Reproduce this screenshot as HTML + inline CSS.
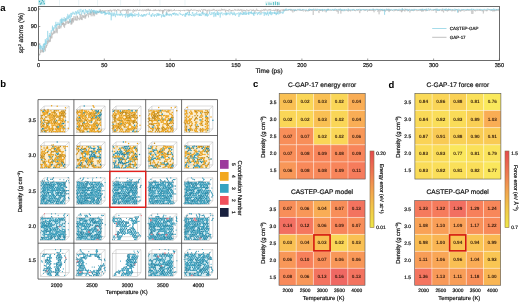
<!DOCTYPE html>
<html><head><meta charset="utf-8"><title>figure</title><style>
*{margin:0;padding:0}
html,body{width:520px;height:302px;background:#fff;overflow:hidden}
svg{display:block}
text{font-family:"Liberation Sans", Arial, sans-serif;fill:#111;stroke:#111;stroke-width:0.2px;text-rendering:geometricPrecision}
.tk{font-size:5.65px}
.lb{font-size:6.5px}
.tk2{font-size:4.85px}
.tk3{font-size:5.2px}
.lb2{font-size:5.8px}
.lg{font-size:4.45px;stroke-width:0.18px}
.ti{font-size:6.6px}
.hv{font-size:4.7px;font-weight:bold;fill:#2a1406;fill-opacity:0.92;stroke:none}
.pl{font-size:9.5px;font-weight:bold;fill:#000;stroke:none}
.cbl{font-size:5.2px}
</style></head>
<body><svg width="520" height="302" viewBox="0 0 520 302"><defs><linearGradient id="cb" x1="0" y1="0" x2="0" y2="1"><stop offset="0" stop-color="#e64a4e"/><stop offset="0.3" stop-color="#ef7a52"/><stop offset="0.5" stop-color="#f3a04e"/><stop offset="0.75" stop-color="#f2c848"/><stop offset="1" stop-color="#eee848"/></linearGradient></defs>
<polyline points="38.5,54.5 38.8,53.5 39.0,54.4 39.3,55.5 39.6,54.2 39.8,55.0 40.1,52.3 40.3,49.1 40.6,52.9 40.9,52.8 41.1,50.0 41.4,50.0 41.7,50.2 41.9,52.2 42.2,49.8 42.5,47.8 42.7,52.1 43.0,49.8 43.2,52.7 43.5,50.9 43.8,51.8 44.0,47.9 44.3,49.9 44.6,46.1 44.8,46.0 45.1,46.4 45.3,51.3 45.6,46.5 45.9,45.1 46.1,44.4 46.4,47.7 46.7,45.0 46.9,45.8 47.2,45.1 47.5,40.6 47.7,44.3 48.0,42.1 48.2,39.7 48.5,42.5 48.8,41.0 49.0,40.1 49.3,39.8 49.6,42.2 49.8,38.9 50.1,35.7 50.4,41.7 50.6,36.0 50.9,37.2 51.1,38.4 51.4,32.2 51.7,34.5 51.9,38.4 52.2,35.1 52.5,33.6 52.7,34.9 53.0,32.6 53.2,33.8 53.5,31.7 53.8,29.6 54.0,33.8 54.3,31.5 54.6,32.5 54.8,30.8 55.1,33.3 55.4,31.8 55.6,30.8 55.9,28.2 56.1,27.4 56.4,32.5 56.7,31.2 56.9,27.8 57.2,33.3 57.5,29.8 57.7,28.8 58.0,25.7 58.3,26.7 58.5,28.6 58.8,28.5 59.0,28.0 59.3,24.0 59.6,28.9 59.8,27.5 60.1,25.8 60.4,26.6 60.6,26.6 60.9,28.3 61.2,25.7 61.4,26.4 61.7,22.8 61.9,23.7 62.2,24.9 62.5,23.2 62.7,25.1 63.0,22.1 63.3,24.2 63.5,22.8 63.8,26.6 64.0,23.0 64.3,27.2 64.6,27.8 64.8,24.0 65.1,25.2 65.4,22.8 65.6,18.3 65.9,24.6 66.2,24.1 66.4,22.2 66.7,21.5 66.9,22.7 67.2,22.7 67.5,20.7 67.7,20.9 68.0,24.0 68.3,21.9 68.5,21.6 68.8,23.7 69.1,20.8 69.3,23.0 69.6,19.1 69.8,20.6 70.1,20.7 70.4,22.0 70.6,20.9 70.9,24.6 71.2,22.7 71.4,19.5 71.7,24.5 71.9,18.2 72.2,23.4 72.5,18.2 72.7,21.3 73.0,17.9 73.3,19.1 73.5,22.4 73.8,16.6 74.1,16.0 74.3,19.0 74.6,19.4 74.8,19.1 75.1,20.7 75.4,16.4 75.6,19.6 75.9,18.6 76.2,20.0 76.4,19.6 76.7,20.8 77.0,15.6 77.2,18.4 77.5,16.1 77.7,20.4 78.0,19.2 78.3,18.4 78.5,18.8 78.8,17.6 79.1,18.3 79.3,18.1 79.6,20.2 79.9,18.9 80.1,13.9 80.4,18.5 80.6,19.2 80.9,16.4 81.2,14.1 81.4,19.8 81.7,17.2 82.0,18.0 82.2,20.1 82.5,15.1 82.7,16.5 83.0,16.3 83.3,17.8 83.5,15.4 83.8,17.3 84.1,16.4 84.3,18.2 84.6,18.3 84.9,13.2 85.1,16.8 85.4,15.1 85.6,18.6 85.9,16.4 86.2,16.5 86.4,14.2 86.7,15.9 87.0,15.5 87.2,15.1 87.5,12.8 87.8,13.7 88.0,14.2 88.3,15.9 88.5,17.4 88.8,12.8 89.1,12.7 89.3,14.8 89.6,13.4 89.9,12.8 90.1,12.7 90.4,12.4 90.6,15.0 90.9,11.1 91.2,16.3 91.4,12.2 91.7,12.9 92.0,12.1 92.2,10.2 92.5,10.9 92.8,15.5 93.0,16.3 93.3,11.9 93.5,14.9 93.8,14.9 94.1,11.7 94.3,15.6 94.6,16.2 94.9,12.4 95.1,12.7 95.4,13.0 95.7,12.5 95.9,13.7 96.2,14.6 96.4,12.6 96.7,13.6 97.0,14.4 97.2,11.4 97.5,12.1 97.8,11.4 98.0,13.1 98.3,12.6 98.6,12.9 98.8,12.6 99.1,11.3 99.3,12.3 99.6,11.0 99.9,10.9 100.1,9.1 100.4,12.5 100.7,10.2 100.9,11.2 101.2,11.1 101.4,12.4 101.7,11.4 102.0,10.4 102.2,11.1 102.5,10.9 102.8,11.2 103.0,10.1 103.3,11.0 103.6,12.5 103.8,11.4 104.1,12.2 104.3,12.9 104.6,11.2 104.9,10.1 105.1,10.8 105.4,11.6 105.7,11.4 105.9,10.1 106.2,10.7 106.5,10.8 106.7,10.8 107.0,10.7 107.2,10.3 107.5,10.4 107.8,10.6 108.0,11.3 108.3,10.4 108.6,11.1 108.8,10.0 109.1,11.4 109.3,10.7 109.6,10.6 109.9,11.4 110.1,9.5 110.4,9.7 110.7,10.9 110.9,10.5 111.2,10.3 111.5,12.1 111.7,10.4 112.0,10.5 112.2,10.4 112.5,11.1 112.8,10.6 113.0,10.6 113.3,9.7 113.6,10.2 113.8,10.4 114.1,9.5 114.4,10.7 114.6,10.6 114.9,11.5 115.1,9.4 115.4,9.7 115.7,9.8 115.9,9.9 116.2,11.1 116.5,10.1 116.7,11.4 117.0,10.4 117.3,10.2 117.5,9.3 117.8,9.9 118.0,10.3 118.3,10.6 118.6,10.6 118.8,9.2 119.1,9.9 119.4,10.2 119.6,10.4 119.9,10.9 120.1,10.3 120.4,13.0 120.7,10.5 120.9,10.4 121.2,10.4 121.5,10.2 121.7,11.2 122.0,10.4 122.3,10.7 122.5,9.7 122.8,10.7 123.0,9.9 123.3,9.3 123.6,10.4 123.8,10.6 124.1,10.1 124.4,10.2 124.6,10.8 124.9,9.9 125.2,9.0 125.4,10.4 125.7,10.3 125.9,10.9 126.2,10.0 126.5,13.4 126.7,11.7 127.0,9.4 127.3,10.8 127.5,9.6 127.8,9.3 128.0,14.8 128.3,9.9 128.6,9.0 128.8,10.3 129.1,10.6 129.4,11.0 129.6,10.2 129.9,9.4 130.2,9.6 130.4,10.8 130.7,10.7 130.9,10.5 131.2,10.0 131.5,10.3 131.7,10.1 132.0,10.0 132.3,10.4 132.5,10.2 132.8,10.1 133.1,12.9 133.3,9.9 133.6,9.1 133.8,9.9 134.1,10.2 134.4,11.2 134.6,10.0 134.9,11.4 135.2,11.1 135.4,9.7 135.7,9.8 136.0,10.3 136.2,11.3 136.5,10.4 136.7,10.6 137.0,9.8 137.3,8.9 137.5,10.1 137.8,10.7 138.1,10.9 138.3,10.3 138.6,10.3 138.8,10.9 139.1,10.2 139.4,10.9 139.6,9.6 139.9,9.6 140.2,9.6 140.4,10.5 140.7,9.9 141.0,10.3 141.2,10.5 141.5,10.4 141.7,11.0 142.0,11.1 142.3,9.7 142.5,10.3 142.8,10.1 143.1,9.6 143.3,11.3 143.6,10.7 143.9,10.1 144.1,10.0 144.4,10.5 144.6,9.6 144.9,10.1 145.2,11.0 145.4,10.8 145.7,9.7 146.0,9.9 146.2,11.4 146.5,9.4 146.7,9.9 147.0,9.4 147.3,10.5 147.5,10.4 147.8,10.9 148.1,8.7 148.3,10.3 148.6,9.3 148.9,10.6 149.1,10.1 149.4,11.2 149.6,10.5 149.9,9.6 150.2,11.0 150.4,9.6 150.7,10.0 151.0,10.9 151.2,10.5 151.5,10.5 151.8,10.3 152.0,10.5 152.3,10.7 152.5,10.4 152.8,10.8 153.1,11.0 153.3,10.3 153.6,9.7 153.9,11.1 154.1,10.2 154.4,10.6 154.7,10.8 154.9,9.7 155.2,10.5 155.4,9.3 155.7,10.7 156.0,10.0 156.2,10.4 156.5,10.7 156.8,9.9 157.0,10.3 157.3,9.9 157.5,10.3 157.8,10.9 158.1,10.3 158.3,10.2 158.6,9.6 158.9,10.8 159.1,10.2 159.4,11.3 159.7,9.8 159.9,10.9 160.2,11.3 160.4,10.3 160.7,9.6 161.0,11.1 161.2,10.9 161.5,10.7 161.8,10.9 162.0,10.0 162.3,10.7 162.6,14.0 162.8,9.9 163.1,12.9 163.3,10.0 163.6,10.8 163.9,11.0 164.1,11.3 164.4,9.1 164.7,10.4 164.9,10.1 165.2,10.2 165.4,10.1 165.7,10.2 166.0,9.1 166.2,10.8 166.5,11.2 166.8,15.1 167.0,11.0 167.3,9.8 167.6,9.7 167.8,10.8 168.1,11.1 168.3,10.4 168.6,9.4 168.9,11.9 169.1,9.9 169.4,10.9 169.7,9.6 169.9,10.9 170.2,10.4 170.5,11.1 170.7,10.8 171.0,9.4 171.2,9.7 171.5,10.5 171.8,10.7 172.0,11.4 172.3,10.5 172.6,10.2 172.8,10.3 173.1,10.3 173.4,10.9 173.6,10.3 173.9,10.2 174.1,10.9 174.4,9.1 174.7,10.3 174.9,10.7 175.2,10.9 175.5,10.6 175.7,10.7 176.0,10.3 176.2,10.8 176.5,9.9 176.8,10.3 177.0,10.1 177.3,10.3 177.6,10.7 177.8,10.8 178.1,10.4 178.4,10.6 178.6,10.1 178.9,10.2 179.1,11.0 179.4,10.2 179.7,11.0 179.9,10.6 180.2,10.4 180.5,11.5 180.7,10.2 181.0,10.1 181.3,10.3 181.5,10.5 181.8,10.4 182.0,10.8 182.3,10.4 182.6,10.6 182.8,10.2 183.1,10.9 183.4,10.1 183.6,10.1 183.9,10.3 184.1,10.5 184.4,9.9 184.7,11.2 184.9,10.0 185.2,10.1 185.5,10.1 185.7,10.0 186.0,10.6 186.3,10.4 186.5,9.8 186.8,10.0 187.0,10.1 187.3,11.1 187.6,9.9 187.8,9.5 188.1,9.6 188.4,10.1 188.6,11.2 188.9,9.7 189.2,13.0 189.4,11.7 189.7,10.0 189.9,11.1 190.2,11.0 190.5,10.6 190.7,9.5 191.0,10.4 191.3,10.1 191.5,9.2 191.8,9.3 192.1,10.3 192.3,10.4 192.6,11.0 192.8,10.6 193.1,10.0 193.4,10.0 193.6,10.2 193.9,9.6 194.2,10.7 194.4,10.3 194.7,9.8 194.9,9.9 195.2,9.6 195.5,10.0 195.7,10.4 196.0,10.0 196.3,10.8 196.5,11.2 196.8,9.9 197.1,10.3 197.3,10.0 197.6,11.2 197.8,10.4 198.1,10.6 198.4,10.7 198.6,11.6 198.9,10.4 199.2,9.7 199.4,10.0 199.7,10.6 200.0,10.2 200.2,11.1 200.5,11.9 200.7,10.3 201.0,9.9 201.3,9.8 201.5,9.2 201.8,9.6 202.1,10.0 202.3,10.0 202.6,9.8 202.8,13.3 203.1,10.2 203.4,9.7 203.6,9.1 203.9,10.3 204.2,10.3 204.4,10.1 204.7,9.4 205.0,10.2 205.2,9.4 205.5,10.8 205.7,10.3 206.0,10.3 206.3,9.8 206.5,10.3 206.8,11.1 207.1,14.1 207.3,10.0 207.6,10.6 207.9,11.1 208.1,9.6 208.4,9.9 208.6,9.9 208.9,10.5 209.2,11.5 209.4,10.4 209.7,9.6 210.0,10.8 210.2,10.7 210.5,11.1 210.8,10.6 211.0,9.8 211.3,10.1 211.5,10.8 211.8,10.2 212.1,10.4 212.3,9.7 212.6,10.6 212.9,10.5 213.1,9.5 213.4,8.9 213.6,10.3 213.9,10.2 214.2,10.1 214.4,9.3 214.7,10.3 215.0,10.8 215.2,10.2 215.5,10.0 215.8,10.7 216.0,11.2 216.3,11.1 216.5,9.8 216.8,10.7 217.1,10.3 217.3,10.1 217.6,9.9 217.9,10.4 218.1,9.9 218.4,10.7 218.7,10.4 218.9,10.8 219.2,9.6 219.4,10.2 219.7,10.7 220.0,10.4 220.2,10.4 220.5,9.8 220.8,11.2 221.0,10.8 221.3,10.4 221.5,8.7 221.8,9.7 222.1,10.3 222.3,9.8 222.6,9.0 222.9,10.4 223.1,10.4 223.4,9.5 223.7,9.9 223.9,9.8 224.2,10.5 224.4,9.1 224.7,9.2 225.0,9.9 225.2,9.8 225.5,12.4 225.8,9.9 226.0,10.3 226.3,10.0 226.6,9.8 226.8,10.4 227.1,11.2 227.3,10.0 227.6,10.7 227.9,10.4 228.1,10.6 228.4,10.4 228.7,11.6 228.9,9.5 229.2,10.1 229.5,9.6 229.7,9.1 230.0,10.2 230.2,11.3 230.5,10.7 230.8,10.9 231.0,10.5 231.3,10.2 231.6,11.4 231.8,10.0 232.1,11.1 232.3,10.1 232.6,10.3 232.9,10.4 233.1,10.3 233.4,10.5 233.7,10.6 233.9,11.2 234.2,10.2 234.5,9.1 234.7,9.1 235.0,9.5 235.2,9.8 235.5,10.6 235.8,9.4 236.0,10.3 236.3,10.3 236.6,10.4 236.8,10.2 237.1,10.5 237.4,10.3 237.6,10.9 237.9,10.4 238.1,8.9 238.4,10.3 238.7,10.4 238.9,9.9 239.2,9.8 239.5,10.9 239.7,10.3 240.0,9.7 240.2,10.1 240.5,10.2 240.8,9.3 241.0,10.6 241.3,10.2 241.6,10.5 241.8,9.4 242.1,12.7 242.4,10.6 242.6,10.5 242.9,9.8 243.1,9.9 243.4,10.2 243.7,11.1 243.9,9.8 244.2,10.4 244.5,10.6 244.7,9.9 245.0,10.8 245.3,11.4 245.5,10.4 245.8,11.1 246.0,10.6 246.3,10.0 246.6,10.0 246.8,9.3 247.1,10.3 247.4,11.1 247.6,10.7 247.9,10.8 248.2,10.9 248.4,10.0 248.7,10.6 248.9,11.4 249.2,9.8 249.5,10.3 249.7,10.0 250.0,10.2 250.3,9.9 250.5,10.2 250.8,9.5 251.0,10.0 251.3,10.0 251.6,10.0 251.8,11.1 252.1,10.3 252.4,10.4 252.6,10.1 252.9,11.0 253.2,9.3 253.4,10.2 253.7,10.9 253.9,11.2 254.2,10.4 254.5,10.3 254.7,11.2 255.0,12.9 255.3,10.6 255.5,9.9 255.8,10.6 256.1,10.2 256.3,9.7 256.6,8.7 256.8,10.8 257.1,10.5 257.4,10.7 257.6,9.8 257.9,10.9 258.2,10.5 258.4,10.2 258.7,10.8 258.9,10.8 259.2,10.5 259.5,11.4 259.7,11.1 260.0,10.5 260.3,10.1 260.5,11.3 260.8,11.3 261.1,13.0 261.3,9.8 261.6,9.9 261.8,10.3 262.1,10.7 262.4,9.9 262.6,10.6 262.9,10.9 263.2,10.7 263.4,9.4 263.7,10.1 264.0,9.6 264.2,10.5 264.5,9.7 264.7,10.6 265.0,10.3 265.3,8.8 265.5,9.8 265.8,10.5 266.1,10.3 266.3,10.0 266.6,9.5 266.9,10.5 267.1,11.2 267.4,10.4 267.6,10.2 267.9,10.2 268.2,9.5 268.4,10.0 268.7,9.8 269.0,10.9 269.2,9.7 269.5,9.0 269.7,9.8 270.0,10.1 270.3,10.1 270.5,9.2 270.8,10.8 271.1,10.3 271.3,10.0 271.6,9.8 271.9,10.5 272.1,10.0 272.4,10.4 272.6,10.2 272.9,10.3 273.2,10.9 273.4,10.2 273.7,9.7 274.0,10.8 274.2,10.4 274.5,9.8 274.8,10.8 275.0,10.1 275.3,10.8 275.5,9.6 275.8,8.9 276.1,9.1 276.3,10.4 276.6,9.8 276.9,10.2 277.1,12.6 277.4,9.3 277.6,11.0 277.9,9.6 278.2,10.3 278.4,9.4 278.7,10.1 279.0,10.6 279.2,12.1 279.5,9.8 279.8,10.2 280.0,13.6 280.3,10.5 280.5,11.4 280.8,9.7 281.1,9.8 281.3,10.1 281.6,10.2 281.9,9.6 282.1,10.5 282.4,10.6 282.7,10.3 282.9,9.5 283.2,11.0 283.4,9.5 283.7,10.6 284.0,10.9 284.2,9.5 284.5,10.3 284.8,11.0 285.0,10.4 285.3,9.7 285.6,9.5 285.8,10.5 286.1,10.0 286.3,9.8 286.6,10.6 286.9,10.0 287.1,10.2 287.4,10.5 287.7,10.5 287.9,10.2 288.2,10.2 288.4,10.5 288.7,10.5 289.0,9.6 289.2,10.1 289.5,9.7 289.8,9.5 290.0,9.9 290.3,8.9 290.6,10.7 290.8,9.8 291.1,10.4 291.3,9.2 291.6,9.3 291.9,11.3 292.1,10.8 292.4,9.8 292.7,9.8 292.9,12.5 293.2,10.3 293.5,10.0 293.7,9.9 294.0,10.3 294.2,9.6 294.5,11.5 294.8,9.9 295.0,10.8 295.3,9.7 295.6,10.4 295.8,10.7 296.1,10.0 296.3,10.7 296.6,10.7 296.9,11.1 297.1,10.2 297.4,9.9 297.7,9.6 297.9,10.3 298.2,9.6 298.5,10.2 298.7,10.3 299.0,9.9 299.2,9.6 299.5,10.4 299.8,10.4 300.0,10.3 300.3,10.2 300.6,10.7 300.8,9.6 301.1,10.5 301.4,10.0 301.6,10.7 301.9,10.0 302.1,10.0 302.4,10.5 302.7,9.1 302.9,10.0 303.2,11.4 303.5,11.2 303.7,10.6 304.0,10.4 304.3,10.0 304.5,10.2 304.8,10.2 305.0,10.4 305.3,11.3 305.6,10.4 305.8,11.5 306.1,10.0 306.4,10.6 306.6,10.6 306.9,10.3 307.1,10.1 307.4,11.0 307.7,11.2 307.9,10.8 308.2,11.4 308.5,10.8 308.7,9.3 309.0,10.8 309.3,9.9 309.5,11.0 309.8,10.1 310.0,10.4 310.3,10.3 310.6,9.9 310.8,9.2 311.1,10.1 311.4,10.2 311.6,10.8 311.9,9.9 312.2,10.4 312.4,9.8 312.7,10.2 312.9,9.2 313.2,15.0 313.5,10.4 313.7,9.7 314.0,10.4 314.3,10.7 314.5,10.4 314.8,11.0 315.0,10.2 315.3,8.8 315.6,9.6 315.8,10.9 316.1,10.7 316.4,10.5 316.6,9.7 316.9,10.7 317.2,10.6 317.4,9.7 317.7,9.7 317.9,10.4 318.2,10.9 318.5,11.1 318.7,11.0 319.0,13.1 319.3,9.8 319.5,10.6 319.8,10.0 320.1,10.6 320.3,9.6 320.6,10.9 320.8,9.7 321.1,9.6 321.4,10.6 321.6,10.8 321.9,10.3 322.2,11.1 322.4,9.4 322.7,11.6 323.0,10.8 323.2,10.4 323.5,10.4 323.7,10.1 324.0,10.1 324.3,10.3 324.5,9.6 324.8,11.4 325.1,10.8 325.3,10.6 325.6,10.2 325.8,10.1 326.1,12.4 326.4,10.6 326.6,9.8 326.9,10.0 327.2,10.6 327.4,9.1 327.7,8.9 328.0,11.0 328.2,10.1 328.5,8.8 328.7,9.8 329.0,10.1 329.3,10.3 329.5,10.5 329.8,10.3 330.1,10.5 330.3,9.8 330.6,10.4 330.9,10.5 331.1,10.9 331.4,10.3 331.6,10.7 331.9,10.3 332.2,9.6 332.4,10.0 332.7,9.9 333.0,10.0 333.2,10.2 333.5,10.3 333.7,10.4 334.0,9.8 334.3,10.8 334.5,9.5 334.8,10.2 335.1,10.6 335.3,10.5 335.6,10.6 335.9,10.1 336.1,10.6 336.4,9.6 336.6,10.7 336.9,11.5 337.2,10.6 337.4,11.4 337.7,10.2 338.0,9.6 338.2,13.7 338.5,11.0 338.8,10.7 339.0,9.2 339.3,10.0 339.5,10.2 339.8,9.6 340.1,8.9 340.3,9.5 340.6,10.1 340.9,13.6 341.1,9.9 341.4,11.1 341.7,10.8 341.9,10.2 342.2,10.8 342.4,10.3 342.7,10.2 343.0,11.2 343.2,10.7 343.5,10.3 343.8,10.3 344.0,10.0 344.3,9.6 344.5,10.5 344.8,10.7 345.1,11.1 345.3,10.7 345.6,9.9 345.9,10.2 346.1,10.8 346.4,10.4 346.7,10.2 346.9,9.9 347.2,10.6 347.4,10.4 347.7,11.2 348.0,10.9 348.2,9.3 348.5,11.4 348.8,10.4 349.0,10.1 349.3,10.4 349.6,10.7 349.8,10.3 350.1,11.1 350.3,10.3 350.6,11.3 350.9,10.3 351.1,10.7 351.4,10.5 351.7,10.1 351.9,9.9 352.2,9.7 352.4,10.5 352.7,9.7 353.0,9.6 353.2,9.6 353.5,9.5 353.8,10.3 354.0,10.3 354.3,9.8 354.6,11.0 354.8,10.1 355.1,10.5 355.3,10.4 355.6,11.2 355.9,10.7 356.1,10.2 356.4,9.7 356.7,9.7 356.9,10.3 357.2,10.3 357.5,10.7 357.7,10.0 358.0,10.4 358.2,9.9 358.5,9.3 358.8,10.2 359.0,11.1 359.3,10.7 359.6,11.0 359.8,13.1 360.1,9.5 360.4,10.1 360.6,11.1 360.9,9.9 361.1,9.5 361.4,10.4 361.7,10.6 361.9,10.4 362.2,10.1 362.5,9.9 362.7,9.6 363.0,9.6 363.2,9.6 363.5,9.5 363.8,9.9 364.0,11.1 364.3,10.3 364.6,10.1 364.8,10.4 365.1,9.7 365.4,10.4 365.6,10.7 365.9,9.4 366.1,9.9 366.4,10.1 366.7,9.7 366.9,9.6 367.2,10.0 367.5,11.6 367.7,10.6 368.0,10.5 368.3,10.8 368.5,10.1 368.8,9.6 369.0,10.5 369.3,10.9 369.6,9.1 369.8,10.5 370.1,10.9 370.4,10.1 370.6,10.0 370.9,10.6 371.1,9.8 371.4,10.5 371.7,10.7 371.9,10.1 372.2,9.8 372.5,10.6 372.7,10.0 373.0,10.3 373.3,8.7 373.5,10.6 373.8,9.5 374.0,12.3 374.3,10.3 374.6,9.8 374.8,9.7 375.1,9.5 375.4,10.0 375.6,10.6 375.9,10.5 376.2,9.9 376.4,9.9 376.7,9.5 376.9,10.0 377.2,9.6 377.5,9.4 377.7,11.7 378.0,11.0 378.3,10.9 378.5,11.0 378.8,9.3 379.1,14.3 379.3,9.5 379.6,9.9 379.8,9.3 380.1,9.7 380.4,11.4 380.6,10.3 380.9,10.2 381.2,10.1 381.4,10.5 381.7,10.2 381.9,9.3 382.2,11.2 382.5,10.1 382.7,10.7 383.0,10.1 383.3,9.8 383.5,10.3 383.8,9.8 384.1,11.1 384.3,9.6 384.6,10.6 384.8,9.9 385.1,10.1 385.4,11.6 385.6,10.6 385.9,10.1 386.2,9.4 386.4,10.1 386.7,10.1 387.0,11.0 387.2,9.4 387.5,9.2 387.7,10.2 388.0,10.3 388.3,11.1 388.5,9.7 388.8,8.7 389.1,12.1 389.3,9.5 389.6,9.9 389.8,10.8 390.1,9.5 390.4,10.9 390.6,10.3 390.9,10.1 391.2,9.7 391.4,10.0 391.7,10.0 392.0,10.6 392.2,10.9 392.5,10.2 392.7,10.6 393.0,10.9 393.3,10.9 393.5,10.5 393.8,11.2 394.1,11.0 394.3,11.1 394.6,10.1 394.9,10.0 395.1,9.1 395.4,11.0 395.6,10.6 395.9,9.7 396.2,10.3 396.4,10.4 396.7,9.3 397.0,10.4 397.2,10.9 397.5,10.9 397.8,10.0 398.0,10.1 398.3,11.0 398.5,10.8 398.8,9.9 399.1,9.9 399.3,10.6 399.6,9.9 399.9,9.9 400.1,11.2 400.4,10.4 400.6,10.0 400.9,10.5 401.2,11.4 401.4,10.4 401.7,12.3 402.0,9.4 402.2,11.4 402.5,8.8 402.8,10.8 403.0,9.7 403.3,9.6 403.5,9.7 403.8,10.1 404.1,10.9 404.3,9.9 404.6,10.6 404.9,11.6 405.1,8.7 405.4,9.8 405.7,9.2 405.9,10.7 406.2,9.4 406.4,9.4 406.7,9.4 407.0,10.2 407.2,10.9 407.5,10.3 407.8,11.4 408.0,11.2 408.3,10.2 408.5,10.8 408.8,10.3 409.1,10.3 409.3,9.2 409.6,9.5 409.9,12.5 410.1,11.0 410.4,10.6 410.7,10.4 410.9,9.7 411.2,10.9 411.4,10.4 411.7,10.9 412.0,10.2 412.2,9.3 412.5,10.6 412.8,10.1 413.0,10.7 413.3,10.9 413.6,10.9 413.8,9.4 414.1,8.9 414.3,10.0 414.6,10.6 414.9,9.8 415.1,10.4 415.4,9.8 415.7,10.1 415.9,10.1 416.2,9.9 416.5,10.5 416.7,10.4 417.0,11.2 417.2,10.5 417.5,11.0 417.8,10.3 418.0,10.7 418.3,10.2 418.6,10.0 418.8,11.0 419.1,10.7 419.3,10.7 419.6,9.8 419.9,9.3 420.1,9.8 420.4,10.4 420.7,9.4 420.9,11.0 421.2,9.4 421.5,10.6 421.7,11.7 422.0,8.8 422.2,9.4 422.5,10.8 422.8,10.1 423.0,11.7 423.3,10.2 423.6,11.0 423.8,10.6 424.1,10.0 424.4,10.1 424.6,9.6 424.9,10.2 425.1,9.0 425.4,10.6 425.7,10.1 425.9,11.3 426.2,10.9 426.5,9.5 426.7,10.7 427.0,9.9 427.2,10.3 427.5,10.8 427.8,10.4 428.0,10.5 428.3,10.5 428.6,9.8 428.8,9.9 429.1,10.5 429.4,10.7 429.6,10.1 429.9,10.3 430.1,9.7 430.4,8.8 430.7,9.8 430.9,10.2 431.2,10.3 431.5,10.7 431.7,10.7 432.0,10.8 432.3,10.4 432.5,10.5 432.8,9.8 433.0,10.4 433.3,10.3 433.6,10.9 433.8,9.3 434.1,10.0 434.4,9.3 434.6,9.8 434.9,9.4 435.2,10.4 435.4,9.8 435.7,8.8 435.9,10.9 436.2,12.9 436.5,9.3 436.7,10.0 437.0,9.8 437.3,9.5 437.5,10.6 437.8,10.0 438.0,10.7 438.3,10.6 438.6,10.6 438.8,10.3 439.1,10.1 439.4,10.0 439.6,11.0 439.9,9.2 440.2,9.6 440.4,9.8 440.7,10.4 440.9,10.3 441.2,9.9 441.5,10.0 441.7,11.2 442.0,9.8 442.3,8.6 442.5,11.2 442.8,9.7 443.1,10.0 443.3,10.3 443.6,12.5 443.8,10.9 444.1,10.1 444.4,9.4 444.6,10.3 444.9,10.5 445.2,10.9 445.4,10.5 445.7,9.4 445.9,10.7 446.2,9.7 446.5,10.9 446.7,10.7 447.0,10.3 447.3,11.6 447.5,10.2 447.8,10.8 448.1,10.5 448.3,9.4 448.6,10.8 448.8,10.8 449.1,9.4 449.4,10.2 449.6,9.4 449.9,10.0 450.2,10.7 450.4,10.3 450.7,9.5 451.0,9.7 451.2,10.2 451.5,10.2 451.7,11.3 452.0,10.5 452.3,9.2 452.5,10.2 452.8,11.2 453.1,10.5 453.3,9.8 453.6,10.3 453.9,10.3 454.1,10.6 454.4,10.2 454.6,11.1 454.9,11.4 455.2,9.8 455.4,10.5 455.7,10.0 456.0,9.6 456.2,9.9 456.5,10.2 456.7,9.1 457.0,9.9 457.3,10.4 457.5,9.8 457.8,10.0 458.1,10.7 458.3,12.6 458.6,10.3 458.9,11.3 459.1,10.3 459.4,10.4 459.6,10.5 459.9,11.1 460.2,10.4 460.4,10.2 460.7,11.7 461.0,10.8 461.2,9.9 461.5,10.9 461.8,10.3 462.0,9.5 462.3,10.6 462.5,10.5 462.8,9.6 463.1,10.4 463.3,10.4 463.6,10.1 463.9,9.7 464.1,11.4 464.4,10.7 464.6,10.8 464.9,10.8 465.2,10.7 465.4,10.7 465.7,10.1 466.0,10.7 466.2,10.2 466.5,10.0 466.8,10.8 467.0,10.2 467.3,9.3 467.5,10.0 467.8,10.6 468.1,10.3 468.3,10.7 468.6,10.1 468.9,9.8 469.1,10.7 469.4,10.3 469.7,9.6 469.9,10.5 470.2,10.6 470.4,10.8 470.7,10.7 471.0,10.5 471.2,9.1 471.5,10.4 471.8,13.9 472.0,10.5 472.3,10.3 472.6,9.9 472.8,13.9 473.1,12.9 473.3,10.1 473.6,9.5 473.9,10.1 474.1,9.9 474.4,11.0 474.7,10.3 474.9,10.3 475.2,10.4 475.4,11.4 475.7,9.8 476.0,10.4 476.2,10.5 476.5,10.4 476.8,10.3 477.0,10.0 477.3,10.9 477.6,10.7 477.8,10.1 478.1,10.1 478.3,10.4 478.6,10.5 478.9,10.7 479.1,10.3 479.4,9.6 479.7,10.8 479.9,9.4 480.2,9.8 480.5,10.5 480.7,9.8 481.0,11.0 481.2,11.1 481.5,10.9 481.8,10.4 482.0,10.4 482.3,10.5 482.6,10.2 482.8,11.4 483.1,10.0 483.3,13.5 483.6,10.6 483.9,10.4 484.1,10.8 484.4,10.9 484.7,10.8 484.9,10.2 485.2,9.9 485.5,9.9 485.7,10.8 486.0,10.6 486.2,10.7 486.5,10.0 486.8,11.3 487.0,9.6 487.3,10.5 487.6,10.6 487.8,10.0 488.1,9.7 488.4,10.0 488.6,9.7 488.9,10.2 489.1,9.6 489.4,9.6 489.7,10.3 489.9,9.5 490.2,10.1 490.5,10.2 490.7,10.7 491.0,10.4 491.3,9.8 491.5,10.9 491.8,9.9 492.0,10.0 492.3,10.1 492.6,11.4 492.8,10.3 493.1,9.9 493.4,10.6 493.6,10.2 493.9,11.5 494.1,9.9 494.4,10.6 494.7,9.8 494.9,11.2 495.2,9.9 495.5,10.3 495.7,9.8 496.0,10.7 496.3,10.6 496.5,9.0 496.8,10.7 497.0,10.6 497.3,10.4 497.6,10.8 497.8,9.6 498.1,9.3 498.4,10.6 498.6,11.1 498.9,9.6 499.2,9.6 499.4,9.8" fill="none" stroke="#ababab" stroke-width="0.45" stroke-linejoin="round"/>
<polyline points="38.5,44.1 38.8,46.8 39.0,44.1 39.3,46.5 39.6,48.3 39.8,49.0 40.1,45.3 40.3,49.3 40.6,44.9 40.9,45.8 41.1,48.3 41.4,46.2 41.7,48.3 41.9,49.7 42.2,48.3 42.5,49.5 42.7,45.9 43.0,46.5 43.2,44.8 43.5,43.7 43.8,51.8 44.0,43.8 44.3,47.9 44.6,43.1 44.8,44.9 45.1,42.3 45.3,39.1 45.6,45.2 45.9,40.6 46.1,40.7 46.4,44.0 46.7,38.1 46.9,38.9 47.2,39.6 47.5,39.6 47.7,30.9 48.0,38.1 48.2,40.6 48.5,38.3 48.8,36.7 49.0,36.3 49.3,35.2 49.6,36.8 49.8,33.1 50.1,34.7 50.4,36.1 50.6,34.6 50.9,33.2 51.1,30.3 51.4,30.6 51.7,31.8 51.9,30.7 52.2,29.8 52.5,25.7 52.7,30.6 53.0,28.0 53.2,27.3 53.5,30.4 53.8,27.9 54.0,27.7 54.3,28.7 54.6,26.5 54.8,25.3 55.1,24.9 55.4,27.3 55.6,26.3 55.9,21.8 56.1,28.4 56.4,25.6 56.7,24.0 56.9,26.1 57.2,24.0 57.5,24.8 57.7,23.4 58.0,22.2 58.3,24.8 58.5,23.8 58.8,24.1 59.0,24.5 59.3,23.5 59.6,25.4 59.8,21.6 60.1,19.6 60.4,19.4 60.6,20.0 60.9,25.7 61.2,19.0 61.4,23.0 61.7,21.5 61.9,17.8 62.2,23.0 62.5,19.2 62.7,20.0 63.0,20.6 63.3,21.7 63.5,19.1 63.8,20.5 64.0,17.6 64.3,17.1 64.6,21.6 64.8,19.8 65.1,19.3 65.4,20.7 65.6,20.4 65.9,18.0 66.2,18.4 66.4,20.7 66.7,18.6 66.9,16.5 67.2,19.4 67.5,18.7 67.7,14.1 68.0,14.4 68.3,19.3 68.5,18.7 68.8,15.5 69.1,18.0 69.3,16.2 69.6,16.3 69.8,14.4 70.1,22.7 70.4,18.8 70.6,16.9 70.9,12.9 71.2,14.7 71.4,17.1 71.7,13.3 71.9,12.9 72.2,14.4 72.5,14.5 72.7,13.1 73.0,11.7 73.3,13.4 73.5,12.7 73.8,13.6 74.1,14.0 74.3,14.8 74.6,12.8 74.8,13.6 75.1,13.5 75.4,11.5 75.6,12.1 75.9,11.4 76.2,15.3 76.4,11.8 76.7,13.5 77.0,13.8 77.2,13.8 77.5,10.4 77.7,10.9 78.0,13.3 78.3,13.9 78.5,12.1 78.8,12.8 79.1,9.5 79.3,14.3 79.6,14.9 79.9,12.4 80.1,12.0 80.4,11.8 80.6,10.8 80.9,8.9 81.2,12.5 81.4,12.7 81.7,14.5 82.0,11.5 82.2,10.6 82.5,12.2 82.7,10.1 83.0,11.8 83.3,9.6 83.5,11.3 83.8,13.3 84.1,12.6 84.3,13.9 84.6,14.1 84.9,11.3 85.1,10.5 85.4,9.0 85.6,11.7 85.9,11.9 86.2,13.1 86.4,10.3 86.7,11.0 87.0,12.4 87.2,10.6 87.5,10.8 87.8,14.0 88.0,10.5 88.3,11.3 88.5,12.0 88.8,12.0 89.1,9.2 89.3,9.4 89.6,9.1 89.9,12.8 90.1,12.2 90.4,10.2 90.6,12.8 90.9,12.2 91.2,13.5 91.4,9.0 91.7,10.0 92.0,10.8 92.2,11.1 92.5,11.8 92.8,11.8 93.0,10.6 93.3,12.2 93.5,9.9 93.8,13.5 94.1,12.4 94.3,9.9 94.6,11.6 94.9,10.8 95.1,11.9 95.4,13.9 95.7,10.8 95.9,12.9 96.2,10.3 96.4,13.2 96.7,13.5 97.0,11.2 97.2,11.1 97.5,11.4 97.8,12.8 98.0,10.6 98.3,13.1 98.6,12.0 98.8,12.4 99.1,12.0 99.3,10.7 99.6,12.3 99.9,11.0 100.1,10.9 100.4,13.4 100.7,12.9 100.9,12.2 101.2,12.4 101.4,11.6 101.7,14.0 102.0,11.3 102.2,11.3 102.5,12.3 102.8,13.7 103.0,12.3 103.3,12.9 103.6,11.8 103.8,12.6 104.1,11.8 104.3,13.1 104.6,11.2 104.9,15.2 105.1,13.9 105.4,12.4 105.7,14.5 105.9,12.2 106.2,14.3 106.5,13.0 106.7,14.2 107.0,13.7 107.2,13.1 107.5,13.5 107.8,13.9 108.0,11.3 108.3,13.6 108.6,14.7 108.8,12.8 109.1,12.9 109.3,13.6 109.6,12.0 109.9,15.0 110.1,12.9 110.4,12.9 110.7,14.2 110.9,14.0 111.2,20.3 111.5,14.9 111.7,12.4 112.0,16.2 112.2,14.9 112.5,14.0 112.8,13.7 113.0,12.6 113.3,16.2 113.6,14.3 113.8,13.5 114.1,15.8 114.4,14.5 114.6,12.5 114.9,13.1 115.1,13.9 115.4,17.2 115.7,14.6 115.9,14.1 116.2,14.9 116.5,14.6 116.7,11.3 117.0,14.8 117.3,15.6 117.5,14.3 117.8,14.9 118.0,15.0 118.3,14.7 118.6,13.8 118.8,14.4 119.1,15.9 119.4,14.8 119.6,14.2 119.9,15.2 120.1,13.5 120.4,13.9 120.7,15.8 120.9,14.4 121.2,12.7 121.5,13.2 121.7,14.9 122.0,13.9 122.3,15.6 122.5,16.4 122.8,14.3 123.0,14.6 123.3,14.4 123.6,14.9 123.8,14.6 124.1,15.5 124.4,14.5 124.6,14.1 124.9,15.0 125.2,14.1 125.4,17.6 125.7,15.8 125.9,13.4 126.2,13.1 126.5,14.7 126.7,15.0 127.0,16.3 127.3,14.5 127.5,14.1 127.8,17.7 128.0,14.3 128.3,14.4 128.6,14.5 128.8,17.0 129.1,14.4 129.4,16.5 129.6,13.4 129.9,14.8 130.2,16.1 130.4,13.5 130.7,13.7 130.9,15.6 131.2,12.6 131.5,16.0 131.7,14.6 132.0,13.7 132.3,17.3 132.5,13.8 132.8,15.0 133.1,14.9 133.3,16.0 133.6,14.5 133.8,16.1 134.1,15.9 134.4,15.4 134.6,16.2 134.9,13.2 135.2,16.3 135.4,15.7 135.7,15.2 136.0,14.9 136.2,14.0 136.5,14.0 136.7,15.2 137.0,15.3 137.3,14.8 137.5,14.0 137.8,14.1 138.1,15.4 138.3,17.0 138.6,12.6 138.8,13.9 139.1,14.6 139.4,14.5 139.6,15.4 139.9,15.9 140.2,15.2 140.4,15.1 140.7,15.5 141.0,16.4 141.2,15.2 141.5,14.2 141.7,15.4 142.0,14.8 142.3,17.0 142.5,15.1 142.8,15.0 143.1,16.1 143.3,16.7 143.6,14.4 143.9,15.7 144.1,14.3 144.4,15.3 144.6,14.2 144.9,15.2 145.2,16.4 145.4,14.9 145.7,15.2 146.0,14.1 146.2,15.3 146.5,15.2 146.7,13.9 147.0,13.6 147.3,14.0 147.5,13.7 147.8,14.3 148.1,14.0 148.3,13.9 148.6,14.4 148.9,14.7 149.1,14.7 149.4,12.3 149.6,14.8 149.9,15.0 150.2,15.2 150.4,14.8 150.7,15.0 151.0,16.0 151.2,16.9 151.5,14.5 151.8,16.5 152.0,14.5 152.3,14.6 152.5,13.6 152.8,13.0 153.1,14.4 153.3,15.4 153.6,16.0 153.9,15.6 154.1,14.7 154.4,16.9 154.7,14.7 154.9,14.8 155.2,14.1 155.4,15.1 155.7,14.7 156.0,15.5 156.2,15.2 156.5,16.6 156.8,14.6 157.0,13.1 157.3,14.6 157.5,14.4 157.8,15.8 158.1,13.2 158.3,15.6 158.6,13.9 158.9,14.6 159.1,15.8 159.4,13.7 159.7,14.7 159.9,14.6 160.2,14.3 160.4,14.8 160.7,15.1 161.0,14.2 161.2,15.2 161.5,17.5 161.8,15.4 162.0,16.3 162.3,15.4 162.6,15.2 162.8,14.7 163.1,13.5 163.3,16.5 163.6,14.6 163.9,17.0 164.1,15.8 164.4,15.2 164.7,17.1 164.9,16.7 165.2,14.5 165.4,14.6 165.7,14.8 166.0,15.5 166.2,12.4 166.5,14.9 166.8,15.6 167.0,12.9 167.3,14.0 167.6,15.1 167.8,14.6 168.1,14.5 168.3,14.0 168.6,14.4 168.9,15.8 169.1,13.7 169.4,14.5 169.7,15.7 169.9,15.5 170.2,13.7 170.5,15.1 170.7,14.6 171.0,14.0 171.2,14.5 171.5,16.3 171.8,14.0 172.0,13.7 172.3,13.8 172.6,13.0 172.8,14.3 173.1,13.8 173.4,13.0 173.6,15.0 173.9,12.8 174.1,12.8 174.4,13.8 174.7,12.7 174.9,13.8 175.2,15.6 175.5,13.5 175.7,14.3 176.0,14.2 176.2,14.5 176.5,13.2 176.8,14.1 177.0,15.4 177.3,14.1 177.6,13.9 177.8,15.4 178.1,15.1 178.4,15.0 178.6,15.3 178.9,14.3 179.1,13.6 179.4,12.6 179.7,13.4 179.9,13.5 180.2,13.4 180.5,13.2 180.7,15.0 181.0,13.9 181.3,14.3 181.5,14.7 181.8,15.1 182.0,15.1 182.3,14.9 182.6,15.9 182.8,14.1 183.1,14.6 183.4,14.5 183.6,14.2 183.9,13.8 184.1,15.2 184.4,14.7 184.7,16.3 184.9,16.9 185.2,16.6 185.5,12.9 185.7,16.5 186.0,14.0 186.3,13.0 186.5,15.0 186.8,12.8 187.0,12.6 187.3,13.5 187.6,12.0 187.8,13.8 188.1,15.2 188.4,13.9 188.6,14.9 188.9,15.8 189.2,15.8 189.4,12.0 189.7,15.0 189.9,14.4 190.2,15.1 190.5,14.3 190.7,14.6 191.0,14.8 191.3,15.7 191.5,15.9 191.8,15.1 192.1,15.9 192.3,12.2 192.6,13.2 192.8,12.4 193.1,13.8 193.4,14.4 193.6,15.7 193.9,14.3 194.2,16.5 194.4,14.6 194.7,14.4 194.9,13.9 195.2,13.1 195.5,14.7 195.7,15.7 196.0,14.7 196.3,14.7 196.5,13.0 196.8,12.1 197.1,15.0 197.3,14.6 197.6,14.4 197.8,14.6 198.1,15.5 198.4,14.1 198.6,13.8 198.9,13.8 199.2,15.4 199.4,14.3 199.7,16.0 200.0,13.2 200.2,16.0 200.5,14.4 200.7,14.6 201.0,14.7 201.3,15.2 201.5,15.9 201.8,12.3 202.1,13.8 202.3,13.8 202.6,11.9 202.8,14.2 203.1,15.2 203.4,14.0 203.6,12.8 203.9,13.5 204.2,13.7 204.4,14.3 204.7,13.7 205.0,12.8 205.2,16.2 205.5,14.1 205.7,15.0 206.0,14.3 206.3,16.0 206.5,13.2 206.8,14.8 207.1,14.2 207.3,16.7 207.6,15.7 207.9,14.4 208.1,15.8 208.4,14.9 208.6,14.2 208.9,13.9 209.2,13.8 209.4,14.0 209.7,11.6 210.0,13.4 210.2,15.1 210.5,14.5 210.8,14.5 211.0,14.0 211.3,14.5 211.5,14.7 211.8,12.1 212.1,13.8 212.3,14.2 212.6,14.1 212.9,14.1 213.1,12.4 213.4,13.3 213.6,12.6 213.9,17.1 214.2,13.5 214.4,12.7 214.7,11.7 215.0,13.8 215.2,15.6 215.5,13.2 215.8,16.7 216.0,15.7 216.3,14.4 216.5,12.7 216.8,12.5 217.1,13.0 217.3,14.9 217.6,11.1 217.9,15.0 218.1,13.9 218.4,15.3 218.7,12.4 218.9,13.3 219.2,12.8 219.4,13.7 219.7,13.8 220.0,13.6 220.2,17.6 220.5,12.7 220.8,12.8 221.0,14.2 221.3,13.8 221.5,13.4 221.8,12.1 222.1,13.3 222.3,13.7 222.6,14.3 222.9,15.3 223.1,14.3 223.4,13.6 223.7,14.0 223.9,13.6 224.2,12.9 224.4,13.3 224.7,13.4 225.0,14.9 225.2,13.5 225.5,13.7 225.8,13.2 226.0,15.5 226.3,12.4 226.6,15.0 226.8,12.8 227.1,13.7 227.3,14.1 227.6,13.6 227.9,14.7 228.1,12.5 228.4,13.5 228.7,13.5 228.9,13.6 229.2,12.6 229.5,12.8 229.7,15.0 230.0,15.3 230.2,14.1 230.5,13.5 230.8,11.8 231.0,13.2 231.3,13.7 231.6,12.4 231.8,13.7 232.1,13.7 232.3,13.5 232.6,15.2 232.9,12.6 233.1,13.2 233.4,13.9 233.7,14.8 233.9,13.4 234.2,12.1 234.5,14.3 234.7,14.7 235.0,13.2 235.2,15.3 235.5,15.9 235.8,14.1 236.0,14.3 236.3,13.9 236.6,14.2 236.8,13.2 237.1,13.8 237.4,14.2 237.6,14.0 237.9,12.9 238.1,12.6 238.4,12.6 238.7,12.8 238.9,17.0 239.2,14.6 239.5,13.9 239.7,13.3 240.0,15.2 240.2,12.0 240.5,13.7 240.8,14.2 241.0,13.4 241.3,13.9 241.6,14.3 241.8,13.0 242.1,14.0 242.4,15.0 242.6,14.2 242.9,13.6 243.1,14.6 243.4,12.2 243.7,14.6 243.9,11.7 244.2,12.6 244.5,14.5 244.7,13.4 245.0,12.2 245.3,13.7 245.5,14.7 245.8,13.4 246.0,11.4 246.3,15.0 246.6,12.9 246.8,13.5 247.1,13.6 247.4,13.9 247.6,13.8 247.9,12.4 248.2,12.8 248.4,14.5 248.7,11.8 248.9,14.8 249.2,12.7 249.5,13.2 249.7,12.2 250.0,13.1 250.3,12.3 250.5,13.5 250.8,12.4 251.0,13.1 251.3,11.2 251.6,14.1 251.8,12.2 252.1,12.9 252.4,13.2 252.6,14.0 252.9,12.9 253.2,14.9 253.4,14.8 253.7,12.6 253.9,16.0 254.2,11.9 254.5,13.7 254.7,13.1 255.0,13.3 255.3,12.9 255.5,13.7 255.8,14.2 256.1,13.5 256.3,12.3 256.6,12.2 256.8,12.0 257.1,13.0 257.4,13.6 257.6,15.1 257.9,12.7 258.2,12.5 258.4,13.8 258.7,12.5 258.9,12.0 259.2,13.2 259.5,12.2 259.7,13.0 260.0,15.1 260.3,13.8 260.5,13.7 260.8,12.8 261.1,14.2 261.3,13.8 261.6,14.3 261.8,13.3 262.1,13.2 262.4,12.3 262.6,12.5 262.9,13.1 263.2,13.0 263.4,13.2 263.7,13.2 264.0,11.7 264.2,15.9 264.5,13.5 264.7,12.9 265.0,12.1 265.3,14.4 265.5,12.9 265.8,12.4 266.1,13.7 266.3,15.3 266.6,13.6 266.9,14.5 267.1,12.6 267.4,14.1 267.6,11.4 267.9,13.1 268.2,14.1 268.4,15.8 268.7,14.4 269.0,12.8 269.2,11.7 269.5,13.5 269.7,12.3 270.0,14.2 270.3,12.9 270.5,10.8 270.8,14.7 271.1,11.9 271.3,12.0 271.6,15.2 271.9,14.7 272.1,14.2 272.4,12.2 272.6,13.6 272.9,13.4 273.2,12.5 273.4,13.1 273.7,13.0 274.0,13.5 274.2,12.0 274.5,14.0 274.8,11.4 275.0,13.5 275.3,14.0 275.5,12.5 275.8,12.7 276.1,15.2 276.3,12.9 276.6,14.6 276.9,14.0 277.1,12.3 277.4,14.1 277.6,12.8 277.9,13.5 278.2,11.1 278.4,13.2 278.7,14.4 279.0,14.3 279.2,14.1 279.5,13.0 279.8,13.1 280.0,12.1 280.3,13.0 280.5,13.0 280.8,12.8 281.1,13.1 281.3,12.5 281.6,11.9 281.9,11.7 282.1,12.8 282.4,13.6 282.7,12.6 282.9,11.5 283.2,13.5 283.4,11.8 283.7,10.9 284.0,11.4 284.2,11.6 284.5,9.6 284.8,9.7 285.0,10.5 285.3,9.5 285.6,9.4 285.8,10.4 286.1,8.5 286.3,10.1 286.6,9.8 286.9,10.2 287.1,9.6 287.4,10.2 287.7,9.7 287.9,9.2 288.2,9.6 288.4,9.8 288.7,9.0 289.0,10.1 289.2,9.3 289.5,9.8 289.8,9.6 290.0,9.7 290.3,9.6 290.6,9.7 290.8,10.0 291.1,9.9 291.3,9.5 291.6,9.7 291.9,10.2 292.1,10.0 292.4,10.0 292.7,9.7 292.9,9.6 293.2,9.6 293.5,10.0 293.7,9.7 294.0,10.3 294.2,10.9 294.5,9.7 294.8,10.4 295.0,10.1 295.3,10.2 295.6,9.4 295.8,10.2 296.1,9.6 296.3,9.9 296.6,10.2 296.9,10.4 297.1,9.5 297.4,9.5 297.7,9.3 297.9,8.9 298.2,9.6 298.5,9.6 298.7,9.7 299.0,9.6 299.2,9.8 299.5,10.1 299.8,8.8 300.0,10.5 300.3,9.6 300.6,9.5 300.8,9.6 301.1,10.1 301.4,9.8 301.6,9.9 301.9,10.2 302.1,9.7 302.4,9.9 302.7,9.9 302.9,9.4 303.2,10.1 303.5,9.5 303.7,10.0 304.0,9.5 304.3,9.7 304.5,9.6 304.8,10.1 305.0,10.0 305.3,10.1 305.6,9.6 305.8,9.4 306.1,9.2 306.4,9.9 306.6,9.6 306.9,10.4 307.1,10.7 307.4,10.1 307.7,10.0 307.9,10.4 308.2,10.5 308.5,9.5 308.7,10.0 309.0,10.4 309.3,8.7 309.5,9.6 309.8,9.8 310.0,9.4 310.3,10.0 310.6,9.0 310.8,10.4 311.1,10.3 311.4,9.7 311.6,10.0 311.9,9.1 312.2,10.4 312.4,10.0 312.7,9.6 312.9,9.4 313.2,9.3 313.5,9.5 313.7,8.7 314.0,9.9 314.3,9.6 314.5,9.3 314.8,9.8 315.0,9.8 315.3,9.9 315.6,10.0 315.8,10.2 316.1,9.9 316.4,10.4 316.6,9.5 316.9,10.4 317.2,8.8 317.4,9.0 317.7,9.2 317.9,9.8 318.2,9.9 318.5,9.2 318.7,9.6 319.0,9.4 319.3,10.0 319.5,9.2 319.8,10.0 320.1,9.6 320.3,10.4 320.6,10.0 320.8,9.5 321.1,9.9 321.4,9.9 321.6,9.3 321.9,9.7 322.2,9.2 322.4,10.7 322.7,9.4 323.0,9.5 323.2,10.4 323.5,10.3 323.7,9.3 324.0,10.2 324.3,10.0 324.5,9.4 324.8,9.8 325.1,9.5 325.3,10.1 325.6,9.6 325.8,9.2 326.1,9.5 326.4,11.4 326.6,9.4 326.9,9.7 327.2,10.1 327.4,9.1 327.7,10.4 328.0,8.9 328.2,10.0 328.5,9.0 328.7,9.7 329.0,10.3 329.3,9.6 329.5,9.5 329.8,9.5 330.1,9.2 330.3,10.1 330.6,9.5 330.9,9.4 331.1,9.8 331.4,10.1 331.6,10.1 331.9,9.4 332.2,9.3 332.4,10.0 332.7,10.3 333.0,9.1 333.2,10.4 333.5,9.6 333.7,10.0 334.0,10.4 334.3,9.6 334.5,9.8 334.8,9.1 335.1,8.7 335.3,9.8 335.6,9.2 335.9,9.2 336.1,9.9 336.4,10.1 336.6,9.0 336.9,9.8 337.2,9.7 337.4,9.8 337.7,9.7 338.0,9.9 338.2,9.4 338.5,9.1 338.8,9.8 339.0,10.3 339.3,9.7 339.5,10.3 339.8,10.0 340.1,9.1 340.3,8.7 340.6,9.5 340.9,10.1 341.1,9.3 341.4,10.7 341.7,10.0 341.9,9.0 342.2,9.4 342.4,10.3 342.7,10.4 343.0,9.3 343.2,9.7 343.5,9.9 343.8,9.5 344.0,11.2 344.3,10.5 344.5,9.3 344.8,10.0 345.1,10.1 345.3,10.3 345.6,9.6 345.9,10.0 346.1,9.4 346.4,9.8 346.7,9.2 346.9,9.8 347.2,10.0 347.4,10.5 347.7,10.2 348.0,9.4 348.2,8.5 348.5,10.2 348.8,10.1 349.0,9.5 349.3,9.5 349.6,10.0 349.8,9.6 350.1,10.4 350.3,9.8 350.6,9.3 350.9,9.0 351.1,9.7 351.4,9.8 351.7,9.5 351.9,9.2 352.2,9.5 352.4,10.0 352.7,10.6 353.0,9.2 353.2,10.0 353.5,10.3 353.8,9.4 354.0,9.5 354.3,9.2 354.6,9.6 354.8,9.9 355.1,9.9 355.3,10.1 355.6,10.1 355.9,9.9 356.1,9.9 356.4,9.2 356.7,10.2 356.9,9.7 357.2,9.9 357.5,9.0 357.7,9.5 358.0,9.8 358.2,9.3 358.5,9.6 358.8,9.9 359.0,9.0 359.3,9.4 359.6,8.9 359.8,9.2 360.1,9.3 360.4,9.6 360.6,10.1 360.9,9.4 361.1,10.4 361.4,9.4 361.7,9.7 361.9,10.0 362.2,10.1 362.5,9.4 362.7,9.1 363.0,9.8 363.2,9.5 363.5,9.1 363.8,10.0 364.0,9.8 364.3,10.1 364.6,9.1 364.8,9.5 365.1,9.9 365.4,10.4 365.6,9.7 365.9,9.2 366.1,9.8 366.4,9.8 366.7,9.4 366.9,10.2 367.2,9.6 367.5,9.4 367.7,10.0 368.0,10.0 368.3,9.5 368.5,9.7 368.8,9.8 369.0,9.6 369.3,9.6 369.6,10.1 369.8,9.9 370.1,9.5 370.4,9.2 370.6,9.1 370.9,10.0 371.1,9.2 371.4,9.3 371.7,9.7 371.9,9.4 372.2,9.3 372.5,8.9 372.7,10.1 373.0,9.4 373.3,9.7 373.5,9.7 373.8,9.1 374.0,9.3 374.3,10.1 374.6,9.8 374.8,9.5 375.1,10.3 375.4,9.3 375.6,9.7 375.9,9.6 376.2,9.5 376.4,8.9 376.7,9.6 376.9,9.8 377.2,8.9 377.5,9.9 377.7,9.9 378.0,10.2 378.3,9.2 378.5,9.5 378.8,9.4 379.1,9.6 379.3,9.7 379.6,10.0 379.8,10.0 380.1,9.4 380.4,9.6 380.6,8.9 380.9,10.0 381.2,9.8 381.4,10.1 381.7,9.0 381.9,10.2 382.2,9.3 382.5,9.0 382.7,9.7 383.0,9.3 383.3,10.6 383.5,9.8 383.8,10.3 384.1,9.6 384.3,9.6 384.6,14.8 384.8,9.2 385.1,9.5 385.4,9.9 385.6,9.9 385.9,10.3 386.2,9.7 386.4,8.7 386.7,9.9 387.0,9.4 387.2,9.9 387.5,9.3 387.7,9.4 388.0,9.7 388.3,10.4 388.5,9.8 388.8,9.1 389.1,9.7 389.3,9.4 389.6,9.8 389.8,10.4 390.1,9.4 390.4,9.5 390.6,9.9 390.9,9.8 391.2,9.5 391.4,9.9 391.7,9.5 392.0,9.7 392.2,10.6 392.5,9.7 392.7,9.9 393.0,10.0 393.3,9.4 393.5,9.8 393.8,9.4 394.1,9.1 394.3,9.6 394.6,10.3 394.9,9.9 395.1,9.2 395.4,9.7 395.6,10.0 395.9,9.7 396.2,9.4 396.4,9.5 396.7,9.3 397.0,10.0 397.2,9.7 397.5,9.7 397.8,9.6 398.0,10.5 398.3,9.7 398.5,10.2 398.8,9.0 399.1,8.9 399.3,8.9 399.6,9.3 399.9,9.8 400.1,9.2 400.4,9.7 400.6,9.4 400.9,10.0 401.2,9.9 401.4,9.4 401.7,8.8 402.0,9.6 402.2,8.6 402.5,8.5 402.8,10.2 403.0,9.6 403.3,10.0 403.5,9.7 403.8,9.8 404.1,9.6 404.3,9.2 404.6,9.2 404.9,9.5 405.1,9.6 405.4,9.6 405.7,9.6 405.9,9.4 406.2,9.6 406.4,9.4 406.7,10.2 407.0,9.3 407.2,8.9 407.5,9.5 407.8,10.2 408.0,9.0 408.3,9.7 408.5,10.9 408.8,9.7 409.1,9.3 409.3,9.4 409.6,9.1 409.9,9.3 410.1,9.6 410.4,10.5 410.7,10.1 410.9,9.5 411.2,9.3 411.4,10.0 411.7,9.9 412.0,9.4 412.2,10.4 412.5,10.4 412.8,9.7 413.0,9.5 413.3,9.8 413.6,10.6 413.8,9.6 414.1,10.2 414.3,9.3 414.6,9.6 414.9,9.5 415.1,9.3 415.4,9.8 415.7,9.2 415.9,9.1 416.2,9.4 416.5,9.0 416.7,9.9 417.0,9.2 417.2,9.5 417.5,10.0 417.8,9.6 418.0,9.8 418.3,9.8 418.6,9.6 418.8,9.1 419.1,9.7 419.3,9.5 419.6,10.2 419.9,9.5 420.1,9.1 420.4,9.2 420.7,9.4 420.9,9.8 421.2,10.0 421.5,9.6 421.7,10.2 422.0,10.1 422.2,9.2 422.5,10.0 422.8,8.8 423.0,10.2 423.3,9.4 423.6,10.1 423.8,9.5 424.1,10.0 424.4,9.6 424.6,9.7 424.9,9.8 425.1,9.4 425.4,8.9 425.7,9.8 425.9,9.2 426.2,9.6 426.5,9.6 426.7,8.6 427.0,10.5 427.2,9.9 427.5,10.4 427.8,9.7 428.0,9.7 428.3,8.5 428.6,9.4 428.8,8.8 429.1,9.0 429.4,9.8 429.6,9.4 429.9,8.9 430.1,9.5 430.4,9.5 430.7,9.4 430.9,10.2 431.2,9.9 431.5,9.4 431.7,9.3 432.0,10.0 432.3,9.7 432.5,9.6 432.8,9.7 433.0,9.3 433.3,9.5 433.6,9.5 433.8,10.2 434.1,10.0 434.4,9.4 434.6,10.3 434.9,9.5 435.2,9.9 435.4,9.9 435.7,9.3 435.9,9.9 436.2,10.0 436.5,9.9 436.7,9.6 437.0,8.5 437.3,10.9 437.5,9.6 437.8,9.7 438.0,9.2 438.3,9.7 438.6,10.7 438.8,9.0 439.1,10.1 439.4,9.6 439.6,10.2 439.9,10.1 440.2,9.8 440.4,9.2 440.7,9.2 440.9,9.8 441.2,9.4 441.5,9.7 441.7,9.5 442.0,9.5 442.3,9.3 442.5,9.8 442.8,9.6 443.1,9.5 443.3,9.5 443.6,9.9 443.8,8.8 444.1,9.8 444.4,9.3 444.6,9.5 444.9,9.1 445.2,10.5 445.4,8.7 445.7,9.7 445.9,10.1 446.2,9.5 446.5,8.6 446.7,9.4 447.0,10.1 447.3,9.8 447.5,9.0 447.8,10.2 448.1,9.7 448.3,9.7 448.6,8.6 448.8,9.7 449.1,9.0 449.4,9.9 449.6,9.9 449.9,9.1 450.2,9.3 450.4,10.3 450.7,9.3 451.0,9.3 451.2,9.8 451.5,9.5 451.7,9.5 452.0,9.8 452.3,9.8 452.5,9.9 452.8,9.7 453.1,10.2 453.3,9.6 453.6,10.2 453.9,9.5 454.1,9.6 454.4,10.0 454.6,9.3 454.9,8.7 455.2,9.0 455.4,10.2 455.7,9.0 456.0,9.5 456.2,9.6 456.5,9.8 456.7,9.6 457.0,9.0 457.3,9.3 457.5,12.5 457.8,9.9 458.1,9.8 458.3,9.3 458.6,8.8 458.9,10.0 459.1,9.6 459.4,9.7 459.6,9.9 459.9,9.4 460.2,10.6 460.4,10.2 460.7,10.0 461.0,9.9 461.2,9.4 461.5,9.3 461.8,9.8 462.0,9.7 462.3,9.4 462.5,9.8 462.8,10.1 463.1,9.6 463.3,9.2 463.6,10.0 463.9,9.1 464.1,9.3 464.4,9.9 464.6,9.6 464.9,9.6 465.2,9.3 465.4,9.3 465.7,10.1 466.0,10.2 466.2,9.1 466.5,9.5 466.8,9.4 467.0,9.4 467.3,8.9 467.5,10.1 467.8,9.1 468.1,9.9 468.3,9.3 468.6,9.0 468.9,10.2 469.1,9.4 469.4,9.7 469.7,9.7 469.9,9.5 470.2,10.0 470.4,10.0 470.7,9.3 471.0,9.2 471.2,9.8 471.5,10.2 471.8,8.6 472.0,9.1 472.3,9.4 472.6,10.0 472.8,9.8 473.1,9.5 473.3,10.0 473.6,8.9 473.9,9.5 474.1,9.4 474.4,10.0 474.7,10.0 474.9,9.9 475.2,9.4 475.4,9.7 475.7,9.7 476.0,9.4 476.2,9.5 476.5,8.9 476.8,9.6 477.0,10.0 477.3,9.6 477.6,8.9 477.8,9.8 478.1,9.5 478.3,9.7 478.6,9.4 478.9,9.4 479.1,9.9 479.4,9.7 479.7,9.2 479.9,9.1 480.2,9.2 480.5,9.2 480.7,9.7 481.0,9.7 481.2,9.2 481.5,10.1 481.8,9.6 482.0,10.4 482.3,9.7 482.6,9.9 482.8,10.1 483.1,9.3 483.3,9.9 483.6,9.7 483.9,9.7 484.1,9.9 484.4,8.9 484.7,9.8 484.9,9.5 485.2,10.1 485.5,9.8 485.7,9.7 486.0,9.7 486.2,9.8 486.5,9.5 486.8,8.9 487.0,9.6 487.3,9.6 487.6,9.7 487.8,8.5 488.1,8.9 488.4,9.3 488.6,9.2 488.9,9.9 489.1,9.6 489.4,9.5 489.7,9.5 489.9,9.9 490.2,9.9 490.5,9.3 490.7,9.4 491.0,10.5 491.3,9.5 491.5,9.0 491.8,9.8 492.0,9.4 492.3,10.2 492.6,9.2 492.8,10.0 493.1,10.1 493.4,9.7 493.6,8.5 493.9,9.8 494.1,10.1 494.4,9.3 494.7,9.4 494.9,8.8 495.2,10.1 495.5,10.2 495.7,9.7 496.0,9.4 496.3,9.4 496.5,9.1 496.8,10.2 497.0,9.9 497.3,9.6 497.6,9.2 497.8,9.3 498.1,9.7 498.4,10.0 498.6,9.2 498.9,9.1 499.2,8.5 499.4,9.6" fill="none" stroke="#78cce2" stroke-width="0.45" stroke-linejoin="round"/>
<rect x="38.2" y="0" width="7" height="5.2" fill="#bfe6ea"/>
<path d="M39.5,1.5h0M41.5,3h0M43.5,1.8h0M40.5,4h0M44.3,3.6h0M42.4,0.6h0" stroke="#3fb0bf" stroke-width="1.3" stroke-linecap="round"/>
<rect x="265" y="1.5" width="15" height="3.8" fill="#e3f4f4"/>
<path d="M266.5,3.5v1.6M269,2.5v2.6M271,3v2M273.5,2v3.2M275.5,1.5v3.6M277.5,2v3.2M279,2.5v2.6" stroke="#5cc1c6" stroke-width="0.9"/>
<line x1="59.5" y1="0" x2="59.5" y2="5.5" stroke="#dcecf0" stroke-width="0.6"/>
<line x1="78.7" y1="0" x2="78.7" y2="5.5" stroke="#dcecf0" stroke-width="0.6"/>
<line x1="97.5" y1="0" x2="97.5" y2="5.5" stroke="#dcecf0" stroke-width="0.6"/>
<line x1="120.6" y1="0" x2="120.6" y2="5.5" stroke="#dcecf0" stroke-width="0.6"/>
<line x1="139.8" y1="0" x2="139.8" y2="5.5" stroke="#dcecf0" stroke-width="0.6"/>
<line x1="160" y1="0" x2="160" y2="5.5" stroke="#dcecf0" stroke-width="0.6"/>
<line x1="185" y1="0" x2="185" y2="5.5" stroke="#dcecf0" stroke-width="0.6"/>
<rect x="38.5" y="6.5" width="461.0" height="54.0" fill="none" stroke="#5c5c5c" stroke-width="0.9"/>
<line x1="38.5" y1="60.5" x2="38.5" y2="58.5" stroke="#555" stroke-width="0.6"/>
<text x="38.5" y="66.5" text-anchor="middle" class="tk">0</text>
<line x1="104.3" y1="60.5" x2="104.3" y2="58.5" stroke="#555" stroke-width="0.6"/>
<text x="104.3" y="66.5" text-anchor="middle" class="tk">50</text>
<line x1="170.2" y1="60.5" x2="170.2" y2="58.5" stroke="#555" stroke-width="0.6"/>
<text x="170.2" y="66.5" text-anchor="middle" class="tk">100</text>
<line x1="236.0" y1="60.5" x2="236.0" y2="58.5" stroke="#555" stroke-width="0.6"/>
<text x="236.0" y="66.5" text-anchor="middle" class="tk">150</text>
<line x1="301.9" y1="60.5" x2="301.9" y2="58.5" stroke="#555" stroke-width="0.6"/>
<text x="301.9" y="66.5" text-anchor="middle" class="tk">200</text>
<line x1="367.7" y1="60.5" x2="367.7" y2="58.5" stroke="#555" stroke-width="0.6"/>
<text x="367.7" y="66.5" text-anchor="middle" class="tk">250</text>
<line x1="433.6" y1="60.5" x2="433.6" y2="58.5" stroke="#555" stroke-width="0.6"/>
<text x="433.6" y="66.5" text-anchor="middle" class="tk">300</text>
<line x1="499.4" y1="60.5" x2="499.4" y2="58.5" stroke="#555" stroke-width="0.6"/>
<text x="499.4" y="66.5" text-anchor="middle" class="tk">350</text>
<line x1="38.5" y1="44.0" x2="40.3" y2="44.0" stroke="#555" stroke-width="0.6"/>
<text x="37.0" y="45.9" text-anchor="end" class="tk">80</text>
<line x1="38.5" y1="26.5" x2="40.3" y2="26.5" stroke="#555" stroke-width="0.6"/>
<text x="37.0" y="28.4" text-anchor="end" class="tk">90</text>
<line x1="38.5" y1="9.0" x2="40.3" y2="9.0" stroke="#555" stroke-width="0.6"/>
<text x="37.0" y="10.9" text-anchor="end" class="tk">100</text>
<text x="269" y="72.5" text-anchor="middle" class="lb">Time (ps)</text>
<text transform="translate(23.0,33) rotate(-90)" text-anchor="middle" class="lb">sp<tspan font-size="3.8" dy="-2.2">2</tspan><tspan dy="2.2"> atoms (%)</tspan></text>
<line x1="432.2" y1="28.5" x2="446.5" y2="28.5" stroke="#8fd3e4" stroke-width="0.8"/>
<line x1="432.2" y1="37.3" x2="446.5" y2="37.3" stroke="#b0b0b0" stroke-width="0.8"/>
<text x="449.8" y="30.2" class="lg">CASTEP-GAP</text>
<text x="449.8" y="39.2" class="lg">GAP-17</text>
<text x="0.3" y="10.8" class="pl">a</text>
<g transform="translate(38.0,99.6) scale(0.1)" fill="none"><rect x="26" y="100" width="250" height="230" fill="#fbeed2"/><path d="M62 64h250v230h-250zM26 100l36 -36M276 100l36 -36M276 330l36 -36M26 330l36 -36" stroke="#a8a8a8" stroke-width="4"/><path d="M50 116l22 -4M50 116l-2 13M50 116l11 15M115 144l11 1M115 144l-15 17M115 144l0 13M57 207l16 2M184 210l-9 16M275 210l-8 11M53 240l9 12M109 237l-11 22M242 239l-10 20M198 272l23 2M198 272l-2 17M198 272l11 17M255 272l-6 15M255 272l12 16M64 319l16 5" stroke="#2893b3" stroke-width="7"/><path d="M50 116h0M115 144h0M57 207h0M184 210h0M275 210h0M27 225h0M53 240h0M109 237h0M242 239h0M198 272h0M255 272h0M64 319h0" stroke="#2893b3" stroke-width="15" stroke-linecap="round"/><path d="M100 98l-9 19M100 98l8 17M32 110l18 6M72 112l19 5M72 112l11 20M91 117l17 -2M91 117l-8 15M108 115l-11 17M184 112l20 -1M48 129l7 18M61 131l22 1M61 131l8 15M83 132l14 0M83 132l-14 14M83 132l10 12M139 127l14 1M139 127l-13 18M153 128l17 2M153 128l-11 20M214 128l14 -2M214 128l3 12M228 126l20 5M228 126l-11 14M248 131l17 -5M248 131l-10 10M248 131l9 14M55 147l14 -1M55 147l-13 13M55 147l7 10M69 146l24 -2M126 145l-11 12M142 148l25 -5M142 148l-3 11M142 148l16 13M167 143l18 2M217 140l21 1M217 140l-3 25M217 140l12 22M257 145l-8 17M275 142l-14 17M100 161l15 -4M115 157l24 2M115 157l-3 20M115 157l14 20M139 159l-10 18M139 159l8 17M171 161l19 0M171 161l-9 14M171 161l13 16M190 161l24 4M190 161l11 14M214 165l15 -3M214 165l9 10M112 177l8 15M129 177l18 -1M129 177l-9 15M147 176l-7 18M184 177l17 -2M223 175l-11 19M255 173l20 1M255 173l-7 20M28 189l6 21M44 190l13 17M66 192l-9 15M66 192l7 17M120 192l5 16M140 194l-15 14M140 194l2 10M158 192l-16 12M173 191l-10 14M173 191l11 19M230 191l-10 17M248 193l-9 16M248 193l8 14M34 210l-7 15M34 210l10 19M73 209l20 0M110 210l-8 15M110 210l5 15M125 208l17 -4M125 208l-10 17M125 208l11 17M142 204l-6 21M201 208l19 0M220 208l19 1M239 209l17 -2M239 209l-12 17M239 209l9 13M256 207l-8 15M44 229l-10 9M44 229l9 11M80 228l10 11M115 225l-6 12M115 225l16 11M136 225l-5 11M136 225l10 16M193 224l-7 14M193 224l9 17M227 226l21 -4M227 226l-8 13M267 221l-11 19M34 238l-4 17M131 236l10 22M146 241l20 0M166 241l20 -3M166 241l-10 17M166 241l5 16M202 241l17 -2M202 241l10 12M219 239l23 0M219 239l-7 14M219 239l13 20M62 252l-8 20M85 255l13 4M85 255l5 17M141 258l3 16M171 257l22 -2M193 255l19 -2M232 259l13 -2M232 259l-11 15M232 259l7 12M245 257l-6 14M245 257l10 15M270 257l-15 15M34 272l20 0M34 272l11 19M54 272l17 5M71 277l19 -5M90 272l22 0M90 272l-8 15M90 272l13 13M112 272l4 16M144 274l-6 14M144 274l7 14M221 274l-12 15M239 271l-12 18M239 271l10 16M61 291l21 -4M116 288l22 0M116 288l-4 13M138 288l11 14M151 288l-2 14M174 294l22 -5M196 289l-11 15M196 289l10 12M209 289l18 0M209 289l12 15M227 289l-6 15M249 287l18 1M249 287l6 18M57 305l7 14M93 306l19 -5M93 306l-13 18M112 301l15 2M112 301l2 17M127 303l22 -1M127 303l-13 15M127 303l7 21M185 304l21 -3M185 304l-7 18M185 304l7 18M206 301l-14 21M221 304l-9 15M221 304l5 14M134 324l24 -6M158 318l20 4M192 322l20 -3M226 318l22 2" stroke="#eba21c" stroke-width="7"/><path d="M136 62h0M192 67h0M275 81h0M100 98h0M32 110h0M72 112h0M91 117h0M108 115h0M129 112h0M184 112h0M204 111h0M274 109h0M48 129h0M61 131h0M83 132h0M139 127h0M153 128h0M214 128h0M228 126h0M248 131h0M55 147h0M69 146h0M93 144h0M126 145h0M142 148h0M167 143h0M217 140h0M257 145h0M275 142h0M32 160h0M62 157h0M100 161h0M115 157h0M139 159h0M171 161h0M190 161h0M214 165h0M249 162h0M89 174h0M112 177h0M129 177h0M147 176h0M184 177h0M223 175h0M255 173h0M275 174h0M28 189h0M44 190h0M66 192h0M120 192h0M140 194h0M158 192h0M173 191h0M230 191h0M248 193h0M34 210h0M73 209h0M110 210h0M125 208h0M142 204h0M201 208h0M220 208h0M239 209h0M256 207h0M44 229h0M80 228h0M115 225h0M136 225h0M193 224h0M227 226h0M267 221h0M300 223h0M34 238h0M131 236h0M146 241h0M166 241h0M186 238h0M202 241h0M219 239h0M30 255h0M62 252h0M85 255h0M141 258h0M156 258h0M171 257h0M193 255h0M232 259h0M245 257h0M270 257h0M34 272h0M54 272h0M71 277h0M90 272h0M112 272h0M144 274h0M221 274h0M239 271h0M61 291h0M82 287h0M103 285h0M116 288h0M138 288h0M151 288h0M174 294h0M196 289h0M209 289h0M227 289h0M249 287h0M267 288h0M303 287h0M57 305h0M93 306h0M112 301h0M127 303h0M185 304h0M206 301h0M221 304h0M255 305h0M80 324h0M114 318h0M134 324h0M158 318h0M178 322h0M192 322h0M212 319h0M226 318h0M248 320h0M265 322h0" stroke="#eba21c" stroke-width="15" stroke-linecap="round"/><path d="M63 102l9 10M163 111l21 1M163 111l-10 17M163 111l7 19M239 114l18 1M239 114l-11 12M239 114l9 17M257 115l8 11M170 130l-3 13M265 126l-8 19M185 145l-14 16M238 141l19 4M238 141l-9 21M238 141l11 21M158 161l4 14M229 162l20 0M261 159l-6 14M261 159l14 15M35 175l9 15M76 175l13 -1M162 175l-4 17M201 175l22 0M212 194l18 -3M163 205l-5 18M163 205l12 21M102 225l13 0M102 225l-12 14M158 223l17 3M158 223l8 18M175 226l-9 15M90 239l19 -2M90 239l-5 16M46 257l16 -5M46 257l-12 15M46 257l8 15M98 259l-8 13M212 253l20 6M212 253l9 21M183 272l15 0M183 272l13 17M70 309l23 -3M70 309l10 15M149 302l-15 22" stroke="#bf8714" stroke-width="7"/><path d="M63 102h0M163 111h0M239 114h0M257 115h0M97 132h0M170 130h0M265 126h0M185 145h0M238 141h0M42 160h0M158 161h0M229 162h0M261 159h0M35 175h0M76 175h0M162 175h0M201 175h0M212 194h0M93 209h0M163 205h0M63 225h0M102 225h0M158 223h0M175 226h0M248 222h0M90 239h0M46 257h0M98 259h0M212 253h0M183 272h0M37 306h0M70 309h0M149 302h0M41 318h0" stroke="#bf8714" stroke-width="15" stroke-linecap="round"/><path d="M45 291l16 0M45 291l-8 15" stroke="#217f9e" stroke-width="7"/><path d="M256 240h0M45 291h0" stroke="#217f9e" stroke-width="15" stroke-linecap="round"/><rect x="26" y="100" width="250" height="230" stroke="#aaa" stroke-width="4"/></g>
<g transform="translate(73.9,99.6) scale(0.1)" fill="none"><rect x="26" y="100" width="250" height="230" fill="#fbeed2"/><path d="M62 64h250v230h-250zM26 100l36 -36M276 100l36 -36M276 330l36 -36M26 330l36 -36" stroke="#a8a8a8" stroke-width="4"/><path d="M221 108l-7 20M221 108l9 17M101 130l16 -5M101 130l-13 13M101 130l7 13M230 125l19 2M230 125l-9 17M230 125l13 16M265 130l9 17M258 149l16 -2M274 147l-8 13M118 161l-9 12M226 163l23 -2M226 163l10 16M249 161l17 -1M249 161l-13 18M54 176l18 -2M54 176l-9 16M54 176l8 12M185 175l16 -3M185 175l-10 16M185 175l7 16M219 177l17 2M219 177l-8 14M219 177l13 17M268 194l-8 15M58 208l15 -1M58 208l-16 20M58 208l6 12M101 227l-14 13M101 227l9 16M229 257l17 -4M229 257l-11 14M229 257l8 16M36 270l8 16M252 289l-13 20M135 319l24 2" stroke="#2893b3" stroke-width="7"/><path d="M103 64h0M176 96h0M221 108h0M101 130h0M230 125h0M265 130h0M221 142h0M258 149h0M274 147h0M118 161h0M226 163h0M249 161h0M266 160h0M54 176h0M185 175h0M219 177h0M268 194h0M58 208h0M101 227h0M229 257h0M36 270h0M252 289h0M135 319h0" stroke="#2893b3" stroke-width="15" stroke-linecap="round"/><path d="M192 62l9 15M82 102l-8 9M55 114l19 -3M55 114l12 16M74 111l14 -1M74 111l9 15M88 110l-5 16M108 112l20 3M108 112l-7 18M108 112l9 13M128 115l-11 10M146 116l-11 15M185 106l8 21M205 113l-12 14M29 129l20 -2M29 129l7 13M49 127l18 3M49 127l-13 15M67 130l16 -4M83 126l-9 18M117 125l18 6M117 125l-9 18M117 125l11 24M156 130l19 -2M156 130l-12 14M156 130l7 13M175 128l-12 15M175 128l6 16M193 127l-12 17M193 127l8 18M214 128l16 -3M214 128l-13 17M214 128l7 14M249 127l-6 14M249 127l9 22M36 142l11 17M74 144l-10 14M74 144l7 14M108 143l-10 18M128 149l-10 12M144 144l19 -1M181 144l20 1M181 144l14 18M243 141l-17 22M47 159l17 -1M47 159l7 17M64 158l8 16M81 158l17 3M81 158l-9 16M81 158l7 17M98 161l20 0M98 161l-10 14M151 159l-3 17M151 159l15 19M174 162l21 0M174 162l-8 16M174 162l11 13M195 162l15 0M195 162l-10 13M195 162l6 10M72 174l16 1M72 174l-10 14M88 175l-3 15M109 173l16 3M109 173l6 24M125 176l-10 21M148 176l18 2M166 178l9 13M201 172l-9 19M201 172l10 19M236 179l24 -4M27 194l18 -2M27 194l4 14M45 192l17 -4M45 192l13 16M85 190l11 0M85 190l-12 17M96 190l19 7M96 190l16 17M115 197l23 -2M115 197l12 11M138 195l13 14M192 191l19 0M192 191l-12 20M232 194l16 -6M248 188l20 6M248 188l-11 17M248 188l12 21M73 207l18 6M73 207l-9 13M151 209l16 -2M151 209l-15 18M167 207l13 4M219 207l18 -2M219 207l-7 17M42 228l22 -8M42 228l-8 14M64 220l-8 23M79 221l8 19M136 227l-11 11M136 227l8 15M229 224l-7 17M229 224l9 14M34 242l22 1M34 242l15 17M56 243l-7 16M56 243l7 16M110 243l15 -5M110 243l7 16M125 238l19 4M125 238l11 20M144 242l-8 16M199 240l23 1M199 240l9 15M238 238l8 15M259 240l-13 13M259 240l8 16M49 259l14 0M49 259l-13 11M63 259l19 1M63 259l-10 11M117 259l19 -1M117 259l-6 14M117 259l13 14M136 258l-6 15M136 258l13 15M155 252l17 4M155 252l-6 21M172 256l21 -5M172 256l7 17M193 251l15 4M193 251l-14 22M193 251l9 16M208 255l21 2M208 255l10 16M97 272l14 1M97 272l3 17M111 273l-11 16M111 273l9 15M179 273l23 -6M179 273l-3 14M179 273l14 18M202 267l16 4M202 267l-9 24M202 267l8 22M218 271l-8 18M218 271l10 18M29 287l9 13M44 286l-6 14M44 286l8 15M64 288l-12 13M100 289l20 -1M136 289l21 1M136 289l-8 11M157 290l19 -3M157 290l7 15M176 287l17 4M176 287l-12 18M176 287l5 21M210 289l-7 18M38 300l14 1M71 306l21 0M71 306l-8 17M92 306l19 -6M92 306l-9 19M92 306l8 16M111 300l17 0M128 300l7 19M164 305l17 3M164 305l-5 16M181 308l10 12M203 307l8 15M239 309l10 14M276 304l-12 16M63 323l20 2M191 320l20 2M211 322l21 -5M232 317l17 6" stroke="#eba21c" stroke-width="7"/><path d="M192 62h0M201 77h0M82 102h0M55 114h0M74 111h0M88 110h0M108 112h0M128 115h0M146 116h0M185 106h0M205 113h0M29 129h0M49 127h0M67 130h0M83 126h0M117 125h0M135 131h0M156 130h0M175 128h0M193 127h0M214 128h0M249 127h0M36 142h0M74 144h0M108 143h0M128 149h0M144 144h0M181 144h0M243 141h0M47 159h0M64 158h0M81 158h0M98 161h0M151 159h0M174 162h0M195 162h0M35 176h0M72 174h0M88 175h0M109 173h0M125 176h0M148 176h0M166 178h0M201 172h0M236 179h0M27 194h0M45 192h0M85 190h0M96 190h0M115 197h0M138 195h0M192 191h0M211 191h0M232 194h0M248 188h0M73 207h0M91 213h0M151 209h0M167 207h0M180 211h0M219 207h0M42 228h0M64 220h0M79 221h0M136 227h0M229 224h0M265 227h0M34 242h0M56 243h0M110 243h0M125 238h0M144 242h0M199 240h0M238 238h0M259 240h0M49 259h0M63 259h0M97 260h0M117 259h0M136 258h0M155 252h0M172 256h0M193 251h0M208 255h0M267 256h0M72 274h0M97 272h0M111 273h0M179 273h0M202 267h0M218 271h0M29 287h0M44 286h0M64 288h0M100 289h0M136 289h0M157 290h0M176 287h0M210 289h0M228 289h0M38 300h0M71 306h0M92 306h0M111 300h0M128 300h0M164 305h0M181 308h0M203 307h0M239 309h0M276 304h0M63 323h0M159 321h0M174 320h0M191 320h0M211 322h0M232 317h0M264 320h0" stroke="#eba21c" stroke-width="15" stroke-linecap="round"/><path d="M34 113l-5 16M34 113l15 14M275 110l-10 20M88 143l20 0M163 143l18 1M163 143l-12 16M163 143l11 19M201 145l20 -3M201 145l9 17M210 162l16 1M62 188l11 19M175 191l17 0M175 191l5 20M31 208l27 0M31 208l11 20M112 207l-11 20M127 208l9 19M237 205l23 4M159 225l17 -1M212 224l-13 16M87 240l23 3M87 240l-5 20M87 240l10 20M222 241l-14 14M82 260l-10 14M82 260l15 12M53 270l-9 16M53 270l11 18M237 273l-9 16M120 288l8 12M193 291l-12 17M193 291l10 16M52 301l19 5M52 301l11 22M83 325l17 -3M249 323l15 -3" stroke="#bf8714" stroke-width="7"/><path d="M34 113h0M275 110h0M88 143h0M163 143h0M201 145h0M210 162h0M62 188h0M175 191h0M31 208h0M112 207h0M127 208h0M237 205h0M260 209h0M159 225h0M212 224h0M87 240h0M222 241h0M82 260h0M246 253h0M53 270h0M130 273h0M149 273h0M237 273h0M120 288h0M193 291h0M52 301h0M83 325h0M100 322h0M249 323h0" stroke="#bf8714" stroke-width="15" stroke-linecap="round"/><path d="M244 111l-14 14M244 111l5 16M260 175l-12 13" stroke="#217f9e" stroke-width="7"/><path d="M244 111h0M260 175h0M176 224h0" stroke="#217f9e" stroke-width="15" stroke-linecap="round"/><rect x="26" y="100" width="250" height="230" stroke="#aaa" stroke-width="4"/></g>
<g transform="translate(109.8,99.6) scale(0.1)" fill="none"><rect x="26" y="100" width="250" height="230" fill="#fbeed2"/><path d="M62 64h250v230h-250zM26 100l36 -36M276 100l36 -36M276 330l36 -36M26 330l36 -36" stroke="#a8a8a8" stroke-width="4"/><path d="M106 115l-6 15M222 108l-19 22M222 108l7 20M260 112l13 -2M260 112l7 13M114 212l7 10M32 243l11 15M111 242l17 -5M111 242l-10 15M111 242l11 10M248 256l-8 20M239 305l-10 12M229 317l23 5M265 317l18 2" stroke="#2893b3" stroke-width="7"/><path d="M191 101h0M106 115h0M222 108h0M260 112h0M114 212h0M32 243h0M111 242h0M248 256h0M239 305h0M229 317h0M265 317h0" stroke="#2893b3" stroke-width="15" stroke-linecap="round"/><path d="M51 109l-3 19M87 112l-6 14M87 112l13 18M146 112l19 -1M146 112l12 17M165 111l16 -1M165 111l-7 18M165 111l10 15M181 110l11 17M202 110l-10 17M48 128l-12 19M81 126l19 4M81 126l11 17M100 130l22 -3M100 130l8 9M175 126l-13 15M192 127l11 3M203 130l26 -2M203 130l17 12M229 128l18 0M229 128l-9 14M247 128l20 -3M247 128l-6 19M36 147l20 -4M36 147l-9 15M36 147l11 15M56 143l15 0M56 143l4 19M71 143l21 0M71 143l-11 19M92 143l6 19M126 142l-7 16M185 142l16 2M220 142l11 20M27 162l8 15M98 162l21 -4M98 162l-6 16M98 162l14 16M119 158l-7 20M140 158l-12 18M153 161l20 0M153 161l14 14M173 161l19 0M173 161l-6 14M173 161l14 19M231 162l15 0M231 162l9 14M246 162l22 -2M246 162l11 14M268 160l8 18M35 177l18 3M92 178l20 0M92 178l10 16M112 178l-10 16M128 176l-12 17M187 180l12 -3M187 180l-14 8M187 180l6 11M226 175l-19 16M257 176l-6 10M257 176l11 14M59 193l24 -2M83 191l-10 13M83 191l10 17M102 194l-9 14M116 193l22 -2M116 193l-2 19M138 191l19 3M157 194l16 -6M157 194l-13 11M157 194l9 14M173 188l20 3M173 188l9 20M193 191l14 0M193 191l-11 17M207 191l-4 19M207 191l13 17M251 186l-12 27M268 190l-15 16M73 204l20 4M127 208l-6 14M144 205l22 3M166 208l16 0M166 208l10 19M203 210l-7 16M220 208l19 5M220 208l-9 15M253 206l-7 20M253 206l14 20M26 226l17 -1M26 226l6 17M102 225l19 -3M102 225l-12 15M102 225l9 17M121 222l12 1M133 223l22 3M133 223l-5 14M133 223l9 21M155 226l8 11M176 227l10 10M211 223l20 0M128 237l14 7M128 237l-6 15M163 237l23 0M163 237l-8 18M186 237l17 5M186 237l7 18M26 258l17 0M43 258l21 -1M43 258l12 17M64 257l20 -3M64 257l-9 18M64 257l8 15M84 254l17 3M84 254l-12 18M101 257l21 -5M101 257l-13 15M122 252l15 9M122 252l-12 22M155 255l-10 18M193 255l17 0M193 255l-10 15M210 255l12 16M268 256l-10 18M268 256l6 16M55 275l-14 12M72 272l16 0M72 272l-3 18M110 274l-12 15M162 273l17 15M183 270l-4 18M183 270l8 22M222 271l18 5M222 271l-10 19M222 271l6 18M240 276l-12 13M240 276l10 10M258 274l-8 12M258 274l8 14M26 289l15 -2M26 289l9 14M69 290l-18 15M82 282l16 7M82 282l-10 27M119 289l8 13M179 288l12 4M179 288l7 14M191 292l21 -2M191 292l12 9M212 290l8 13M228 289l22 -3M228 289l11 16M107 301l20 1M107 301l-6 17M127 302l9 23M186 302l17 -1M186 302l-13 19M203 301l-11 20M136 325l21 -4M173 321l19 0M252 322l13 -5" stroke="#eba21c" stroke-width="7"/><path d="M51 109h0M87 112h0M146 112h0M165 111h0M181 110h0M202 110h0M273 110h0M48 128h0M81 126h0M100 130h0M175 126h0M192 127h0M203 130h0M229 128h0M247 128h0M267 125h0M36 147h0M56 143h0M71 143h0M92 143h0M126 142h0M185 142h0M220 142h0M27 162h0M98 162h0M119 158h0M140 158h0M153 161h0M173 161h0M231 162h0M246 162h0M268 160h0M300 161h0M35 177h0M92 178h0M112 178h0M128 176h0M187 180h0M226 175h0M257 176h0M59 193h0M83 191h0M102 194h0M116 193h0M138 191h0M157 194h0M173 188h0M193 191h0M207 191h0M251 186h0M268 190h0M73 204h0M127 208h0M144 205h0M166 208h0M203 210h0M220 208h0M253 206h0M26 226h0M43 225h0M62 224h0M102 225h0M121 222h0M133 223h0M155 226h0M176 227h0M196 226h0M211 223h0M72 239h0M128 237h0M163 237h0M186 237h0M276 241h0M26 258h0M43 258h0M64 257h0M84 254h0M101 257h0M122 252h0M137 261h0M155 255h0M193 255h0M210 255h0M268 256h0M302 256h0M55 275h0M72 272h0M110 274h0M162 273h0M183 270h0M222 271h0M240 276h0M258 274h0M274 272h0M26 289h0M41 287h0M69 290h0M82 282h0M119 289h0M179 288h0M191 292h0M212 290h0M228 289h0M266 288h0M35 303h0M72 309h0M107 301h0M127 302h0M186 302h0M203 301h0M220 303h0M60 319h0M101 318h0M119 319h0M136 325h0M157 321h0M173 321h0M192 321h0M252 322h0M283 319h0" stroke="#eba21c" stroke-width="15" stroke-linecap="round"/><path d="M72 115l15 -3M129 113l17 -1M129 113l-7 14M122 127l16 0M122 127l-14 12M122 127l4 15M138 127l20 2M138 127l-12 15M158 129l17 -3M108 139l11 19M162 141l23 1M162 141l-9 20M162 141l11 20M201 144l-9 17M241 147l14 -3M241 147l-10 15M241 147l5 15M47 162l13 0M47 162l6 18M192 161l7 16M213 160l18 2M213 160l-14 17M53 180l-10 15M53 180l6 13M167 175l20 5M167 175l-10 19M167 175l6 13M199 177l27 -2M199 177l-6 14M199 177l8 14M240 176l17 0M276 178l-8 12M43 195l8 14M51 209l-8 16M51 209l11 15M93 208l21 4M182 208l21 2M182 208l14 18M239 213l14 -7M239 213l-8 10M231 223l15 3M231 223l5 15M246 226l21 0M267 226l9 15M90 240l-6 14M90 240l11 17M142 244l13 11M203 242l-10 13M35 272l-9 17M35 272l6 15M88 272l22 2M88 272l-6 10M88 272l10 17M145 273l17 0M250 286l-11 19M164 304l22 -2M164 304l-7 17" stroke="#bf8714" stroke-width="7"/><path d="M72 115h0M129 113h0M122 127h0M138 127h0M158 129h0M108 139h0M162 141h0M201 144h0M241 147h0M255 144h0M47 162h0M60 162h0M192 161h0M213 160h0M53 180h0M167 175h0M199 177h0M240 176h0M276 178h0M43 195h0M51 209h0M93 208h0M182 208h0M239 213h0M231 223h0M246 226h0M267 226h0M90 240h0M142 244h0M203 242h0M236 238h0M35 272h0M88 272h0M145 273h0M98 289h0M250 286h0M164 304h0M44 320h0" stroke="#bf8714" stroke-width="15" stroke-linecap="round"/><path d="M34 116l17 -7M51 305l9 14" stroke="#217f9e" stroke-width="7"/><path d="M34 116h0M51 305h0" stroke="#217f9e" stroke-width="15" stroke-linecap="round"/><rect x="26" y="100" width="250" height="230" stroke="#aaa" stroke-width="4"/></g>
<g transform="translate(145.7,99.6) scale(0.1)" fill="none"><rect x="26" y="100" width="250" height="230" fill="#fbeed2"/><path d="M62 64h250v230h-250zM26 100l36 -36M276 100l36 -36M276 330l36 -36M26 330l36 -36" stroke="#a8a8a8" stroke-width="4"/><path d="M146 110l20 -1M146 110l-13 20M146 110l10 17M165 144l-10 16M165 144l11 17M173 195l-7 13M173 195l7 12M127 208l20 -1M127 208l-11 15M236 204l21 11M236 204l11 22M72 273l-10 16M72 273l7 15" stroke="#2893b3" stroke-width="7"/><path d="M146 110h0M165 144h0M173 195h0M127 208h0M236 204h0M81 258h0M72 273h0M260 270h0" stroke="#2893b3" stroke-width="15" stroke-linecap="round"/><path d="M51 111l27 4M78 115l12 1M78 115l-12 13M78 115l5 14M90 116l22 -2M90 116l-7 13M112 114l19 -2M112 114l7 17M131 112l15 -2M131 112l-12 19M166 109l-10 18M182 113l19 0M201 113l12 12M224 110l-11 15M224 110l5 13M66 128l17 1M66 128l-10 16M66 128l6 18M133 130l-5 13M156 127l9 17M229 123l12 20M56 144l16 2M56 144l3 17M72 146l20 -2M72 146l-13 15M109 145l-11 18M128 143l10 17M241 143l16 4M257 147l9 11M59 161l10 18M155 160l9 22M176 161l16 -3M192 158l12 20M211 161l18 2M211 161l-7 17M211 161l9 12M266 158l-8 20M266 158l8 22M34 179l8 12M112 177l11 -5M112 177l-13 15M123 172l-3 20M123 172l12 17M164 182l-6 13M204 178l-12 15M274 180l-6 14M42 191l-3 18M99 192l-6 16M99 192l10 14M120 192l-11 14M135 189l-8 19M135 189l12 18M158 195l15 0M158 195l-11 12M192 193l-12 14M228 188l21 5M228 188l-8 22M228 188l8 16M268 194l-11 21M268 194l6 15M57 210l15 2M57 210l7 12M72 212l21 -4M72 212l-8 10M93 208l16 -2M109 206l18 2M109 206l7 17M147 207l9 20M166 208l-10 19M180 207l20 -2M180 207l-7 18M200 205l12 19M257 215l17 -6M257 215l-10 11M257 215l13 12M274 209l-4 18M64 222l13 23M116 223l17 14M156 227l17 -2M173 225l10 16M212 224l-14 18M212 224l5 19M247 226l23 1M247 226l7 14M270 227l-16 13M270 227l6 13M77 245l4 13M91 240l15 0M106 240l27 -3M133 237l-19 22M133 237l3 17M183 241l15 1M198 242l19 1M198 242l14 17M26 258l10 15M114 259l22 -5M114 259l8 16M136 254l-14 21M212 259l16 -3M212 259l8 15M122 275l-1 11M122 275l15 14M170 272l10 4M170 272l-7 12M220 274l10 12M240 272l20 -2M240 272l8 13M49 286l13 3M62 289l17 -1M62 289l9 17M79 288l-8 18M101 286l7 18M175 294l-8 11M191 291l20 -6M191 291l11 10M211 285l19 1M211 285l-9 16M230 286l-10 22M268 283l-12 18M268 283l6 24M167 305l16 0M167 305l-10 14M167 305l9 13M183 305l19 -4M183 305l-7 13M183 305l15 16M220 308l-8 10M220 308l12 15M256 301l18 6M256 301l-11 18M26 320l19 -1M45 319l18 3M139 323l18 -4M157 319l19 -1M212 318l20 5" stroke="#eba21c" stroke-width="7"/><path d="M130 78h0M256 82h0M295 76h0M51 111h0M78 115h0M90 116h0M112 114h0M131 112h0M166 109h0M182 113h0M201 113h0M224 110h0M242 111h0M66 128h0M133 130h0M156 127h0M229 123h0M266 128h0M56 144h0M72 146h0M109 145h0M128 143h0M241 143h0M257 147h0M30 159h0M59 161h0M155 160h0M176 161h0M192 158h0M211 161h0M229 163h0M266 158h0M34 179h0M112 177h0M123 172h0M164 182h0M204 178h0M220 173h0M274 180h0M42 191h0M64 193h0M99 192h0M120 192h0M135 189h0M158 195h0M192 193h0M228 188h0M268 194h0M57 210h0M72 212h0M93 208h0M109 206h0M147 207h0M166 208h0M180 207h0M200 205h0M257 215h0M274 209h0M64 222h0M116 223h0M156 227h0M173 225h0M212 224h0M247 226h0M270 227h0M77 245h0M91 240h0M106 240h0M133 237h0M183 241h0M198 242h0M254 240h0M26 258h0M114 259h0M136 254h0M172 253h0M212 259h0M268 260h0M92 274h0M122 275h0M170 272h0M220 274h0M240 272h0M49 286h0M62 289h0M79 288h0M101 286h0M137 289h0M175 294h0M191 291h0M211 285h0M230 286h0M268 283h0M167 305h0M183 305h0M220 308h0M256 301h0M274 307h0M26 320h0M45 319h0M63 322h0M97 322h0M120 322h0M139 323h0M157 319h0M176 318h0M212 318h0M232 323h0M245 319h0M265 319h0" stroke="#eba21c" stroke-width="15" stroke-linecap="round"/><path d="M83 129l9 15M119 131l14 -1M119 131l-10 14M92 144l17 1M92 144l-11 16M81 160l17 3M81 160l-12 19M81 160l9 14M98 163l-8 11M98 163l14 14M116 161l22 -1M116 161l7 11M138 160l17 0M69 179l21 -5M69 179l-5 14M69 179l15 12M90 174l22 3M90 174l-6 17M258 178l16 2M27 191l15 0M27 191l12 18M84 191l15 1M84 191l9 17M39 209l18 1M220 210l16 -6M220 210l-8 14M36 244l17 -1M53 243l24 2M53 243l11 7M217 243l22 -4M217 243l-5 16M217 243l11 13M64 250l17 8M180 276l11 15M121 286l16 3M121 286l-13 18M121 286l7 17M163 284l12 10M163 284l4 21M248 285l20 -2M248 285l8 16M108 304l-11 18M128 303l-8 19M128 303l11 20" stroke="#bf8714" stroke-width="7"/><path d="M33 113h0M311 112h0M83 129h0M119 131h0M213 125h0M39 143h0M92 144h0M81 160h0M98 163h0M116 161h0M138 160h0M69 179h0M90 174h0M258 178h0M27 191h0M84 191h0M39 209h0M220 210h0M27 221h0M36 244h0M53 243h0M217 243h0M239 239h0M276 240h0M64 250h0M228 256h0M36 273h0M180 276h0M121 286h0M163 284h0M248 285h0M71 306h0M108 304h0M128 303h0M202 301h0M198 321h0" stroke="#bf8714" stroke-width="15" stroke-linecap="round"/><path d="M249 193l19 1M249 193l-13 11M249 193l8 22" stroke="#217f9e" stroke-width="7"/><path d="M249 193h0" stroke="#217f9e" stroke-width="15" stroke-linecap="round"/><rect x="26" y="100" width="250" height="230" stroke="#aaa" stroke-width="4"/></g>
<g transform="translate(181.6,99.6) scale(0.1)" fill="none"><rect x="26" y="100" width="250" height="230" fill="#fbeed2"/><path d="M62 64h250v230h-250zM26 100l36 -36M276 100l36 -36M276 330l36 -36M26 330l36 -36" stroke="#a8a8a8" stroke-width="4"/><path d="M191 131l10 14M245 163l-5 16M245 163l15 16M184 204l19 1" stroke="#2893b3" stroke-width="7"/><path d="M191 131h0M245 163h0M184 204h0M313 207h0M155 255h0M260 308h0" stroke="#2893b3" stroke-width="15" stroke-linecap="round"/><path d="M35 113l14 -2M49 111l0 16M92 114l9 14M131 112l12 2M131 112l5 12M167 112l17 2M184 114l21 -1M184 114l7 17M205 113l-14 18M205 113l6 14M49 127l-15 17M49 127l5 15M81 130l11 15M101 128l-9 17M101 128l5 16M136 124l19 6M155 130l-6 15M249 128l19 0M249 128l8 18M34 144l20 -2M34 144l14 17M92 145l14 -1M201 145l-7 13M237 145l8 18M257 146l-12 17M48 161l2 11M81 163l-12 14M194 158l-11 18M210 165l-12 11M50 172l19 5M69 177l15 19M198 176l14 17M240 179l20 0M240 179l8 9M47 191l-12 16M47 191l5 17M84 196l14 -4M84 196l-11 10M98 192l-12 14M248 188l15 3M248 188l-10 21M248 188l10 20M263 191l-5 17M35 207l17 1M35 207l-7 19M35 207l13 18M52 208l-4 17M73 206l13 0M73 206l-12 16M73 206l10 22M86 206l-3 22M86 206l13 16M203 205l-9 18M258 208l8 14M28 226l20 -1M28 226l8 12M48 225l8 14M61 222l-5 17M83 228l-9 13M99 222l7 16M138 226l15 -3M194 223l18 -3M194 223l6 18M212 220l-12 21M248 221l18 1M248 221l-10 25M106 238l-5 19M145 240l-9 14M184 241l16 0M184 241l11 15M238 246l20 -6M84 258l6 10M136 254l9 18M252 255l13 2M265 257l-6 18M35 273l15 -1M90 268l3 23M238 271l21 4M259 275l-10 16M259 275l5 15M44 290l-9 15M84 286l-13 15M93 291l16 14M140 286l-10 20M153 287l-6 18M189 292l17 12M211 289l7 16M249 291l15 -1M264 290l-4 18M35 305l15 -3M35 305l15 11M90 304l19 1M90 304l-12 17M130 306l7 14M147 305l-10 15M147 305l9 17M206 304l4 15M218 305l20 -3M238 302l22 6M137 320l19 2" stroke="#eba21c" stroke-width="7"/><path d="M55 78h0M35 113h0M49 111h0M92 114h0M131 112h0M167 112h0M184 114h0M205 113h0M243 109h0M49 127h0M81 130h0M101 128h0M136 124h0M155 130h0M211 127h0M249 128h0M34 144h0M54 142h0M92 145h0M106 144h0M149 145h0M201 145h0M237 145h0M257 146h0M48 161h0M81 163h0M194 158h0M210 165h0M38 178h0M50 172h0M69 177h0M109 174h0M198 176h0M240 179h0M294 174h0M47 191h0M84 196h0M98 192h0M157 191h0M212 193h0M248 188h0M263 191h0M35 207h0M52 208h0M73 206h0M86 206h0M203 205h0M258 208h0M28 226h0M48 225h0M61 222h0M83 228h0M99 222h0M138 226h0M153 223h0M194 223h0M212 220h0M248 221h0M56 239h0M106 238h0M145 240h0M184 241h0M238 246h0M258 240h0M43 256h0M84 258h0M136 254h0M195 256h0M252 255h0M265 257h0M35 273h0M90 268h0M238 271h0M259 275h0M44 290h0M84 286h0M93 291h0M140 286h0M153 287h0M189 292h0M211 289h0M249 291h0M264 290h0M35 305h0M90 304h0M109 305h0M130 306h0M147 305h0M206 304h0M218 305h0M238 302h0M50 316h0M78 321h0M137 320h0M156 322h0M192 321h0M210 319h0M245 324h0" stroke="#eba21c" stroke-width="15" stroke-linecap="round"/><path d="M143 114l24 -2M143 114l-7 10M143 114l12 16M259 113l9 15M233 128l16 0M268 128l-11 18M147 178l-9 14M260 179l3 12M138 192l19 -1M138 192l-8 15M266 222l-8 18M36 238l7 18M101 257l-11 11M50 272l-6 18M145 272l22 -2M145 272l8 15M50 302l0 14M185 305l21 -1M185 305l7 16" stroke="#bf8714" stroke-width="7"/><path d="M143 114h0M259 113h0M233 128h0M268 128h0M134 161h0M159 161h0M147 178h0M183 176h0M260 179h0M138 192h0M130 207h0M238 209h0M266 222h0M36 238h0M74 241h0M200 241h0M101 257h0M210 256h0M50 272h0M145 272h0M167 270h0M50 302h0M185 305h0" stroke="#bf8714" stroke-width="15" stroke-linecap="round"/><path d="M71 301l19 3M71 301l7 20" stroke="#217f9e" stroke-width="7"/><path d="M71 301h0" stroke="#217f9e" stroke-width="15" stroke-linecap="round"/><rect x="26" y="100" width="250" height="230" stroke="#aaa" stroke-width="4"/></g>
<g transform="translate(38.0,135.5) scale(0.1)" fill="none"><rect x="26" y="100" width="250" height="230" fill="#fbeed2"/><path d="M62 64h250v230h-250zM26 100l36 -36M276 100l36 -36M276 330l36 -36M26 330l36 -36" stroke="#a8a8a8" stroke-width="4"/><path d="M147 112l18 2M186 146l14 -4M186 146l-11 12M186 146l6 17M99 160l-5 11M184 175l11 16M201 174l-6 17M201 174l11 17M195 191l17 0M111 207l16 2M145 210l-8 13M119 223l18 0M191 224l21 0M37 239l4 10M146 243l10 13M156 256l17 1M194 255l19 0M194 255l-14 16M194 255l8 17M52 273l19 1M238 272l17 -1M238 272l6 16M208 289l23 -2M208 289l11 16M157 320l19 -1" stroke="#2893b3" stroke-width="7"/><path d="M192 65h0M147 112h0M186 146h0M275 148h0M99 160h0M184 175h0M201 174h0M195 191h0M111 207h0M145 210h0M119 223h0M191 224h0M37 239h0M146 243h0M156 256h0M194 255h0M52 273h0M238 272h0M208 289h0M244 288h0M82 318h0M157 320h0" stroke="#2893b3" stroke-width="15" stroke-linecap="round"/><path d="M154 96l-7 16M93 112l3 14M165 114l14 -4M165 114l6 18M179 110l13 21M256 112l19 -1M275 111l-6 20M84 126l12 0M84 126l-9 21M137 128l18 0M137 128l-11 15M155 128l16 4M155 128l9 18M192 131l-6 15M192 131l8 11M208 129l13 17M75 147l-11 13M111 142l-12 18M126 143l10 19M164 146l22 0M164 146l11 12M200 142l21 4M200 142l12 14M221 146l-9 10M42 157l22 3M42 157l-8 17M42 157l9 20M64 160l9 17M175 158l17 5M175 158l9 17M192 163l20 -7M192 163l-8 12M192 163l9 11M227 161l25 1M252 162l-14 14M34 174l17 3M34 174l10 20M51 177l22 0M51 177l12 12M73 177l21 -6M130 176l-12 17M238 176l11 16M26 195l18 -1M26 195l10 12M44 194l-8 13M44 194l14 16M105 193l6 14M118 193l19 -2M118 193l-7 14M118 193l9 16M137 191l18 1M137 191l-10 18M155 192l-10 18M212 191l8 14M249 192l19 2M249 192l-13 14M249 192l5 18M268 194l-14 16M58 210l-15 14M127 209l-8 14M127 209l10 14M185 207l18 2M185 207l-12 20M185 207l6 17M254 210l10 14M63 227l8 12M137 223l-9 15M137 223l9 20M173 227l18 -3M173 227l9 12M212 224l19 -1M212 224l-13 15M231 223l-10 16M231 223l11 18M264 224l-8 16M108 246l20 -8M166 240l-10 16M166 240l7 17M182 239l-9 18M182 239l12 16M199 239l22 0M199 239l14 16M221 239l21 2M221 239l-8 16M242 241l14 -1M242 241l-11 15M242 241l8 19M256 240l-6 20M41 249l11 24M81 257l-10 17M213 255l18 1M71 274l10 15M109 268l17 1M109 268l13 21M126 269l20 3M126 269l-4 20M146 272l-7 17M180 271l22 1M202 272l19 3M202 272l-10 19M202 272l6 17M221 275l-13 14M28 289l14 0M28 289l8 16M42 289l-6 16M62 283l10 22M81 289l-9 16M122 289l17 0M122 289l-13 19M231 287l13 1M231 287l7 15M36 305l8 17M72 305l15 1M72 305l-9 16M72 305l10 13M87 306l22 2M87 306l-5 12M87 306l16 14M109 308l20 -3M129 305l-11 14M165 305l20 0M165 305l-8 15M185 305l-9 14M219 305l19 -3M190 318l22 0" stroke="#eba21c" stroke-width="7"/><path d="M154 96h0M33 113h0M93 112h0M165 114h0M179 110h0M256 112h0M275 111h0M292 109h0M61 126h0M84 126h0M137 128h0M155 128h0M192 131h0M208 129h0M269 131h0M37 140h0M75 147h0M111 142h0M126 143h0M164 146h0M200 142h0M221 146h0M42 157h0M64 160h0M175 158h0M192 163h0M227 161h0M252 162h0M34 174h0M51 177h0M73 177h0M130 176h0M238 176h0M26 195h0M44 194h0M105 193h0M118 193h0M137 191h0M155 192h0M212 191h0M249 192h0M268 194h0M58 210h0M127 209h0M185 207h0M254 210h0M63 227h0M137 223h0M173 227h0M212 224h0M231 223h0M264 224h0M108 246h0M128 238h0M166 240h0M182 239h0M199 239h0M221 239h0M242 241h0M256 240h0M41 249h0M81 257h0M102 258h0M173 257h0M213 255h0M250 260h0M71 274h0M109 268h0M126 269h0M146 272h0M180 271h0M202 272h0M221 275h0M28 289h0M42 289h0M62 283h0M81 289h0M122 289h0M231 287h0M36 305h0M72 305h0M87 306h0M109 308h0M129 305h0M165 305h0M185 305h0M219 305h0M238 302h0M29 319h0M44 322h0M63 321h0M118 319h0M190 318h0M268 318h0" stroke="#eba21c" stroke-width="15" stroke-linecap="round"/><path d="M202 115l-10 16M202 115l6 14M223 110l-15 19M136 162l15 1M136 162l-6 14M151 163l24 -5M212 156l15 5M63 189l-5 21M176 196l9 11M227 192l22 0M36 207l22 3M36 207l-8 14M36 207l7 17M203 209l17 -4M220 205l16 1M220 205l-8 19M220 205l11 18M236 206l18 4M274 205l-10 19M28 221l9 18M43 224l20 3M62 257l-10 16M62 257l9 17M139 258l17 -2M139 258l-13 11M139 258l7 14M231 256l19 4M231 256l7 16M255 271l11 18M192 291l16 -2M192 291l-7 14M103 320l15 -1" stroke="#bf8714" stroke-width="7"/><path d="M139 97h0M202 115h0M223 110h0M96 126h0M136 162h0M151 163h0M212 156h0M94 171h0M63 189h0M176 196h0M227 192h0M36 207h0M203 209h0M220 205h0M236 206h0M274 205h0M28 221h0M43 224h0M71 239h0M62 257h0M139 258h0M231 256h0M255 271h0M192 291h0M103 320h0M176 319h0M212 318h0" stroke="#bf8714" stroke-width="15" stroke-linecap="round"/><path d="M171 132l-7 14M139 289l-10 16M266 289l-12 17M254 306l14 12" stroke="#217f9e" stroke-width="7"/><path d="M171 132h0M139 289h0M266 289h0M254 306h0" stroke="#217f9e" stroke-width="15" stroke-linecap="round"/><rect x="26" y="100" width="250" height="230" stroke="#aaa" stroke-width="4"/></g>
<g transform="translate(73.9,135.5) scale(0.1)" fill="none"><rect x="26" y="100" width="250" height="230" fill="#fbeed2"/><path d="M62 64h250v230h-250zM26 100l36 -36M276 100l36 -36M276 330l36 -36M26 330l36 -36" stroke="#a8a8a8" stroke-width="4"/><path d="M147 112l7 15M241 109l6 17M173 127l23 4M196 131l14 -3M210 128l-10 17M247 126l-9 17M247 126l10 15M90 139l20 5M200 145l11 11M238 143l19 -2M238 143l11 16M257 141l15 0M257 141l-8 18M84 162l16 -2M84 162l6 16M153 163l20 -5M153 163l-7 13M228 160l21 -1M228 160l-9 18M107 175l23 5M107 175l13 14M182 174l15 -4M182 174l-6 18M182 174l15 19M197 170l22 8M197 170l10 22M251 176l13 16M120 189l-11 20M158 191l6 19M197 193l10 -1M197 193l6 16M264 192l-6 17M109 209l10 15M164 210l23 -1M187 209l16 0M187 209l-17 15M219 208l12 15M258 209l-7 14M258 209l7 14M66 223l18 0M66 223l-14 18M212 222l19 1M251 223l14 0M128 236l13 18M157 290l-9 15M33 305l23 -4M99 316l15 0" stroke="#2893b3" stroke-width="7"/><path d="M147 112h0M165 115h0M241 109h0M44 129h0M173 127h0M196 131h0M210 128h0M247 126h0M90 139h0M200 145h0M238 143h0M257 141h0M84 162h0M153 163h0M228 160h0M107 175h0M182 174h0M197 170h0M251 176h0M120 189h0M158 191h0M197 193h0M264 192h0M109 209h0M164 210h0M187 209h0M219 208h0M258 209h0M66 223h0M212 222h0M231 223h0M251 223h0M128 236h0M127 273h0M157 290h0M33 305h0M217 303h0M64 325h0M99 316h0" stroke="#2893b3" stroke-width="15" stroke-linecap="round"/><path d="M85 112l-7 17M128 112l19 0M262 115l-15 11M262 115l8 13M27 129l5 13M32 142l21 1M53 143l-6 15M110 144l8 17M147 144l-12 18M147 144l6 19M118 161l17 1M118 161l-11 14M118 161l12 19M135 162l18 1M135 162l-5 18M135 162l11 14M192 158l-10 16M211 156l-14 14M211 156l8 22M249 159l20 -3M249 159l2 17M269 156l-18 20M33 181l-7 10M90 178l17 -3M90 178l-7 11M130 180l16 -4M130 180l-10 9M130 180l6 12M146 176l-10 16M83 189l8 19M136 192l22 -1M91 208l-7 15M91 208l9 16M236 210l22 -1M100 224l19 0M100 224l-11 17M100 224l8 10M138 227l-10 9M138 227l7 13M170 224l16 2M170 224l-6 16M52 241l-11 13M89 241l-10 10M89 241l10 11M108 234l20 2M145 240l19 0M145 240l-4 14M164 240l23 2M164 240l-7 14M187 242l-15 14M258 241l7 16M79 251l20 1M99 252l20 4M141 254l16 0M141 254l-14 19M157 254l15 2M157 254l-11 16M157 254l8 17M191 260l-11 14M234 254l13 2M54 274l-11 14M54 274l11 15M89 271l-7 19M146 270l-9 17M146 270l11 20M256 271l10 19M43 288l22 1M43 288l13 13M193 286l-9 20M92 306l18 -3M92 306l7 10M274 303l-9 14M42 320l22 5M85 318l14 -2M195 316l15 5M210 321l20 -5M230 316l18 2" stroke="#eba21c" stroke-width="7"/><path d="M55 109h0M85 112h0M128 112h0M200 111h0M262 115h0M27 129h0M154 127h0M32 142h0M53 143h0M110 144h0M147 144h0M118 161h0M135 162h0M192 158h0M211 156h0M249 159h0M269 156h0M33 181h0M90 178h0M130 180h0M146 176h0M219 178h0M26 191h0M83 189h0M136 192h0M91 208h0M236 210h0M100 224h0M119 224h0M138 227h0M170 224h0M52 241h0M89 241h0M108 234h0M145 240h0M164 240h0M187 242h0M258 241h0M79 251h0M99 252h0M141 254h0M157 254h0M191 260h0M234 254h0M265 257h0M54 274h0M89 271h0M146 270h0M256 271h0M43 288h0M82 290h0M193 286h0M92 306h0M148 305h0M274 303h0M42 320h0M85 318h0M139 320h0M195 316h0M210 321h0M230 316h0M265 317h0" stroke="#eba21c" stroke-width="15" stroke-linecap="round"/><path d="M36 110l19 -1M36 110l8 19M104 131l13 -2M104 131l-14 8M117 129l-7 15M270 128l-13 13M47 158l-14 23M100 160l18 1M100 160l-10 18M74 175l16 3M74 175l9 14M186 226l26 -4M186 226l1 16M35 239l17 2M35 239l6 15M65 256l14 -5M172 256l19 4M172 256l-7 15M172 256l8 18M247 256l9 15M165 271l15 3M165 271l11 18M137 287l11 18M56 301l17 4M73 305l19 1M184 306l11 10M198 302l19 1M198 302l12 19M114 316l25 4M248 318l17 -1" stroke="#bf8714" stroke-width="7"/><path d="M36 110h0M78 129h0M104 131h0M117 129h0M270 128h0M47 158h0M100 160h0M74 175h0M84 223h0M186 226h0M35 239h0M41 254h0M65 256h0M172 256h0M247 256h0M165 271h0M240 274h0M137 287h0M176 289h0M56 301h0M73 305h0M110 303h0M184 306h0M198 302h0M114 316h0M248 318h0" stroke="#bf8714" stroke-width="15" stroke-linecap="round"/><path d="M69 143l15 19M173 158l19 0M173 158l9 16M176 192l-12 18M176 192l11 17M207 192l-4 17M207 192l12 16M203 209l9 13M157 223l13 1M157 223l7 17M265 223l-7 18M119 256l22 -2M119 256l8 17M73 273l9 17M180 274l-4 15M65 289l-9 12M65 289l8 16M266 290l8 13" stroke="#217f9e" stroke-width="7"/><path d="M69 143h0M125 144h0M272 141h0M173 158h0M176 192h0M207 192h0M203 209h0M157 223h0M265 223h0M119 256h0M73 273h0M180 274h0M65 289h0M266 290h0M26 319h0" stroke="#217f9e" stroke-width="15" stroke-linecap="round"/><rect x="26" y="100" width="250" height="230" stroke="#aaa" stroke-width="4"/></g>
<g transform="translate(109.8,135.5) scale(0.1)" fill="none"><rect x="26" y="100" width="250" height="230" fill="#fbeed2"/><path d="M62 64h250v230h-250zM26 100l36 -36M276 100l36 -36M276 330l36 -36M26 330l36 -36" stroke="#a8a8a8" stroke-width="4"/><path d="M35 113l9 14M164 110l23 -2M164 110l-6 19M187 108l-13 20M101 128l7 19M158 129l-14 17M158 129l8 18M108 147l11 14M166 147l18 -3M166 147l6 12M276 145l-7 16M78 159l-7 17M99 160l20 1M119 161l-10 12M119 161l6 18M159 158l13 1M159 158l-16 16M189 164l-9 10M189 164l14 11M57 178l14 -2M57 178l-18 12M71 176l18 1M71 176l8 18M89 177l20 -4M89 177l9 16M109 173l16 6M109 173l-11 20M180 174l23 1M180 174l15 20M220 171l17 5M39 190l-7 22M39 190l18 16M98 193l-8 14M119 191l23 -2M173 193l22 1M147 207l-9 17M181 210l12 17M275 208l-8 16M80 224l21 0M80 224l9 19M101 224l16 0M101 224l-12 19M101 224l8 16M117 224l21 0M117 224l-8 16M117 224l13 13M229 221l18 3M229 221l-7 15M229 221l11 21M89 243l20 -3M89 243l8 13M240 242l15 -2M240 242l8 14M61 255l-8 17M97 256l-6 15M97 256l12 19M191 254l19 2M191 254l-8 15M210 256l20 6M210 256l-9 21M166 272l17 -3M166 272l-9 12M45 288l5 17M134 285l-8 18M190 289l18 -1M229 291l21 -1M266 291l-10 12M88 306l10 17M162 303l-7 18M162 303l12 18M182 304l19 3M241 306l15 -3M241 306l-8 18M62 321l19 0M81 321l17 2" stroke="#2893b3" stroke-width="7"/><path d="M136 64h0M35 113h0M124 117h0M164 110h0M187 108h0M259 114h0M101 128h0M140 128h0M158 129h0M174 128h0M108 147h0M166 147h0M276 145h0M27 158h0M78 159h0M99 160h0M119 161h0M159 158h0M189 164h0M57 178h0M71 176h0M89 177h0M109 173h0M180 174h0M220 171h0M39 190h0M79 194h0M98 193h0M119 191h0M173 193h0M297 191h0M147 207h0M181 210h0M275 208h0M47 224h0M61 224h0M80 224h0M101 224h0M117 224h0M229 221h0M89 243h0M165 238h0M240 242h0M61 255h0M97 256h0M191 254h0M210 256h0M166 272h0M183 269h0M45 288h0M134 285h0M190 289h0M229 291h0M266 291h0M72 304h0M88 306h0M162 303h0M182 304h0M241 306h0M46 321h0M62 321h0M81 321h0M98 323h0M141 324h0M155 321h0" stroke="#2893b3" stroke-width="15" stroke-linecap="round"/><path d="M239 109l20 5M239 109l-10 17M239 109l9 16M117 126l23 2M210 126l19 0M210 126l-12 19M210 126l12 19M229 126l19 -1M89 141l19 6M144 146l22 1M144 146l15 12M184 144l14 1M184 144l-12 15M184 144l5 20M198 145l-9 19M198 145l14 17M222 145l11 16M259 142l17 3M259 142l10 19M172 159l17 5M172 159l-2 15M212 162l21 -1M212 162l8 9M233 161l4 15M143 174l27 0M143 174l-1 15M143 174l18 16M203 175l-8 19M237 176l20 3M237 176l10 19M247 195l21 -2M247 195l10 14M268 193l7 15M57 206l15 2M57 206l-10 18M57 206l4 18M72 208l-11 16M90 207l-10 17M90 207l11 17M128 208l-11 16M219 208l16 -2M219 208l-7 18M219 208l10 13M138 224l-8 13M138 224l9 16M193 227l19 -1M247 224l20 0M247 224l-7 18M247 224l8 16M147 240l18 -2M147 240l10 14M203 239l19 -3M203 239l-12 15M203 239l7 17M222 236l18 6M222 236l8 26M157 254l-11 26M201 277l-11 12M201 277l7 11M255 273l-5 17M255 273l11 18M84 288l-12 16M250 290l16 1M250 290l-9 16M174 321l17 -4M191 317l21 3" stroke="#eba21c" stroke-width="7"/><path d="M158 65h0M188 81h0M277 81h0M73 113h0M203 111h0M239 109h0M44 127h0M117 126h0M210 126h0M229 126h0M89 141h0M144 146h0M184 144h0M198 145h0M222 145h0M259 142h0M46 160h0M172 159h0M212 162h0M233 161h0M269 161h0M143 174h0M203 175h0M237 176h0M161 190h0M195 194h0M232 195h0M247 195h0M268 193h0M57 206h0M72 208h0M90 207h0M128 208h0M219 208h0M138 224h0M193 227h0M212 226h0M247 224h0M147 240h0M203 239h0M222 236h0M276 241h0M44 255h0M157 254h0M230 262h0M201 277h0M255 273h0M84 288h0M157 284h0M250 290h0M256 303h0M174 321h0M191 317h0M233 324h0" stroke="#eba21c" stroke-width="15" stroke-linecap="round"/><path d="M268 129l-9 13M32 212l15 12M235 206l12 18M267 224l9 17M109 240l21 -3M109 240l-12 16M255 240l21 1M208 288l21 3M208 288l-7 19M126 303l-8 20M201 307l11 13" stroke="#bf8714" stroke-width="7"/><path d="M268 129h0M32 212h0M235 206h0M267 224h0M109 240h0M255 240h0M248 256h0M208 288h0M126 303h0M201 307h0M118 323h0M212 320h0" stroke="#bf8714" stroke-width="15" stroke-linecap="round"/><path d="M145 112l19 -2M145 112l-5 16M196 127l-12 17M248 125l20 4M125 179l18 -5M125 179l-6 12M170 174l10 0M170 174l-9 16M257 179l-10 16M257 179l11 14M142 189l19 1M142 189l-14 19M142 189l5 18M257 209l18 -1M257 209l10 15M175 226l18 1M130 237l17 3M130 237l-14 21M116 258l-7 17M116 258l10 16M53 272l-8 16M91 271l18 4M91 271l-7 17M109 275l17 -1M126 274l20 6M126 274l8 11M146 280l20 -8M146 280l11 4M50 305l22 -1M50 305l-4 16" stroke="#217f9e" stroke-width="7"/><path d="M145 112h0M196 127h0M248 125h0M125 179h0M170 174h0M257 179h0M142 189h0M257 209h0M175 226h0M130 237h0M116 258h0M35 273h0M53 272h0M91 271h0M109 275h0M126 274h0M146 280h0M50 305h0M268 323h0" stroke="#217f9e" stroke-width="15" stroke-linecap="round"/><rect x="26" y="100" width="250" height="230" stroke="#aaa" stroke-width="4"/></g>
<g transform="translate(145.7,135.5) scale(0.1)" fill="none"><rect x="26" y="100" width="250" height="230" fill="#fbeed2"/><path d="M62 64h250v230h-250zM26 100l36 -36M276 100l36 -36M276 330l36 -36M26 330l36 -36" stroke="#a8a8a8" stroke-width="4"/><path d="M53 112l9 15M27 127l17 3M44 130l18 -3M174 125l18 6M232 128l14 0M232 128l5 15M72 143l17 4M72 143l6 16M89 147l17 -2M89 147l-11 12M106 145l11 10M166 145l18 0M166 145l-12 16M166 145l4 13M260 141l-13 20M53 174l-6 16M164 176l-4 17M164 176l11 15M258 172l8 18M100 191l10 19M266 190l7 17M73 206l-11 19M165 207l18 -1M165 207l-10 15M165 207l9 16M62 225l-9 17M83 227l14 0M83 227l-11 12M97 227l11 14M119 227l18 0M119 227l6 10M174 223l18 2M231 221l7 12M266 223l-8 14M266 223l9 18M53 242l19 -3M53 242l-9 14M72 239l9 14M27 255l17 1M164 275l-11 13M184 273l-8 16M184 273l8 18M220 274l-6 11M220 274l7 12M117 287l-9 18M192 291l22 -6M192 291l11 17M266 288l-6 16M266 288l9 17M260 304l15 1M260 304l-11 20M81 321l20 -1" stroke="#2893b3" stroke-width="7"/><path d="M53 112h0M27 127h0M44 130h0M174 125h0M232 128h0M246 128h0M72 143h0M89 147h0M106 145h0M166 145h0M260 141h0M34 177h0M53 174h0M91 174h0M164 176h0M258 172h0M47 190h0M100 191h0M266 190h0M73 206h0M165 207h0M62 225h0M83 227h0M97 227h0M119 227h0M155 222h0M174 223h0M231 221h0M266 223h0M53 242h0M72 239h0M142 242h0M275 241h0M27 255h0M164 275h0M184 273h0M220 274h0M117 287h0M192 291h0M266 288h0M34 305h0M145 307h0M260 304h0M81 321h0M101 320h0" stroke="#2893b3" stroke-width="15" stroke-linecap="round"/><path d="M70 112l-8 15M182 105l15 5M182 105l-8 20M197 110l21 3M197 110l-5 21M197 110l10 15M218 113l25 0M218 113l-11 12M218 113l14 15M243 113l14 2M257 115l-11 13M62 127l10 16M155 132l19 -7M155 132l-9 12M155 132l11 13M192 131l-8 14M146 144l-7 17M146 144l8 17M237 143l-9 20M237 143l10 18M47 160l-13 17M59 161l19 -2M117 155l22 6M117 155l12 20M170 158l-6 18M170 158l16 18M115 176l14 -1M129 175l23 -4M152 171l-16 24M200 180l14 10M61 193l12 13M136 195l24 -2M136 195l-10 12M160 193l15 -2M160 193l5 14M193 193l-10 13M193 193l7 16M37 208l-9 15M110 210l16 -3M110 210l-13 17M126 207l-7 20M126 207l11 20M183 206l17 3M183 206l9 19M200 209l17 -1M200 209l-8 16M273 207l-7 16M28 223l3 19M44 222l18 3M44 222l-13 20M137 227l18 -5M137 227l-12 10M137 227l5 15M31 242l22 0M31 242l-4 13M31 242l13 14M108 241l17 -4M199 240l23 0M222 240l-13 17M258 237l-12 22M81 253l-9 22M81 253l9 20M209 257l11 17M90 273l10 19M126 266l-9 21M147 272l17 3M274 275l-8 13M46 283l7 18M153 288l23 1M176 289l16 2M227 286l14 17M247 289l19 -1M247 289l-6 14M247 289l13 15M91 306l-10 15M222 305l5 14M241 303l-14 16M241 303l8 21M174 320l18 -4M227 319l22 5" stroke="#eba21c" stroke-width="7"/><path d="M70 112h0M109 109h0M182 105h0M197 110h0M218 113h0M243 113h0M257 115h0M275 114h0M62 127h0M155 132h0M192 131h0M207 125h0M146 144h0M237 143h0M47 160h0M59 161h0M117 155h0M170 158h0M247 161h0M115 176h0M129 175h0M152 171h0M200 180h0M61 193h0M81 192h0M136 195h0M160 193h0M175 191h0M193 193h0M249 188h0M37 208h0M110 210h0M126 207h0M183 206h0M200 209h0M217 208h0M273 207h0M28 223h0M44 222h0M137 227h0M192 225h0M31 242h0M108 241h0M125 237h0M199 240h0M222 240h0M238 233h0M258 237h0M81 253h0M209 257h0M246 259h0M72 275h0M90 273h0M126 266h0M147 272h0M274 275h0M46 283h0M153 288h0M176 289h0M227 286h0M247 289h0M91 306h0M222 305h0M241 303h0M119 322h0M174 320h0M192 316h0M227 319h0" stroke="#eba21c" stroke-width="15" stroke-linecap="round"/><path d="M154 161l-2 10M154 161l10 15M228 163l-6 13M186 176l-11 15M214 190l12 1M226 191l23 -3M44 256l4 20M190 257l19 0M190 257l-6 16M48 276l-2 7M100 292l17 -5M100 292l-9 14M108 305l23 -1M108 305l-7 15M131 304l14 3M203 308l-11 8M249 324l16 -1" stroke="#bf8714" stroke-width="7"/><path d="M88 78h0M103 127h0M184 145h0M154 161h0M228 163h0M186 176h0M214 190h0M226 191h0M44 256h0M190 257h0M48 276h0M100 292h0M108 305h0M131 304h0M203 308h0M249 324h0M265 323h0" stroke="#bf8714" stroke-width="15" stroke-linecap="round"/><path d="M139 161l-10 14M222 176l-8 14M214 285l13 1M214 285l-11 23M53 301l18 5M71 306l20 0" stroke="#217f9e" stroke-width="7"/><path d="M78 159h0M139 161h0M222 176h0M214 285h0M53 301h0M71 306h0M275 305h0" stroke="#217f9e" stroke-width="15" stroke-linecap="round"/><rect x="26" y="100" width="250" height="230" stroke="#aaa" stroke-width="4"/></g>
<g transform="translate(181.6,135.5) scale(0.1)" fill="none"><rect x="26" y="100" width="250" height="230" fill="#fbeed2"/><path d="M62 64h250v230h-250zM26 100l36 -36M276 100l36 -36M276 330l36 -36M26 330l36 -36" stroke="#a8a8a8" stroke-width="4"/><path d="M46 102l-12 9M46 102l9 12M55 114l20 1M55 114l-9 14M75 115l-10 14M75 115l5 13M111 113l-11 15M126 106l-7 21M220 114l-14 15M220 114l12 15M237 146l10 17M59 160l-8 15M91 177l-10 15M163 178l-10 17M163 178l14 16M64 189l17 3M137 194l16 1M137 194l-9 12M153 195l24 -1M128 206l-8 15M128 206l7 16M43 225l18 -1M103 226l17 -5M120 221l-8 21M120 221l6 20M154 224l7 16M126 241l-7 15M80 256l-5 19M80 256l11 13M137 257l18 3M137 257l-7 19M137 257l10 16M172 256l-4 20M215 258l15 -2M215 258l-16 13M52 269l23 6M52 269l-7 22M157 285l-12 22M157 285l8 15M71 307l-6 15M165 300l-9 20M165 300l11 18M183 308l14 -2M183 308l11 11" stroke="#2893b3" stroke-width="7"/><path d="M46 102h0M55 114h0M75 115h0M111 113h0M126 106h0M220 114h0M46 128h0M119 127h0M152 129h0M268 130h0M94 149h0M237 146h0M59 160h0M231 159h0M91 177h0M148 175h0M163 178h0M258 176h0M64 189h0M137 194h0M153 195h0M128 206h0M43 225h0M103 226h0M120 221h0M135 222h0M154 224h0M270 223h0M126 241h0M181 240h0M197 238h0M80 256h0M137 257h0M172 256h0M215 258h0M52 269h0M91 269h0M238 275h0M157 285h0M37 306h0M71 307h0M145 307h0M165 300h0M183 308h0M176 318h0M246 321h0" stroke="#2893b3" stroke-width="15" stroke-linecap="round"/><path d="M167 109l17 2M167 109l-15 20M167 109l8 12M241 115l-9 14M241 115l9 13M65 129l15 -1M100 128l19 -1M232 129l5 17M143 145l11 18M223 145l-10 11M44 160l15 0M44 160l-6 15M137 159l17 4M137 159l11 16M191 164l22 -8M191 164l-6 12M213 156l18 3M213 156l-11 21M38 175l13 0M38 175l7 20M51 175l23 2M51 175l13 14M74 177l17 0M74 177l-10 12M128 175l-10 15M128 175l9 19M185 176l17 1M202 177l7 14M45 195l-8 12M81 192l13 13M104 191l-10 14M104 191l0 15M194 198l15 -7M209 191l25 -2M68 209l26 -4M68 209l-7 15M104 206l-1 20M104 206l16 15M83 228l-10 11M172 223l23 0M195 223l12 1M195 223l-14 17M195 223l2 15M229 223l-9 16M112 242l7 14M220 239l-5 19M220 239l10 17M275 240l20 -4M59 255l21 1M59 255l16 20M103 260l16 -4M155 260l17 -4M230 256l19 -1M230 256l-7 14M230 256l8 19M40 271l12 -2M147 273l21 3M147 273l10 12M168 276l-11 9M223 270l15 5M223 270l5 15M276 272l-10 16M121 289l7 15M228 285l11 17M51 303l-5 17M197 306l-3 13M197 306l15 12M239 302l15 3M239 302l7 19M254 305l-8 16M46 320l19 2M136 321l20 -1" stroke="#eba21c" stroke-width="7"/><path d="M167 109h0M241 115h0M275 112h0M65 129h0M100 128h0M232 129h0M143 145h0M223 145h0M44 160h0M137 159h0M154 163h0M191 164h0M213 156h0M268 158h0M38 175h0M51 175h0M74 177h0M128 175h0M185 176h0M202 177h0M45 195h0M81 192h0M104 191h0M118 190h0M194 198h0M209 191h0M234 189h0M264 190h0M37 207h0M68 209h0M104 206h0M163 210h0M83 228h0M172 223h0M195 223h0M229 223h0M112 242h0M220 239h0M275 240h0M59 255h0M103 260h0M155 260h0M230 256h0M249 255h0M40 271h0M75 275h0M130 276h0M147 273h0M168 276h0M223 270h0M276 272h0M121 289h0M228 285h0M51 303h0M197 306h0M239 302h0M254 305h0M46 320h0M65 322h0M136 321h0M156 320h0M194 319h0M212 318h0" stroke="#eba21c" stroke-width="15" stroke-linecap="round"/><path d="M184 111l15 0M199 111l21 3M199 111l7 18M259 111l16 1M259 111l-9 17M259 111l9 19M256 145l20 1M247 163l21 -5M247 163l11 13M177 194l17 4M177 194l-14 16M255 209l15 14M61 224l12 15M207 224l22 -1M207 224l13 15M73 239l-14 16M161 240l20 0M161 240l-6 20M119 256l11 20M214 289l14 -4M214 289l-17 17M266 288l-12 17" stroke="#bf8714" stroke-width="7"/><path d="M34 111h0M184 111h0M199 111h0M259 111h0M175 121h0M127 147h0M256 145h0M247 163h0M177 194h0M255 209h0M61 224h0M207 224h0M73 239h0M161 240h0M119 256h0M214 289h0M266 288h0" stroke="#bf8714" stroke-width="15" stroke-linecap="round"/><path d="M80 128l20 0M80 128l-7 20M80 128l14 21M206 129l17 16M250 128l18 2M250 128l6 17M73 148l-14 12M276 146l-8 12M94 205l-11 23M191 258l8 13M45 291l-8 15M128 304l17 3" stroke="#217f9e" stroke-width="7"/><path d="M147 110h0M80 128h0M206 129h0M250 128h0M73 148h0M276 146h0M174 158h0M94 205h0M295 236h0M191 258h0M199 271h0M45 291h0M128 304h0M120 323h0" stroke="#217f9e" stroke-width="15" stroke-linecap="round"/><rect x="26" y="100" width="250" height="230" stroke="#aaa" stroke-width="4"/></g>
<g transform="translate(38.0,171.39999999999998) scale(0.1)" fill="none"><rect x="26" y="100" width="250" height="230" fill="#d4ecf2"/><path d="M62 64h250v230h-250zM26 100l36 -36M276 100l36 -36M276 330l36 -36M26 330l36 -36" stroke="#a8a8a8" stroke-width="4"/><path d="M96 64l-4 16M92 80l9 15M126 79l20 0M63 94l-8 23M285 95l-10 19M73 112l16 3M73 112l8 17M89 115l17 -4M89 115l-8 14M106 111l-6 21M106 111l13 21M146 109l16 7M146 109l-9 23M162 116l22 -4M162 116l-7 15M184 112l17 1M184 112l7 15M219 115l22 -3M219 115l14 13M241 112l18 0M241 112l-8 16M44 127l19 1M44 127l-12 14M44 127l10 21M63 128l18 1M63 128l-9 20M63 128l7 16M137 132l18 -1M137 132l-7 12M155 131l19 1M155 131l-7 17M155 131l5 10M174 132l-14 9M191 127l21 -1M191 127l11 17M233 128l-9 19M233 128l6 16M249 130l19 -3M249 130l-10 14M249 130l10 15M70 144l-4 16M70 144l10 14M91 147l5 12M111 143l19 1M111 143l-15 16M111 143l4 17M148 148l12 -7M148 148l-10 11M148 148l6 12M160 141l-6 19M160 141l15 18M202 144l22 3M202 144l-6 14M202 144l8 15M224 147l15 -3M224 147l-14 12M224 147l5 14M259 145l16 1M259 145l-10 14M259 145l11 11M275 146l-5 10M275 146l11 14M48 164l18 -4M48 164l-12 12M48 164l5 11M66 160l-13 15M66 160l5 17M80 158l16 1M80 158l-9 19M80 158l13 19M96 159l19 1M96 159l-3 18M115 160l23 -1M115 160l-7 17M115 160l15 12M138 159l16 1M138 159l9 16M154 160l11 13M196 158l-15 18M196 158l5 17M210 159l-9 16M210 159l8 18M229 161l20 -2M229 161l-11 16M229 161l12 13M249 159l-8 15M249 159l9 16M53 175l18 2M53 175l-7 22M53 175l8 16M71 177l22 0M71 177l-10 14M71 177l7 15M93 177l15 0M93 177l3 14M108 177l22 -5M108 177l-12 14M108 177l13 16M130 172l17 3M130 172l9 20M147 175l18 -2M147 175l-8 17M147 175l10 17M165 173l-8 19M165 173l6 20M181 176l20 -1M181 176l11 14M201 175l17 2M201 175l-9 15M201 175l8 20M218 177l23 -3M218 177l-9 18M218 177l8 13M241 174l17 1M241 174l8 19M258 175l-9 18M258 175l9 14M61 191l17 1M61 191l-9 18M61 191l11 15M78 192l14 17M96 191l25 2M96 191l-4 18M121 193l18 -1M139 192l18 0M139 192l-11 16M139 192l8 14M157 192l14 1M157 192l-10 14M171 193l21 -3M171 193l10 18M209 195l17 -5M209 195l15 16M226 190l23 3M226 190l17 16M287 192l19 0M287 192l-12 17M29 208l16 20M52 209l20 -3M52 209l11 12M72 206l-9 15M72 206l10 22M128 208l19 -2M128 208l10 16M147 206l-9 18M147 206l7 22M181 211l21 -1M181 211l-4 13M243 206l18 1M243 206l-14 17M243 206l6 17M261 207l14 2M45 228l-12 17M45 228l9 15M82 228l22 -4M82 228l-10 13M104 224l5 14M138 224l16 4M138 224l-9 18M138 224l11 14M209 222l-8 20M33 245l21 -2M54 243l18 -2M54 243l-10 14M54 243l6 14M72 241l17 -2M72 241l-12 16M72 241l10 14M89 239l-7 16M89 239l12 19M109 238l20 4M109 238l10 17M129 242l-10 13M129 242l10 13M149 238l14 2M149 238l-10 17M149 238l7 18M163 240l-7 16M201 242l19 -2M220 240l16 -1M220 240l-9 17M236 239l23 3M236 239l-8 17M236 239l13 13M259 242l13 -1M259 242l6 13M272 241l-7 14M60 257l22 -2M60 257l-3 19M60 257l11 13M82 255l-11 15M101 258l18 -3M119 255l-8 18M139 255l-11 16M139 255l6 17M156 256l18 -4M156 256l9 10M174 252l-9 14M174 252l10 21M249 252l16 3M265 255l-8 18M265 255l6 14M37 273l20 3M37 273l-5 15M37 273l11 14M71 270l-11 19M71 270l13 17M89 271l13 18M111 273l17 -2M111 273l7 16M128 271l17 1M128 271l-10 18M145 272l20 -6M145 272l-8 15M145 272l11 17M184 273l16 2M184 273l10 14M200 275l22 -1M200 275l-6 12M200 275l12 11M222 274l-10 12M257 273l-10 15M32 288l16 -1M32 288l1 16M48 287l12 2M48 287l9 16M84 287l18 2M118 289l19 -2M118 289l8 16M137 287l19 2M137 287l-11 18M156 289l-9 19M156 289l11 12M172 283l-5 18M172 283l13 22M194 287l-9 18M194 287l8 15M212 286l-10 16M212 286l12 22M247 288l20 -4M247 288l-8 14M247 288l8 14M267 284l-12 18M33 304l24 -1M33 304l-6 17M33 304l12 17M57 303l15 3M57 303l-12 18M72 306l14 -3M72 306l-11 15M72 306l7 17M86 303l-7 20M86 303l13 15M109 299l17 6M109 299l-10 19M126 305l21 3M126 305l-6 17M126 305l11 12M167 301l-14 20M202 302l22 6M202 302l7 21M224 308l15 -6M224 308l-15 15M255 302l10 16M27 321l18 0M61 321l18 2M179 321l14 1M193 322l16 1M228 320l18 -2" stroke="#2893b3" stroke-width="6.5"/><path d="M96 64h0M92 80h0M126 79h0M220 79h0M63 94h0M101 95h0M285 95h0M36 117h0M73 112h0M89 115h0M106 111h0M146 109h0M162 116h0M184 112h0M219 115h0M241 112h0M44 127h0M63 128h0M137 132h0M155 131h0M174 132h0M191 127h0M233 128h0M249 130h0M70 144h0M91 147h0M111 143h0M148 148h0M160 141h0M202 144h0M224 147h0M259 145h0M275 146h0M48 164h0M66 160h0M80 158h0M96 159h0M115 160h0M138 159h0M154 160h0M196 158h0M210 159h0M229 161h0M249 159h0M286 160h0M53 175h0M71 177h0M93 177h0M108 177h0M130 172h0M147 175h0M165 173h0M181 176h0M201 175h0M218 177h0M241 174h0M258 175h0M61 191h0M78 192h0M96 191h0M121 193h0M139 192h0M157 192h0M171 193h0M209 195h0M226 190h0M287 192h0M306 192h0M29 208h0M52 209h0M72 206h0M128 208h0M147 206h0M181 211h0M243 206h0M261 207h0M45 228h0M82 228h0M104 224h0M138 224h0M177 224h0M209 222h0M249 223h0M33 245h0M54 243h0M72 241h0M89 239h0M109 238h0M129 242h0M149 238h0M163 240h0M201 242h0M220 240h0M236 239h0M259 242h0M272 241h0M26 253h0M60 257h0M82 255h0M101 258h0M119 255h0M139 255h0M156 256h0M174 252h0M249 252h0M265 255h0M37 273h0M71 270h0M89 271h0M111 273h0M128 271h0M145 272h0M184 273h0M200 275h0M222 274h0M257 273h0M310 274h0M32 288h0M48 287h0M60 289h0M84 287h0M118 289h0M137 287h0M156 289h0M172 283h0M194 287h0M212 286h0M247 288h0M267 284h0M33 304h0M57 303h0M72 306h0M86 303h0M109 299h0M126 305h0M167 301h0M202 302h0M224 308h0M255 302h0M27 321h0M45 321h0M61 321h0M99 318h0M120 322h0M137 317h0M153 321h0M179 321h0M193 322h0M209 323h0M228 320h0M246 318h0M265 318h0" stroke="#2893b3" stroke-width="11" stroke-linecap="round"/><path d="M154 63l-8 16M45 94l-9 23M45 94l10 23M158 96l-12 13M55 117l-11 10M127 113l19 -4M127 113l-8 19M127 113l10 19M201 113l18 2M201 113l-10 14M201 113l11 13M259 112l16 2M259 112l-10 18M259 112l9 15M275 114l-7 13M81 129l19 3M81 129l-11 15M81 129l10 18M100 132l19 0M100 132l-9 15M100 132l11 11M119 132l-8 11M119 132l11 12M212 126l21 2M212 126l-10 18M212 126l12 21M268 127l-9 18M268 127l7 19M32 141l16 23M54 148l16 -4M130 144l18 4M130 144l-15 16M130 144l8 15M175 159l21 -1M175 159l-10 14M270 156l16 4M46 197l15 -6M46 197l-17 11M46 197l6 12M192 190l10 20M249 193l18 -4M249 193l12 14M267 189l20 3M267 189l-6 18M267 189l8 20M92 209l15 1M92 209l-10 19M92 209l12 15M107 210l21 -2M107 210l-3 14M202 210l22 1M202 210l-11 13M202 210l7 12M224 211l19 -5M224 211l5 12M275 209l5 16M63 221l-9 22M63 221l9 20M154 228l-5 10M191 223l18 -1M191 223l-6 15M191 223l10 19M229 223l20 0M229 223l-9 17M229 223l7 16M265 223l15 2M265 223l-6 19M280 225l26 -2M185 238l-11 14M44 257l16 0M44 257l-7 16M44 257l13 19M211 257l17 -1M211 257l-11 18M228 256l21 -4M228 256l-6 18M304 258l6 16M57 276l14 -6M57 276l-9 11M57 276l3 13M165 266l19 7M165 266l7 17M271 269l-4 15M102 289l16 0M102 289l-16 14M102 289l7 10M147 308l20 -7M147 308l-10 9M185 305l17 -3M185 305l-6 16M185 305l8 17M239 302l-11 18M239 302l7 16M79 323l20 -5" stroke="#217f9e" stroke-width="6.5"/><path d="M154 63h0M302 62h0M146 79h0M258 84h0M45 94h0M158 96h0M305 94h0M55 117h0M127 113h0M201 113h0M259 112h0M275 114h0M312 113h0M81 129h0M100 132h0M119 132h0M212 126h0M268 127h0M32 141h0M54 148h0M130 144h0M239 144h0M175 159h0M270 156h0M36 176h0M46 197h0M192 190h0M249 193h0M267 189h0M92 209h0M107 210h0M202 210h0M224 211h0M275 209h0M63 221h0M154 228h0M191 223h0M229 223h0M265 223h0M280 225h0M306 223h0M185 238h0M44 257h0M211 257h0M228 256h0M304 258h0M57 276h0M165 266h0M271 269h0M102 289h0M147 308h0M185 305h0M239 302h0M79 323h0" stroke="#217f9e" stroke-width="11" stroke-linecap="round"/><rect x="26" y="100" width="250" height="230" stroke="#aaa" stroke-width="4"/></g>
<g transform="translate(73.9,171.39999999999998) scale(0.1)" fill="none"><rect x="26" y="100" width="250" height="230" fill="#d4ecf2"/><path d="M62 64h250v230h-250zM26 100l36 -36M276 100l36 -36M276 330l36 -36M26 330l36 -36" stroke="#a8a8a8" stroke-width="4"/><path d="M99 64l-9 16M90 80l-10 14M43 100l-9 11M43 100l12 8M34 111l21 -3M34 111l4 20M55 108l20 5M55 108l-17 23M55 108l4 19M75 113l14 1M75 113l-16 14M89 114l-11 13M89 114l10 13M103 109l19 16M144 109l-8 20M144 109l11 18M165 112l-10 15M165 112l13 18M182 110l23 0M182 110l-4 20M182 110l9 19M217 111l25 3M217 111l-8 18M217 111l9 19M242 114l15 -5M242 114l-16 16M242 114l7 15M257 109l-8 20M257 109l10 20M38 131l-5 12M38 131l14 12M59 127l19 0M59 127l-7 16M78 127l21 0M78 127l-6 19M78 127l15 18M155 127l23 3M155 127l14 16M191 129l8 13M209 129l17 1M209 129l-10 13M226 130l23 -1M226 130l-6 16M226 130l12 13M249 129l-11 14M249 129l5 19M267 129l16 -1M267 129l-13 19M267 129l6 18M283 128l-10 19M283 128l10 19M33 143l19 0M33 143l-4 16M52 143l20 3M52 143l-5 17M52 143l9 19M72 146l21 -1M72 146l12 14M108 146l22 -4M108 146l-8 16M108 146l14 11M199 142l-4 15M220 146l18 -3M220 146l-10 11M220 146l9 18M254 148l19 -1M254 148l-8 11M254 148l11 13M273 147l20 0M273 147l-8 14M29 159l18 1M47 160l14 2M47 160l-9 16M47 160l5 16M61 162l23 -2M61 162l-9 14M61 162l13 12M84 160l16 2M84 160l7 15M154 161l20 0M154 161l-10 13M154 161l8 10M174 161l21 -4M210 157l19 7M229 164l9 10M246 159l19 2M246 159l-8 15M265 161l7 13M38 176l14 0M38 176l-12 15M52 176l22 -2M52 176l-9 14M74 174l17 1M74 174l-14 19M74 174l12 15M91 175l12 19M112 171l13 8M112 171l-9 23M112 171l5 19M125 179l19 -5M125 179l-8 11M144 174l18 -3M144 174l-6 17M144 174l11 17M162 171l21 7M183 178l19 -5M183 178l-5 11M183 178l10 18M202 173l-9 23M202 173l9 24M219 180l19 -6M219 180l11 13M238 174l21 1M238 174l-8 19M238 174l12 17M259 175l-9 16M259 175l8 18M26 191l8 19M43 190l-9 20M43 190l14 17M60 193l26 -4M103 194l14 -4M103 194l-12 15M103 194l6 15M117 190l21 1M117 190l-8 19M155 191l23 -2M178 189l15 7M178 189l-12 25M178 189l4 22M193 196l18 1M193 196l-11 15M211 197l11 6M230 193l20 -2M230 193l-8 10M230 193l12 17M267 193l-8 16M34 210l23 -3M34 210l-8 12M57 207l-15 14M73 207l18 2M73 207l-11 17M73 207l13 17M91 209l18 0M91 209l-5 15M109 209l18 2M109 209l10 15M127 211l-8 13M182 211l26 -3M182 211l-8 10M182 211l9 15M208 208l14 -5M222 203l20 7M222 203l-9 21M222 203l10 23M242 210l3 12M259 209l8 13M26 222l16 -1M26 222l9 15M86 224l16 1M102 225l17 -1M102 225l9 11M119 224l20 1M119 224l-8 12M153 226l-3 13M174 221l17 5M174 221l-7 16M174 221l6 17M191 226l22 -2M191 226l-11 12M191 226l12 15M213 224l-10 17M213 224l9 12M232 226l13 -4M232 226l-10 10M245 222l22 0M245 222l-2 17M245 222l18 19M267 222l17 3M267 222l5 18M284 225l-12 15M53 243l19 -5M53 243l-11 14M72 238l16 5M72 238l-6 18M72 238l8 17M88 243l23 -7M88 243l-8 12M88 243l13 13M125 242l25 -3M125 242l-5 17M150 239l17 -2M150 239l5 21M167 237l13 1M167 237l-12 23M167 237l7 19M180 238l23 3M180 238l12 20M203 241l-11 17M203 241l9 13M222 236l21 3M222 236l-10 18M222 236l10 21M243 239l20 2M243 239l-11 18M243 239l8 18M272 240l-6 14M26 256l16 1M26 256l10 15M42 257l24 -1M42 257l-6 14M66 256l14 -1M80 255l-12 19M80 255l9 17M120 259l16 -3M120 259l6 14M155 260l19 -4M155 260l-12 10M155 260l9 14M174 256l18 2M174 256l-10 18M174 256l7 21M192 258l-11 19M192 258l9 16M232 257l4 13M251 257l15 -3M251 257l-15 13M251 257l3 14M266 254l-12 17M266 254l8 22M36 271l16 4M36 271l5 15M52 275l16 -1M52 275l-11 11M68 274l21 -2M68 274l-9 15M89 272l19 1M89 272l-6 14M89 272l14 17M108 273l18 0M108 273l-5 16M108 273l9 17M143 270l21 4M164 274l17 3M181 277l20 -3M181 277l-7 12M181 277l16 11M254 271l-8 15M41 286l18 3M41 286l-9 20M41 286l14 17M59 289l24 -3M59 289l-4 14M59 289l15 20M83 286l-9 23M83 286l9 17M103 289l14 1M103 289l7 13M140 291l4 16M174 289l23 -1M174 289l11 18M197 288l12 -2M197 288l-12 19M197 288l1 18M209 286l-11 20M209 286l14 23M228 284l18 2M228 284l-5 25M228 284l12 22M92 303l18 -1M92 303l-14 20M92 303l7 18M110 302l-11 19M110 302l9 15M132 302l-13 15M132 302l1 16M144 307l20 -5M185 307l13 -1M198 306l0 15M240 306l-10 17M240 306l7 16M258 306l-11 16M60 318l18 5M99 321l20 -4M119 317l14 1M133 318l27 2M160 320l15 -2" stroke="#2893b3" stroke-width="6.5"/><path d="M66 68h0M99 64h0M140 68h0M190 67h0M227 62h0M90 80h0M186 85h0M43 100h0M80 94h0M34 111h0M55 108h0M75 113h0M89 114h0M103 109h0M144 109h0M165 112h0M182 110h0M205 110h0M217 111h0M242 114h0M257 109h0M312 111h0M38 131h0M59 127h0M78 127h0M136 129h0M155 127h0M191 129h0M209 129h0M226 130h0M249 129h0M267 129h0M283 128h0M33 143h0M52 143h0M72 146h0M108 146h0M199 142h0M220 146h0M238 143h0M254 148h0M273 147h0M293 147h0M29 159h0M47 160h0M61 162h0M84 160h0M154 161h0M174 161h0M210 157h0M229 164h0M246 159h0M265 161h0M38 176h0M52 176h0M74 174h0M91 175h0M112 171h0M125 179h0M144 174h0M162 171h0M183 178h0M202 173h0M219 180h0M238 174h0M259 175h0M272 174h0M26 191h0M43 190h0M60 193h0M103 194h0M117 190h0M155 191h0M178 189h0M193 196h0M211 197h0M230 193h0M267 193h0M301 192h0M34 210h0M57 207h0M73 207h0M91 209h0M109 209h0M127 211h0M182 211h0M208 208h0M222 203h0M242 210h0M259 209h0M26 222h0M86 224h0M102 225h0M119 224h0M153 226h0M174 221h0M191 226h0M213 224h0M232 226h0M245 222h0M267 222h0M284 225h0M53 243h0M72 238h0M88 243h0M125 242h0M150 239h0M167 237h0M180 238h0M203 241h0M222 236h0M243 239h0M272 240h0M26 256h0M42 257h0M66 256h0M80 255h0M120 259h0M155 260h0M174 256h0M192 258h0M232 257h0M251 257h0M266 254h0M303 257h0M36 271h0M52 275h0M68 274h0M89 272h0M108 273h0M143 270h0M164 274h0M181 277h0M254 271h0M41 286h0M59 289h0M83 286h0M103 289h0M140 291h0M174 289h0M197 288h0M209 286h0M228 284h0M266 285h0M92 303h0M110 302h0M132 302h0M144 307h0M185 307h0M198 306h0M240 306h0M258 306h0M46 322h0M60 318h0M99 321h0M119 317h0M133 318h0M160 320h0M175 318h0M198 321h0M208 319h0M247 322h0" stroke="#2893b3" stroke-width="11" stroke-linecap="round"/><path d="M118 100l21 1M139 101l-10 14M129 115l15 -6M129 115l7 14M276 118l-9 11M276 118l7 10M99 127l23 -2M99 127l-6 18M122 125l-14 21M122 125l8 17M178 130l13 -1M93 145l15 1M93 145l-9 15M130 142l-8 15M169 143l5 18M183 146l16 -4M183 146l-9 15M100 162l22 -5M100 162l-9 13M100 162l12 9M122 157l17 8M122 157l-10 14M139 165l15 -4M139 165l5 9M195 157l15 0M195 157l-12 21M195 157l7 16M86 189l17 5M86 189l5 20M138 191l17 0M138 191l-11 20M250 191l17 2M250 191l9 18M166 214l16 -3M166 214l-13 12M166 214l8 7M42 221l-7 16M62 224l24 0M62 224l10 14M139 225l14 1M139 225l-14 17M139 225l11 14M35 237l7 20M111 236l14 6M111 236l-10 20M111 236l9 23M263 241l9 -1M101 256l19 3M101 256l7 17M136 256l19 4M136 256l7 14M212 254l20 3M212 254l-11 20M126 273l17 -3M126 273l-9 17M126 273l14 18M201 274l-4 14M201 274l8 12M236 270l18 1M236 270l-8 14M236 270l10 16M274 276l-8 9M117 290l23 1M117 290l-7 12M117 290l15 12M246 286l-6 20M246 286l12 20M32 306l23 -3M32 306l14 16M55 303l19 6M55 303l-9 19M55 303l5 15M74 309l18 -6M74 309l-14 9M74 309l4 14M164 302l21 5M164 302l-4 18M164 302l11 16M223 309l-15 10M223 309l7 14M78 323l21 -2M230 323l17 -1" stroke="#217f9e" stroke-width="6.5"/><path d="M268 64h0M118 100h0M139 101h0M129 115h0M276 118h0M99 127h0M122 125h0M178 130h0M93 145h0M130 142h0M169 143h0M183 146h0M100 162h0M122 157h0M139 165h0M195 157h0M86 189h0M138 191h0M250 191h0M284 193h0M166 214h0M42 221h0M62 224h0M139 225h0M35 237h0M111 236h0M263 241h0M101 256h0M136 256h0M212 254h0M126 273h0M201 274h0M236 270h0M274 276h0M117 290h0M246 286h0M32 306h0M55 303h0M74 309h0M164 302h0M223 309h0M78 323h0M230 323h0" stroke="#217f9e" stroke-width="11" stroke-linecap="round"/><rect x="26" y="100" width="250" height="230" stroke="#aaa" stroke-width="4"/></g>
<g transform="translate(109.8,171.39999999999998) scale(0.1)" fill="none"><rect x="26" y="100" width="250" height="230" fill="#d4ecf2"/><path d="M62 64h250v230h-250zM26 100l36 -36M276 100l36 -36M276 330l36 -36M26 330l36 -36" stroke="#a8a8a8" stroke-width="4"/><path d="M200 79l13 14M223 82l-10 11M62 100l22 -2M62 100l10 13M84 98l-12 15M176 95l19 1M176 95l-12 14M195 96l-13 15M195 96l6 16M265 98l10 16M285 98l-10 16M285 98l5 16M38 117l13 -4M38 117l7 11M51 113l14 18M72 113l-7 18M72 113l13 16M86 113l21 0M86 113l-1 16M86 113l12 18M129 114l17 -1M129 114l8 15M164 109l18 2M164 109l-10 20M164 109l12 19M182 111l19 1M182 111l-6 17M182 111l9 19M201 112l20 2M201 112l-10 18M201 112l10 14M221 114l-10 12M243 110l15 3M243 110l-15 22M243 110l5 19M275 114l15 0M275 114l-9 14M65 131l20 -2M65 131l5 11M98 131l17 -3M98 131l-5 13M98 131l13 14M115 128l15 17M137 129l3 18M176 128l15 2M176 128l-14 20M176 128l8 15M191 130l20 -4M191 130l-7 13M191 130l10 12M211 126l17 6M211 126l-10 16M228 132l20 -3M228 132l-7 13M228 132l8 8M248 129l18 -1M248 129l12 16M266 128l-6 17M34 140l22 4M34 140l12 19M56 144l14 -2M56 144l-10 15M70 142l23 2M70 142l-10 17M70 142l16 18M93 144l-7 16M93 144l3 19M111 145l19 0M111 145l-15 18M111 145l10 13M130 145l10 2M130 145l-9 13M130 145l7 15M162 148l22 -5M162 148l-8 12M162 148l9 13M184 143l17 -1M201 142l20 3M201 142l-6 16M201 142l12 20M273 146l-5 15M46 159l14 0M46 159l-10 16M46 159l7 18M60 159l26 1M60 159l13 23M86 160l10 3M86 160l-13 22M121 158l16 2M121 158l-10 17M121 158l7 15M137 160l17 0M154 160l17 1M154 160l9 18M171 161l24 -3M171 161l-8 17M171 161l11 16M195 158l18 4M195 158l-13 19M195 158l9 16M213 162l18 1M213 162l6 17M248 159l20 2M248 159l-9 17M36 175l-9 17M73 182l16 -7M73 182l-9 9M73 182l8 9M89 175l22 0M89 175l-8 16M111 175l17 -2M111 175l7 18M163 178l19 -1M163 178l-7 17M163 178l14 14M182 177l22 -3M182 177l-5 15M182 177l15 19M239 176l20 -2M239 176l-10 16M259 174l17 -1M259 174l-10 19M259 174l7 19M276 173l-10 20M27 192l8 15M47 190l17 1M47 190l-12 17M64 191l17 0M64 191l-8 21M81 191l-12 21M118 193l21 2M118 193l-9 14M118 193l8 13M139 195l5 12M156 195l11 13M177 192l20 4M177 192l11 16M210 192l19 0M210 192l-10 16M210 192l14 15M229 192l20 1M229 192l-5 15M229 192l10 18M266 193l-10 16M266 193l9 15M35 207l9 14M56 212l13 0M56 212l-12 9M69 212l20 -2M69 212l15 9M109 207l7 15M126 206l12 16M144 207l23 1M144 207l11 17M167 208l21 0M167 208l8 13M200 208l24 -1M200 208l-9 16M224 207l15 3M224 207l4 19M239 210l17 -1M239 210l-11 16M239 210l9 14M256 209l19 -1M256 209l-8 15M256 209l14 13M44 221l18 2M44 221l-6 20M44 221l4 20M62 223l22 -2M62 223l-14 18M62 223l10 14M116 222l22 0M116 222l-9 23M116 222l14 22M155 224l-5 13M155 224l14 14M175 221l16 3M175 221l-6 17M248 224l22 -2M248 224l-9 15M248 224l9 15M270 222l-13 17M38 241l10 0M38 241l-11 17M38 241l9 17M48 241l24 -4M48 241l-1 17M48 241l15 15M72 237l-9 19M92 239l15 6M92 239l-11 17M92 239l5 15M107 245l23 -1M107 245l-10 9M130 244l20 -7M130 244l8 14M181 241l20 3M181 241l-9 11M201 244l9 9M219 242l20 -3M219 242l-9 11M239 239l18 0M239 239l10 20M257 239l-8 20M257 239l8 19M27 258l20 0M47 258l-16 18M47 258l9 16M63 256l18 0M81 256l16 -2M97 254l19 5M97 254l-5 22M116 259l22 -1M116 259l14 13M138 258l17 -1M138 258l-8 14M138 258l10 16M172 252l9 20M210 253l21 5M210 253l-9 21M210 253l14 20M265 258l20 -3M265 258l-8 13M285 255l16 1M31 276l25 -2M31 276l-1 13M31 276l14 10M56 274l20 0M56 274l-11 12M56 274l10 16M76 274l16 2M76 274l-10 16M76 274l8 13M92 276l16 -7M92 276l-8 11M130 272l18 2M130 272l-11 11M130 272l8 14M148 274l-10 12M148 274l11 17M163 272l7 17M181 272l20 2M181 272l-11 17M181 272l11 18M201 274l23 -1M201 274l7 11M238 273l-7 11M238 273l10 16M257 271l-9 18M257 271l11 18M30 289l15 -3M30 289l10 17M45 286l-5 20M45 286l9 16M66 290l1 14M84 287l5 18M119 283l19 3M119 283l8 20M138 286l21 5M138 286l-11 17M138 286l9 17M159 291l6 12M170 289l22 1M170 289l-5 14M170 289l14 12M192 290l16 -5M192 290l10 16M208 285l23 -1M208 285l14 20M231 284l11 21M248 289l20 0M248 289l-6 16M268 289l3 11M303 287l-13 17M54 302l-7 19M54 302l6 16M127 303l20 0M127 303l12 15M147 303l18 0M147 303l-8 15M147 303l10 19M184 301l18 5M184 301l-10 18M184 301l12 18M222 305l20 0M222 305l-13 12M263 303l8 -3M263 303l-17 20M263 303l4 19M271 300l-4 22M47 321l13 -3M85 324l14 -2M139 318l18 4M174 319l22 0" stroke="#2893b3" stroke-width="6.5"/><path d="M67 63h0M97 66h0M175 68h0M200 79h0M223 82h0M62 100h0M84 98h0M176 95h0M195 96h0M265 98h0M285 98h0M38 117h0M51 113h0M72 113h0M86 113h0M129 114h0M164 109h0M182 111h0M201 112h0M221 114h0M243 110h0M275 114h0M65 131h0M98 131h0M115 128h0M137 129h0M176 128h0M191 130h0M211 126h0M228 132h0M248 129h0M266 128h0M34 140h0M56 144h0M70 142h0M93 144h0M111 145h0M130 145h0M162 148h0M184 143h0M201 142h0M273 146h0M46 159h0M60 159h0M86 160h0M121 158h0M137 160h0M154 160h0M171 161h0M195 158h0M213 162h0M248 159h0M36 175h0M73 182h0M89 175h0M111 175h0M143 178h0M163 178h0M182 177h0M239 176h0M259 174h0M276 173h0M27 192h0M47 190h0M64 191h0M81 191h0M118 193h0M139 195h0M156 195h0M177 192h0M210 192h0M229 192h0M266 193h0M35 207h0M56 212h0M69 212h0M109 207h0M126 206h0M144 207h0M167 208h0M200 208h0M224 207h0M239 210h0M256 209h0M44 221h0M62 223h0M116 222h0M155 224h0M175 221h0M248 224h0M270 222h0M38 241h0M48 241h0M72 237h0M92 239h0M107 245h0M130 244h0M181 241h0M201 244h0M219 242h0M239 239h0M257 239h0M27 258h0M47 258h0M63 256h0M81 256h0M97 254h0M116 259h0M138 258h0M172 252h0M210 253h0M265 258h0M285 255h0M301 256h0M31 276h0M56 274h0M76 274h0M92 276h0M130 272h0M148 274h0M163 272h0M181 272h0M201 274h0M238 273h0M257 271h0M30 289h0M45 286h0M66 290h0M84 287h0M119 283h0M138 286h0M159 291h0M170 289h0M192 290h0M208 285h0M231 284h0M248 289h0M268 289h0M303 287h0M54 302h0M127 303h0M147 303h0M184 301h0M202 306h0M222 305h0M263 303h0M271 300h0M290 304h0M47 321h0M85 324h0M99 322h0M120 320h0M139 318h0M157 322h0M174 319h0M196 319h0M209 317h0M229 320h0M267 322h0" stroke="#2893b3" stroke-width="11" stroke-linecap="round"/><path d="M294 80l-9 18M213 93l-12 19M213 93l8 21M146 113l18 -4M258 113l17 1M258 113l8 15M45 128l20 3M45 128l11 16M85 129l13 2M85 129l-15 13M85 129l8 15M154 129l22 -1M154 129l8 19M140 147l22 1M140 147l14 13M221 145l15 -5M221 145l-8 17M221 145l10 18M236 140l-5 23M236 140l12 19M260 145l13 1M260 145l-12 14M260 145l8 16M312 138l-9 22M96 163l25 -5M231 163l-12 16M231 163l8 13M268 161l-9 13M268 161l8 12M53 177l-6 13M53 177l11 14M128 173l15 5M128 173l-10 20M204 174l15 5M204 174l6 18M219 179l-9 13M219 179l10 13M197 196l13 -4M249 193l17 0M249 193l7 16M89 210l20 -3M89 210l7 11M188 208l12 0M188 208l-13 13M188 208l3 16M84 221l12 0M84 221l-12 16M84 221l8 18M96 221l20 1M96 221l-4 18M138 222l17 2M138 222l-8 22M191 224l-10 17M191 224l10 20M228 226l20 -2M228 226l11 13M150 237l19 1M150 237l-12 21M150 237l5 20M169 238l12 3M169 238l-14 19M169 238l3 14M155 257l17 -5M155 257l-7 17M155 257l8 15M192 255l18 -2M192 255l-11 17M192 255l9 19M231 258l18 1M231 258l-7 15M231 258l7 15M249 259l16 -1M108 269l22 3M108 269l11 14M224 273l14 0M224 273l7 11M40 306l14 -4M40 306l-14 16M40 306l7 15M67 304l-7 14M67 304l18 20M89 305l18 1M89 305l-4 19M89 305l10 17M107 306l20 -3M107 306l-8 16M165 303l19 -2M165 303l-8 19M165 303l9 16M242 305l21 -2M242 305l-13 15M242 305l4 18M26 322l21 -1M246 323l21 -1" stroke="#217f9e" stroke-width="6.5"/><path d="M294 80h0M213 93h0M107 113h0M146 113h0M258 113h0M290 114h0M45 128h0M85 129h0M154 129h0M140 147h0M221 145h0M236 140h0M260 145h0M312 138h0M96 163h0M231 163h0M268 161h0M303 160h0M53 177h0M128 173h0M204 174h0M219 179h0M197 196h0M249 193h0M89 210h0M188 208h0M275 208h0M84 221h0M96 221h0M138 222h0M191 224h0M228 226h0M150 237h0M169 238h0M155 257h0M192 255h0M231 258h0M249 259h0M108 269h0M224 273h0M40 306h0M67 304h0M89 305h0M107 306h0M165 303h0M242 305h0M26 322h0M60 318h0M246 323h0" stroke="#217f9e" stroke-width="11" stroke-linecap="round"/><rect x="26" y="100" width="250" height="230" stroke="#aaa" stroke-width="4"/></g>
<g transform="translate(145.7,171.39999999999998) scale(0.1)" fill="none"><rect x="26" y="100" width="250" height="230" fill="#d4ecf2"/><path d="M62 64h250v230h-250zM26 100l36 -36M276 100l36 -36M276 330l36 -36M26 330l36 -36" stroke="#a8a8a8" stroke-width="4"/><path d="M146 81l6 12M218 82l10 14M276 81l16 0M276 81l-10 13M99 96l-9 14M99 96l5 14M175 103l17 -8M175 103l-11 13M228 96l-7 16M228 96l12 17M35 111l19 4M35 111l7 18M69 113l21 -3M69 113l-10 18M90 110l14 0M90 110l7 19M104 110l21 2M104 110l-7 19M125 112l-2 17M148 113l16 3M148 113l-11 18M164 116l18 -4M164 116l-12 12M164 116l11 11M182 112l-7 15M201 113l20 -1M201 113l-8 17M240 113l16 1M240 113l-13 12M240 113l6 14M256 114l19 -3M256 114l-10 13M256 114l9 20M42 129l17 2M42 129l-8 17M42 129l10 16M59 131l-7 14M59 131l16 16M97 129l26 0M97 129l-6 15M97 129l14 14M137 131l15 -3M137 131l-12 15M152 128l23 -1M152 128l-3 17M175 127l-11 15M175 127l7 16M193 130l-11 13M193 130l9 16M246 127l19 7M246 127l-10 17M246 127l14 16M265 134l7 12M34 146l18 -1M34 146l-10 17M34 146l15 19M52 145l23 2M52 145l-3 20M75 147l16 -3M75 147l-8 15M75 147l5 12M91 144l20 -1M91 144l-11 15M111 143l14 3M111 143l-9 18M111 143l6 17M125 146l24 -1M125 146l-8 14M125 146l10 15M149 145l15 -3M164 142l12 17M182 143l20 3M182 143l-6 16M182 143l14 12M202 146l-6 9M220 145l16 -1M220 145l-12 14M220 145l11 19M260 143l-10 18M272 146l26 0M272 146l-6 10M24 163l25 2M67 162l13 -3M67 162l4 11M102 161l15 -1M102 161l-12 14M102 161l8 15M117 160l18 1M117 160l-7 16M117 160l11 16M135 161l-7 15M135 161l10 15M155 163l-10 13M196 155l-13 20M196 155l7 21M208 159l23 5M208 159l-5 17M208 159l14 22M250 161l16 -5M250 161l-10 12M35 175l14 1M35 175l-8 16M35 175l9 20M71 173l-6 19M110 176l18 0M110 176l-10 13M128 176l17 0M145 176l20 2M145 176l-10 20M145 176l12 16M165 178l18 -3M183 175l20 1M203 176l19 5M203 176l11 17M222 181l18 -8M222 181l-8 12M222 181l6 12M240 173l15 4M240 173l-12 20M240 173l10 19M27 191l17 4M44 195l21 -3M44 195l-9 10M65 192l-12 18M65 192l9 14M81 193l19 -4M81 193l-7 13M81 193l11 17M100 189l-8 21M135 196l22 -4M135 196l-9 9M135 196l14 15M157 192l16 0M157 192l-8 19M157 192l6 10M173 192l21 1M173 192l12 15M194 193l20 0M194 193l-9 14M194 193l9 12M214 193l-11 12M214 193l7 18M250 192l8 18M265 190l-7 20M265 190l10 17M35 205l18 5M53 210l21 -4M53 210l-10 14M74 206l-9 21M74 206l11 17M126 205l-5 19M126 205l11 20M149 211l14 -9M149 211l-12 14M149 211l5 13M185 207l-10 13M185 207l6 16M203 205l18 6M203 205l-12 18M203 205l10 20M221 211l-8 14M221 211l8 12M239 210l-10 13M239 210l10 14M258 210l17 -3M275 207l-6 17M275 207l10 19M33 225l10 -1M43 224l22 3M65 227l20 -4M65 227l-9 14M85 223l17 1M85 223l-14 19M121 224l16 1M137 225l17 -1M137 225l10 15M154 224l21 -4M154 224l-7 16M154 224l13 18M191 223l22 2M191 223l11 21M213 225l16 -2M213 225l7 17M229 223l20 1M249 224l-10 14M249 224l5 17M56 241l15 1M56 241l5 14M71 242l6 14M87 243l21 1M87 243l-10 13M127 239l20 1M127 239l10 14M147 240l20 2M147 240l-10 13M147 240l8 17M167 242l15 -2M167 242l-12 15M167 242l8 14M182 240l20 4M182 240l-7 16M182 240l11 19M202 244l-9 15M220 242l-10 14M220 242l12 12M239 238l15 3M239 238l-7 16M48 253l13 2M48 253l4 18M61 255l16 1M61 255l9 18M99 253l14 0M99 253l-9 18M99 253l14 18M113 253l24 0M113 253l16 20M137 253l18 4M137 253l8 18M155 257l-10 14M175 256l18 3M232 254l-16 17M232 254l5 19M249 250l14 3M249 250l-12 23M249 250l7 22M35 273l17 -2M35 273l4 18M52 271l18 2M52 271l-13 20M52 271l11 19M70 273l20 -2M70 273l-7 17M70 273l12 15M90 271l-8 17M113 271l5 19M145 271l22 0M145 271l11 17M167 271l18 0M167 271l-11 17M167 271l7 13M185 271l-11 13M185 271l5 17M201 275l15 -4M201 275l11 15M216 271l21 2M216 271l-4 19M216 271l12 18M237 273l-9 16M237 273l8 16M39 291l-2 12M39 291l13 14M63 290l-11 15M63 290l10 15M82 288l21 3M118 290l18 -3M118 290l-10 15M136 287l20 1M136 287l-12 17M136 287l12 18M156 288l-8 17M174 284l-7 20M174 284l9 19M190 288l22 2M190 288l-7 15M212 290l16 -1M228 289l17 0M228 289l14 16M245 289l-3 16M245 289l8 17M37 303l15 2M52 305l21 0M52 305l-5 12M73 305l19 -1M73 305l-9 15M73 305l8 17M108 305l16 -1M108 305l-10 13M108 305l10 14M124 304l24 1M124 304l-6 15M124 304l12 18M148 305l19 -1M148 305l-12 17M148 305l5 18M167 304l16 -1M167 304l10 16M183 303l-6 17M222 304l20 1M222 304l-12 15M222 304l6 18M242 305l-14 17M242 305l7 18M253 306l22 -2M275 304l9 13M47 317l17 3M98 318l20 1M194 318l16 1M210 319l18 3M249 323l14 -3M263 320l21 -3" stroke="#2893b3" stroke-width="6.5"/><path d="M52 80h0M146 81h0M218 82h0M276 81h0M292 81h0M99 96h0M175 103h0M228 96h0M35 111h0M69 113h0M90 110h0M104 110h0M125 112h0M148 113h0M164 116h0M182 112h0M201 113h0M240 113h0M256 114h0M275 111h0M42 129h0M59 131h0M97 129h0M137 131h0M152 128h0M175 127h0M193 130h0M246 127h0M265 134h0M34 146h0M52 145h0M75 147h0M91 144h0M111 143h0M125 146h0M149 145h0M164 142h0M182 143h0M202 146h0M220 145h0M260 143h0M272 146h0M24 163h0M67 162h0M102 161h0M117 160h0M135 161h0M155 163h0M196 155h0M208 159h0M250 161h0M266 156h0M35 175h0M71 173h0M90 175h0M110 176h0M128 176h0M145 176h0M165 178h0M183 175h0M203 176h0M222 181h0M240 173h0M295 175h0M27 191h0M44 195h0M65 192h0M81 193h0M100 189h0M135 196h0M157 192h0M173 192h0M194 193h0M214 193h0M250 192h0M265 190h0M35 205h0M53 210h0M74 206h0M92 210h0M126 205h0M149 211h0M185 207h0M203 205h0M221 211h0M239 210h0M258 210h0M275 207h0M33 225h0M43 224h0M65 227h0M85 223h0M102 224h0M121 224h0M137 225h0M154 224h0M191 223h0M213 225h0M229 223h0M249 224h0M285 226h0M300 225h0M56 241h0M71 242h0M87 243h0M127 239h0M147 240h0M167 242h0M182 240h0M202 244h0M220 242h0M239 238h0M48 253h0M61 255h0M99 253h0M113 253h0M137 253h0M155 257h0M175 256h0M232 254h0M249 250h0M263 253h0M35 273h0M52 271h0M70 273h0M90 271h0M113 271h0M129 273h0M145 271h0M167 271h0M185 271h0M201 275h0M216 271h0M237 273h0M256 272h0M39 291h0M63 290h0M82 288h0M118 290h0M136 287h0M156 288h0M174 284h0M190 288h0M212 290h0M228 289h0M245 289h0M37 303h0M52 305h0M73 305h0M108 305h0M124 304h0M148 305h0M167 304h0M183 303h0M222 304h0M242 305h0M253 306h0M275 304h0M47 317h0M98 318h0M118 319h0M136 322h0M194 318h0M210 319h0M249 323h0M263 320h0M284 317h0" stroke="#2893b3" stroke-width="11" stroke-linecap="round"/><path d="M212 67l6 15M81 97l18 -1M81 97l-12 16M81 97l9 13M152 93l23 10M152 93l-4 20M192 95l-10 17M192 95l9 18M266 94l9 17M54 115l15 -2M54 115l-12 14M221 112l19 1M123 129l14 2M123 129l-12 14M123 129l2 17M227 125l19 2M227 125l-7 20M227 125l9 19M236 144l14 17M49 165l18 -3M49 165l-14 10M49 165l0 11M80 159l22 2M80 159l-9 14M80 159l10 16M176 159l-11 19M176 159l7 16M231 164l19 -3M231 164l-9 17M231 164l9 9M49 176l-5 19M49 176l16 16M255 177l-5 15M255 177l10 13M117 195l18 1M228 193l-7 18M228 193l11 17M163 202l22 5M163 202l-9 22M175 220l7 20M269 224l16 2M269 224l-15 17M31 238l25 3M31 238l17 15M108 244l19 -5M108 244l-9 9M108 244l5 9M254 241l-5 9M254 241l9 12M77 256l22 -3M77 256l13 15M193 259l17 -3M193 259l-8 12M210 256l22 -2M210 256l-9 19M210 256l6 15M103 291l15 -1M103 291l-11 13M92 304l16 1M92 304l-11 18M64 320l17 2M153 323l24 -3M177 320l17 -2" stroke="#217f9e" stroke-width="6.5"/><path d="M212 67h0M251 65h0M81 97h0M152 93h0M192 95h0M266 94h0M54 115h0M221 112h0M123 129h0M227 125h0M236 144h0M298 146h0M49 165h0M80 159h0M176 159h0M231 164h0M49 176h0M255 177h0M117 195h0M228 193h0M163 202h0M175 220h0M269 224h0M31 238h0M108 244h0M254 241h0M77 256h0M193 259h0M210 256h0M103 291h0M92 304h0M64 320h0M81 322h0M153 323h0M177 320h0M228 322h0" stroke="#217f9e" stroke-width="11" stroke-linecap="round"/><rect x="26" y="100" width="250" height="230" stroke="#aaa" stroke-width="4"/></g>
<g transform="translate(181.6,171.39999999999998) scale(0.1)" fill="none"><rect x="26" y="100" width="250" height="230" fill="#d4ecf2"/><path d="M62 64h250v230h-250zM26 100l36 -36M276 100l36 -36M276 330l36 -36M26 330l36 -36" stroke="#a8a8a8" stroke-width="4"/><path d="M211 67l13 13M111 76l19 7M224 80l-14 23M67 99l-13 10M193 99l-9 9M193 99l9 9M210 103l-8 5M210 103l7 11M33 110l-5 18M33 110l14 15M54 109l17 -1M54 109l-7 16M103 113l31 0M103 113l16 13M134 113l13 0M134 113l-15 13M169 117l15 -9M169 117l-14 11M169 117l5 11M184 108l18 0M184 108l8 20M202 108l15 6M202 108l-10 20M238 111l7 15M258 114l16 1M274 115l-8 11M274 115l10 12M28 128l19 -3M47 125l17 0M47 125l-12 19M64 125l11 -1M64 125l-11 25M64 125l11 19M75 124l27 4M75 124l11 19M119 126l16 -1M119 126l-8 19M119 126l8 20M174 128l18 0M192 128l20 -2M192 128l-7 16M192 128l8 16M212 126l19 4M212 126l-12 18M212 126l10 19M231 130l14 -4M231 130l-9 15M245 126l21 0M245 126l-4 17M245 126l12 18M266 126l18 1M266 126l-9 18M35 144l18 6M35 144l12 17M53 150l22 -6M53 150l-6 11M53 150l10 5M75 144l11 -1M75 144l8 13M86 143l-3 14M86 143l17 19M111 145l16 1M111 145l-8 17M185 144l15 0M185 144l9 13M200 144l22 1M200 144l-6 13M222 145l-8 17M222 145l7 15M241 143l16 1M241 143l-12 17M47 161l16 -6M47 161l-15 17M47 161l5 17M63 155l20 2M63 155l-11 23M63 155l13 20M83 157l20 5M83 157l-7 18M103 162l13 -5M103 162l-13 17M116 157l22 6M116 157l-5 23M116 157l11 20M138 163l18 -2M138 163l-11 14M138 163l7 11M156 161l18 3M156 161l-11 13M194 157l20 5M194 157l8 19M229 160l22 2M229 160l10 12M266 163l-9 9M32 178l20 0M32 178l15 14M52 178l24 -3M52 178l-5 14M52 178l9 16M90 179l21 1M90 179l-8 12M90 179l8 12M111 180l16 -3M111 180l-13 11M111 180l10 15M145 174l18 0M163 174l24 4M163 174l10 18M187 178l15 -2M187 178l-14 14M202 176l10 13M239 172l18 0M239 172l-8 20M239 172l8 22M47 192l14 2M47 192l-10 21M47 192l3 18M61 194l21 -3M61 194l-11 16M61 194l16 15M82 191l16 0M121 195l-16 16M121 195l4 9M159 189l14 3M159 189l-11 21M159 189l8 21M193 188l-12 20M193 188l8 18M212 189l-11 17M212 189l9 17M231 192l-10 14M231 192l7 19M247 194l20 -4M247 194l-9 17M247 194l10 14M267 190l20 2M267 190l-10 18M287 192l10 17M37 213l13 -3M77 209l8 16M91 207l14 4M91 207l-6 18M91 207l9 13M105 211l20 -7M105 211l-5 9M105 211l15 14M125 204l-5 21M148 210l19 0M148 210l-9 13M148 210l9 13M167 210l14 -2M181 208l20 -2M181 208l-10 12M201 206l-7 17M201 206l10 14M221 206l-10 14M221 206l12 17M238 211l19 -3M238 211l-5 12M238 211l6 10M277 205l-12 21M297 209l8 15M44 224l-11 15M44 224l8 15M60 223l25 2M60 223l-8 16M60 223l10 18M100 220l20 5M100 220l-10 17M100 220l8 19M139 223l18 0M139 223l7 17M157 223l-11 17M194 223l-10 18M194 223l5 20M211 220l22 3M211 220l-12 23M211 220l6 20M233 223l11 -2M233 223l-16 17M233 223l7 16M265 226l-9 16M305 224l7 15M52 239l18 2M52 239l13 21M108 239l16 1M108 239l-10 22M124 240l22 0M124 240l16 18M184 241l15 2M184 241l7 15M217 240l23 -1M217 240l-4 14M217 240l12 19M240 239l-11 20M240 239l10 15M312 239l-9 18M43 258l22 2M43 258l-4 15M43 258l12 16M65 260l-10 14M65 260l7 14M81 257l17 4M81 257l-9 17M81 257l8 18M98 261l21 -4M98 261l-9 14M119 257l21 1M140 258l14 -3M140 258l-10 13M140 258l8 12M154 255l22 2M154 255l-6 15M176 257l15 -1M176 257l-11 18M176 257l6 11M213 254l16 5M213 254l-13 19M229 259l-9 10M229 259l9 12M250 254l-12 17M250 254l3 17M266 257l-13 14M266 257l9 14M72 274l17 1M72 274l-12 16M89 275l17 15M130 271l-11 13M130 271l3 16M165 275l17 -7M165 275l-9 15M165 275l7 12M200 273l20 -4M200 273l11 17M220 269l9 20M238 271l15 0M238 271l-9 18M238 271l10 18M253 271l-5 18M253 271l14 17M275 271l9 17M60 290l22 -2M60 290l-6 16M60 290l13 20M82 288l24 2M82 288l11 20M119 284l14 3M119 284l-11 20M119 284l8 20M133 287l-6 17M133 287l12 18M156 290l16 -3M156 290l-11 15M156 290l7 16M193 285l18 5M193 285l-9 21M193 285l7 20M211 290l18 -1M211 290l15 16M229 289l-3 17M248 289l19 -1M248 289l12 18M267 288l17 0M267 288l-7 19M267 288l8 16M284 288l-9 16M36 308l-11 11M36 308l5 10M54 306l19 4M54 306l-13 12M54 306l13 15M93 308l7 16M127 304l18 1M127 304l-9 18M127 304l11 15M145 305l18 1M145 305l-7 14M163 306l-9 16M184 306l16 -1M184 306l8 16M200 305l26 1M200 305l-8 17M226 306l14 0M226 306l-15 14M226 306l5 14M240 306l20 1M25 319l16 -1M41 318l26 3M67 321l17 0M100 324l18 -2M118 322l20 -3M138 319l16 3M173 323l19 -1M192 322l19 -2M211 320l20 0M231 320l16 -1" stroke="#2893b3" stroke-width="6.5"/><path d="M98 65h0M211 67h0M111 76h0M224 80h0M292 82h0M67 99h0M193 99h0M210 103h0M33 110h0M54 109h0M103 113h0M134 113h0M169 117h0M184 108h0M202 108h0M238 111h0M258 114h0M274 115h0M28 128h0M47 125h0M64 125h0M75 124h0M119 126h0M174 128h0M192 128h0M212 126h0M231 130h0M245 126h0M266 126h0M35 144h0M53 150h0M75 144h0M86 143h0M111 145h0M185 144h0M200 144h0M222 145h0M241 143h0M47 161h0M63 155h0M83 157h0M103 162h0M116 157h0M138 163h0M156 161h0M194 157h0M229 160h0M266 163h0M303 166h0M32 178h0M52 178h0M90 179h0M111 180h0M145 174h0M163 174h0M187 178h0M202 176h0M239 172h0M257 172h0M47 192h0M61 194h0M82 191h0M121 195h0M159 189h0M193 188h0M212 189h0M231 192h0M247 194h0M267 190h0M287 192h0M37 213h0M77 209h0M91 207h0M105 211h0M125 204h0M148 210h0M167 210h0M181 208h0M201 206h0M221 206h0M238 211h0M277 205h0M297 209h0M44 224h0M60 223h0M100 220h0M139 223h0M157 223h0M171 220h0M194 223h0M211 220h0M233 223h0M265 226h0M305 224h0M52 239h0M108 239h0M124 240h0M146 240h0M184 241h0M217 240h0M240 239h0M312 239h0M27 254h0M43 258h0M65 260h0M81 257h0M98 261h0M119 257h0M140 258h0M154 255h0M176 257h0M213 254h0M229 259h0M250 254h0M266 257h0M72 274h0M89 275h0M130 271h0M165 275h0M200 273h0M220 269h0M238 271h0M253 271h0M275 271h0M60 290h0M82 288h0M119 284h0M133 287h0M156 290h0M193 285h0M211 290h0M229 289h0M248 289h0M267 288h0M284 288h0M36 308h0M54 306h0M93 308h0M127 304h0M145 305h0M163 306h0M184 306h0M200 305h0M226 306h0M240 306h0M275 304h0M25 319h0M41 318h0M67 321h0M100 324h0M118 322h0M138 319h0M173 323h0M192 322h0M211 320h0M231 320h0M247 319h0M267 321h0" stroke="#2893b3" stroke-width="11" stroke-linecap="round"/><path d="M174 99l-5 18M174 99l10 9M71 108l24 5M71 108l-7 17M71 108l4 16M95 113l8 0M95 113l-20 11M95 113l7 15M147 113l-12 12M147 113l8 15M217 114l21 -3M217 114l14 16M102 128l17 -2M102 128l9 17M135 125l20 3M135 125l12 17M155 128l-8 14M127 146l20 -4M127 146l-11 11M127 146l11 17M147 142l9 19M257 144l-6 18M257 144l9 19M174 164l20 -7M214 162l15 -2M251 162l15 1M251 162l-12 10M251 162l6 10M76 175l-15 19M76 175l6 16M127 177l18 -3M127 177l-6 18M98 191l23 4M98 191l7 20M173 192l20 -4M173 192l-6 18M173 192l8 16M50 210l-6 14M257 208l20 -3M257 208l-13 13M257 208l8 18M85 225l15 -5M85 225l-15 16M85 225l5 12M120 225l19 -2M244 221l21 5M244 221l-4 18M33 239l19 0M33 239l-6 15M33 239l10 19M70 241l20 -4M70 241l11 16M90 237l8 24M168 237l16 4M168 237l8 20M199 243l-8 13M199 243l14 11M256 242l-6 12M256 242l10 15M191 256l22 -2M191 256l-9 12M191 256l9 17M39 273l16 1M39 273l4 16M55 274l17 0M55 274l-12 15M55 274l5 16M148 270l17 5M148 270l-15 17M148 270l8 20M182 268l18 5M182 268l11 17M43 289l17 1M43 289l-7 19M106 290l13 -6M106 290l-13 18M106 290l2 14M172 287l21 -2M172 287l12 19M73 310l11 11M108 304l19 0M108 304l-8 20M260 307l15 -3M260 307l-13 12M260 307l7 14M84 321l16 3M154 322l19 1" stroke="#217f9e" stroke-width="6.5"/><path d="M130 83h0M174 99h0M71 108h0M95 113h0M147 113h0M217 114h0M102 128h0M135 125h0M155 128h0M284 127h0M127 146h0M147 142h0M257 144h0M174 164h0M214 162h0M251 162h0M76 175h0M127 177h0M98 191h0M173 192h0M50 210h0M257 208h0M85 225h0M120 225h0M244 221h0M33 239h0M70 241h0M90 237h0M168 237h0M199 243h0M256 242h0M191 256h0M303 257h0M39 273h0M55 274h0M148 270h0M182 268h0M43 289h0M106 290h0M172 287h0M73 310h0M108 304h0M260 307h0M84 321h0M154 322h0" stroke="#217f9e" stroke-width="11" stroke-linecap="round"/><rect x="26" y="100" width="250" height="230" stroke="#aaa" stroke-width="4"/></g>
<g transform="translate(38.0,207.29999999999998) scale(0.1)" fill="none"><rect x="26" y="100" width="250" height="230" fill="#d4ecf2"/><path d="M62 64h250v230h-250zM26 100l36 -36M276 100l36 -36M276 330l36 -36M26 330l36 -36" stroke="#a8a8a8" stroke-width="4"/><path d="M269 64l-11 15M258 79l9 23M44 98l-10 11M44 98l8 17M136 92l-9 20M136 92l13 21M267 102l-11 8M34 109l18 6M34 109l10 18M52 115l19 -4M71 111l23 2M94 113l14 -2M108 111l19 1M127 112l-11 17M127 112l7 18M149 113l5 18M180 111l-5 14M205 109l14 5M205 109l-13 19M205 109l7 16M219 114l20 -3M219 114l-7 11M219 114l12 12M239 111l17 -1M239 111l-8 15M239 111l5 17M256 110l-12 18M256 110l9 18M76 127l-1 19M76 127l15 15M116 129l18 1M116 129l-5 16M116 129l9 13M134 130l20 1M134 130l-9 12M154 131l21 -6M154 131l-5 13M175 125l17 3M175 125l-9 18M175 125l5 18M192 128l-12 15M192 128l5 17M212 125l19 1M212 125l-15 20M212 125l5 24M75 146l10 13M91 142l20 3M91 142l-6 17M111 145l14 -3M111 145l-12 19M111 145l8 14M125 142l10 17M166 143l14 0M166 143l11 14M180 143l17 2M180 143l-3 14M197 145l15 15M24 158l21 2M45 160l18 -1M45 160l-6 16M45 160l12 18M63 159l-6 19M63 159l9 19M85 159l4 21M135 159l-5 18M135 159l14 20M177 157l16 5M177 157l-15 18M193 162l-9 15M39 176l18 2M39 176l4 12M57 178l15 0M57 178l-14 10M57 178l7 10M89 180l19 -3M89 180l-7 12M89 180l10 11M108 177l22 0M108 177l-9 14M108 177l10 16M130 177l19 2M130 177l-12 16M130 177l5 13M184 177l5 15M218 175l23 2M218 175l-6 19M241 177l-12 13M31 190l12 -2M31 190l5 12M43 188l21 0M43 188l-7 14M43 188l10 17M64 188l18 4M64 188l-11 17M64 188l6 21M99 191l19 2M118 193l17 -3M118 193l-9 11M118 193l6 18M135 190l9 17M253 192l12 1M36 202l17 3M53 205l17 4M70 209l20 -2M70 209l-8 18M70 209l11 15M90 207l19 -3M90 207l6 16M109 204l15 7M109 204l14 24M124 211l-1 17M124 211l8 17M144 207l22 0M144 207l-12 21M166 207l17 -3M166 207l-11 14M166 207l9 19M183 204l16 5M183 204l-8 22M199 209l-5 16M199 209l15 15M62 227l-11 17M62 227l11 9M96 223l-7 19M96 223l13 17M123 228l9 0M123 228l-14 12M123 228l4 9M132 228l23 -7M132 228l-5 9M155 221l20 5M155 221l-6 15M155 221l9 16M194 225l-11 15M214 224l8 12M231 230l-9 6M248 221l22 4M248 221l-9 22M270 225l-9 17M270 225l3 14M51 244l22 -8M51 244l10 15M73 236l16 6M73 236l-12 23M127 237l-8 18M149 236l-11 23M164 237l19 3M183 240l18 1M183 240l6 16M201 241l21 -5M201 241l-12 15M201 241l10 15M222 236l-11 20M239 243l22 -1M239 243l-10 11M239 243l12 13M261 242l-10 14M261 242l8 13M61 259l21 -4M61 259l-12 15M61 259l7 13M119 255l19 4M119 255l-10 16M119 255l10 16M138 259l15 -2M138 259l-9 12M138 259l10 14M153 257l-5 16M174 256l15 0M174 256l-12 15M174 256l9 18M189 256l22 0M189 256l-6 18M189 256l15 16M229 254l-8 18M229 254l10 16M251 256l-12 14M251 256l5 18M269 255l-13 19M269 255l9 18M49 274l14 15M68 272l20 0M68 272l-5 17M88 272l21 -1M88 272l13 17M109 271l20 0M109 271l-8 18M129 271l7 16M148 273l14 -2M148 273l-12 14M162 271l21 3M162 271l-2 17M162 271l11 20M183 274l-10 17M183 274l11 13M204 272l17 0M204 272l-10 15M204 272l9 14M221 272l18 -2M221 272l-8 14M239 270l17 4M239 270l-12 16M256 274l22 -1M256 274l-5 14M278 273l-9 13M101 289l19 -3M101 289l-13 14M120 286l16 1M120 286l9 19M160 288l13 3M160 288l-14 14M173 291l-8 14M194 287l19 -1M194 287l8 19M227 286l-5 14M251 288l18 -2M251 288l8 13M68 302l20 1M68 302l-6 15M88 303l20 1M88 303l-10 16M108 304l-7 19M108 304l14 16M146 302l-8 14M222 300l-9 18M271 302l-6 18M25 323l19 -5M62 317l16 2M78 319l23 4M101 323l21 -3M122 320l16 -4M175 324l19 -2M228 323l18 0M246 323l19 -3" stroke="#2893b3" stroke-width="6.5"/><path d="M136 66h0M174 64h0M269 64h0M202 80h0M258 79h0M295 81h0M44 98h0M136 92h0M267 102h0M34 109h0M52 115h0M71 111h0M94 113h0M108 111h0M127 112h0M149 113h0M180 111h0M205 109h0M219 114h0M239 111h0M256 110h0M44 127h0M76 127h0M116 129h0M134 130h0M154 131h0M175 125h0M192 128h0M212 125h0M75 146h0M91 142h0M111 145h0M125 142h0M149 144h0M166 143h0M180 143h0M197 145h0M217 149h0M24 158h0M45 160h0M63 159h0M85 159h0M135 159h0M177 157h0M193 162h0M212 160h0M304 160h0M39 176h0M57 178h0M89 180h0M108 177h0M130 177h0M184 177h0M218 175h0M241 177h0M31 190h0M43 188h0M64 188h0M99 191h0M118 193h0M135 190h0M229 190h0M253 192h0M36 202h0M53 205h0M70 209h0M90 207h0M109 204h0M124 211h0M144 207h0M166 207h0M183 204h0M199 209h0M240 207h0M62 227h0M96 223h0M123 228h0M132 228h0M155 221h0M194 225h0M214 224h0M231 230h0M248 221h0M270 225h0M303 225h0M51 244h0M73 236h0M127 237h0M149 236h0M164 237h0M183 240h0M201 241h0M222 236h0M239 243h0M261 242h0M25 254h0M61 259h0M119 255h0M138 259h0M153 257h0M174 256h0M189 256h0M211 256h0M229 254h0M251 256h0M269 255h0M49 274h0M68 272h0M88 272h0M109 271h0M129 271h0M148 273h0M162 271h0M183 274h0M204 272h0M221 272h0M239 270h0M256 274h0M278 273h0M63 289h0M101 289h0M120 286h0M160 288h0M173 291h0M194 287h0M227 286h0M251 288h0M68 302h0M88 303h0M108 304h0M146 302h0M222 300h0M271 302h0M25 323h0M62 317h0M78 319h0M101 323h0M122 320h0M138 316h0M175 324h0M228 323h0M246 323h0M265 320h0" stroke="#2893b3" stroke-width="11" stroke-linecap="round"/><path d="M212 194l17 -4" stroke="#e8606a" stroke-width="6.5"/><path d="M65 65h0M212 194h0" stroke="#e8606a" stroke-width="11" stroke-linecap="round"/><path d="M231 126l-14 23M244 128l21 0M38 147l19 -3M38 147l7 13M57 144l18 2M57 144l6 15M276 143l-10 20M99 164l20 -5M99 164l9 13M119 159l-11 18M119 159l11 18M249 160l-8 17M72 178l17 2M72 178l-8 10M72 178l10 14M149 179l13 -4M82 192l17 -1M82 192l8 15M189 192l23 2M189 192l-6 12M189 192l10 17M81 224l15 -1M81 224l-8 12M81 224l8 18M175 226l19 -1M36 235l15 9M89 242l20 -2M89 242l-7 13M109 240l18 -3M109 240l10 15M273 239l-4 16M136 287l24 1M136 287l-7 18M213 286l14 0M213 286l-11 20M213 286l9 14M269 286l-10 15M269 286l2 16M36 301l16 2M36 301l8 17M52 303l-8 15M129 305l17 -3M129 305l-7 15M129 305l9 11M165 305l10 19M202 306l-8 16M202 306l11 12M259 301l12 1M259 301l6 19M44 318l18 -1M194 322l19 -4M213 318l15 5" stroke="#217f9e" stroke-width="6.5"/><path d="M28 125h0M231 126h0M244 128h0M265 128h0M38 147h0M57 144h0M276 143h0M99 164h0M119 159h0M249 160h0M266 163h0M72 178h0M149 179h0M162 175h0M82 192h0M189 192h0M265 193h0M81 224h0M175 226h0M36 235h0M89 242h0M109 240h0M273 239h0M82 255h0M136 287h0M213 286h0M269 286h0M36 301h0M52 303h0M129 305h0M165 305h0M202 306h0M259 301h0M44 318h0M194 322h0M213 318h0" stroke="#217f9e" stroke-width="11" stroke-linecap="round"/><rect x="26" y="100" width="250" height="230" stroke="#aaa" stroke-width="4"/></g>
<g transform="translate(73.9,207.29999999999998) scale(0.1)" fill="none"><rect x="26" y="100" width="250" height="230" fill="#d4ecf2"/><path d="M62 64h250v230h-250zM26 100l36 -36M276 100l36 -36M276 330l36 -36M26 330l36 -36" stroke="#a8a8a8" stroke-width="4"/><path d="M65 66l8 13M154 66l11 15M109 80l21 0M130 80l-14 16M130 80l8 15M275 79l20 3M116 96l22 -1M247 97l-10 13M92 114l17 -3M92 114l-11 14M92 114l13 14M163 109l25 5M163 109l-11 16M163 109l14 21M237 110l21 5M258 115l-7 13M63 132l18 -4M63 132l-8 16M81 128l24 0M105 128l15 0M105 128l-15 19M152 125l25 5M152 125l14 22M192 130l-8 17M214 129l-10 17M214 129l6 17M251 128l18 -2M251 128l-10 15M33 143l22 5M33 143l11 19M55 148l12 12M90 147l21 -6M90 147l-7 16M111 141l18 5M111 141l6 19M184 147l20 -1M184 147l10 11M241 143l15 2M241 143l-13 17M241 143l5 16M256 145l21 -2M277 143l-12 18M277 143l10 18M44 162l23 -2M44 162l-5 14M67 160l16 3M67 160l-15 17M67 160l3 16M83 163l15 -3M83 163l-13 13M83 163l7 13M98 160l19 0M98 160l8 18M117 160l22 -1M117 160l8 16M139 159l-14 17M139 159l7 13M159 165l7 11M194 158l13 2M194 158l-7 22M207 160l21 0M228 160l18 -1M246 159l19 2M246 159l12 16M265 161l22 0M265 161l-7 14M265 161l10 16M39 176l-11 17M39 176l7 15M52 177l18 -1M70 176l20 0M70 176l11 17M90 176l-9 17M90 176l9 15M125 176l21 -4M125 176l11 19M146 172l20 4M146 172l-10 23M146 172l11 21M258 175l-8 18M258 175l5 18M275 177l-12 16M46 191l-9 17M46 191l8 14M81 193l-11 15M99 191l19 2M99 191l12 15M118 193l18 2M118 193l8 15M136 195l21 -2M54 205l-11 17M70 208l7 14M111 206l15 2M111 206l-12 15M111 206l9 16M126 208l-6 14M146 206l-10 18M180 210l23 -5M180 210l-9 14M180 210l14 16M220 208l-12 13M220 208l14 18M278 207l-11 18M43 222l-5 19M43 222l8 18M77 222l22 -1M77 222l-5 19M77 222l12 17M99 221l21 1M120 222l8 17M136 224l18 1M136 224l13 15M171 224l23 2M171 224l-10 16M171 224l15 19M194 226l-8 17M194 226l6 13M208 221l26 5M208 221l-8 18M208 221l11 20M234 226l-15 15M234 226l3 8M267 225l6 15M38 241l13 -1M51 240l-6 17M51 240l13 15M89 239l7 17M128 239l21 0M128 239l14 18M161 240l0 20M186 243l-10 17M186 243l5 11M200 239l-9 15M219 241l18 -7M219 241l12 17M237 234l22 7M237 234l11 21M273 240l-5 18M28 260l17 -3M28 260l6 12M45 257l-11 15M122 258l20 -1M122 258l-14 16M122 258l6 14M142 257l19 3M142 257l-14 15M142 257l1 16M231 258l17 -3M231 258l-12 15M248 255l20 3M248 255l10 16M268 258l-10 13M55 274l-12 12M55 274l9 10M74 273l15 0M74 273l-10 11M89 273l-9 14M89 273l10 19M108 274l20 -2M108 274l7 15M128 272l15 1M128 272l8 14M164 273l11 16M182 276l-7 13M182 276l8 13M205 277l-15 12M205 277l6 5M258 271l-12 15M258 271l4 15M43 286l21 -2M43 286l11 17M64 284l16 3M64 284l-10 19M99 292l16 -3M99 292l13 16M115 289l21 -3M115 289l13 16M136 286l18 -1M136 286l-8 19M190 289l-7 14M190 289l13 17M211 282l-8 24M211 282l8 22M229 287l-10 17M229 287l11 18M262 286l18 4M262 286l-6 19M262 286l14 18M280 290l-4 14M73 301l-8 18M73 301l7 16M89 301l-9 16M89 301l11 15M112 308l16 -3M128 305l-8 14M128 305l10 14M169 305l8 16M183 303l-6 18M203 306l16 -2M203 306l-11 17M203 306l4 13M219 304l21 1M219 304l-12 15M219 304l12 14M256 305l20 -1M256 305l-7 14M41 318l24 1M65 319l15 -2M100 316l20 3M138 319l14 0M152 319l25 2M177 321l15 2M192 323l15 -4M207 319l24 -1M249 319l20 3" stroke="#2893b3" stroke-width="6.5"/><path d="M65 66h0M154 66h0M51 78h0M73 79h0M109 80h0M130 80h0M165 81h0M275 79h0M295 82h0M116 96h0M138 95h0M247 97h0M40 115h0M92 114h0M109 111h0M163 109h0M237 110h0M258 115h0M63 132h0M81 128h0M105 128h0M134 130h0M152 125h0M192 130h0M214 129h0M251 128h0M287 124h0M33 143h0M55 148h0M90 147h0M111 141h0M184 147h0M241 143h0M256 145h0M277 143h0M44 162h0M67 160h0M83 163h0M98 160h0M117 160h0M139 159h0M159 165h0M194 158h0M207 160h0M228 160h0M246 159h0M265 161h0M39 176h0M52 177h0M70 176h0M90 176h0M125 176h0M146 172h0M258 175h0M275 177h0M46 191h0M81 193h0M99 191h0M118 193h0M136 195h0M37 208h0M54 205h0M70 208h0M111 206h0M126 208h0M146 206h0M180 210h0M220 208h0M278 207h0M43 222h0M77 222h0M99 221h0M120 222h0M136 224h0M171 224h0M194 226h0M208 221h0M234 226h0M267 225h0M38 241h0M51 240h0M89 239h0M128 239h0M161 240h0M186 243h0M200 239h0M219 241h0M237 234h0M273 240h0M28 260h0M45 257h0M122 258h0M142 257h0M191 254h0M231 258h0M248 255h0M268 258h0M55 274h0M74 273h0M89 273h0M108 274h0M128 272h0M164 273h0M182 276h0M205 277h0M258 271h0M43 286h0M64 284h0M99 292h0M115 289h0M136 286h0M190 289h0M211 282h0M229 287h0M262 286h0M280 290h0M73 301h0M89 301h0M112 308h0M128 305h0M169 305h0M183 303h0M203 306h0M219 304h0M256 305h0M276 304h0M24 317h0M41 318h0M65 319h0M80 317h0M100 316h0M120 319h0M138 319h0M152 319h0M177 321h0M192 323h0M207 319h0M249 319h0M269 322h0" stroke="#2893b3" stroke-width="11" stroke-linecap="round"/><path d="M229 191l21 2M243 226l-6 8M149 239l-7 18M149 239l12 21M231 318l18 1" stroke="#e8606a" stroke-width="6.5"/><path d="M229 191h0M243 226h0M149 239h0M231 318h0" stroke="#e8606a" stroke-width="11" stroke-linecap="round"/><path d="M55 112l20 1M55 112l8 20M75 113l17 1M75 113l-12 19M188 114l13 -1M188 114l-11 16M188 114l4 16M201 113l-9 17M201 113l13 16M120 128l14 2M120 128l-9 13M120 128l9 18M177 130l15 0M177 130l-11 17M177 130l7 17M269 126l18 -2M269 126l8 17M166 147l-7 18M204 146l16 0M204 146l-10 12M204 146l3 14M220 146l21 -3M220 146l-13 14M220 146l8 14M27 160l17 2M27 160l12 16M106 178l-7 13M106 178l12 15M166 176l21 4M166 176l-9 17M220 178l18 2M220 178l-8 13M220 178l9 13M238 180l20 -5M238 180l-9 11M238 180l12 13M28 193l18 -2M157 193l-11 13M212 191l17 0M212 191l8 17M250 193l10 14M203 205l17 3M203 205l5 16M260 207l18 0M260 207l7 18M154 225l17 -1M154 225l-5 14M154 225l7 15M72 241l-8 14M259 241l-11 14M259 241l9 17M64 255l13 -1M64 255l-9 19M64 255l10 18M77 254l19 2M77 254l-3 19M77 254l12 19M96 256l26 2M96 256l-7 17M161 260l15 0M161 260l-18 13M161 260l3 13M176 260l-12 13M34 272l21 2M34 272l9 14M143 273l21 0M143 273l11 12M219 273l19 -2M219 273l-8 9M219 273l10 14M238 271l20 0M238 271l-9 16M238 271l8 15M80 287l19 5M80 287l-7 14M80 287l9 14M154 285l21 4M175 289l-6 16M175 289l8 14M246 286l16 0M246 286l-6 19M246 286l10 19M34 303l20 0M54 303l19 -2M54 303l11 16M240 305l16 0M240 305l-9 13M240 305l9 14" stroke="#217f9e" stroke-width="6.5"/><path d="M55 112h0M75 113h0M188 114h0M201 113h0M220 111h0M120 128h0M177 130h0M269 126h0M129 146h0M166 147h0M204 146h0M220 146h0M27 160h0M287 161h0M106 178h0M166 176h0M187 180h0M220 178h0M238 180h0M314 175h0M28 193h0M157 193h0M212 191h0M250 193h0M263 193h0M203 205h0M260 207h0M154 225h0M72 241h0M259 241h0M64 255h0M77 254h0M96 256h0M161 260h0M176 260h0M34 272h0M143 273h0M219 273h0M238 271h0M80 287h0M154 285h0M175 289h0M246 286h0M34 303h0M54 303h0M240 305h0" stroke="#217f9e" stroke-width="11" stroke-linecap="round"/><rect x="26" y="100" width="250" height="230" stroke="#aaa" stroke-width="4"/></g>
<g transform="translate(109.8,207.29999999999998) scale(0.1)" fill="none"><path d="M62 64h250v230h-250zM26 100l36 -36M276 100l36 -36M276 330l36 -36M26 330l36 -36" stroke="#a8a8a8" stroke-width="4"/><path d="M43 94l-7 17M43 94l8 19M251 98l12 -1M251 98l7 13M263 97l23 -1M263 97l-5 14M286 96l-9 17M36 111l-9 18M36 111l6 16M51 113l20 0M51 113l-9 14M71 113l19 -5M71 113l9 15M223 112l-11 20M223 112l6 19M258 111l19 2M277 113l-10 10M27 129l15 -2M42 127l-7 16M42 127l14 15M80 128l13 16M99 127l10 19M117 128l11 18M136 132l-8 14M136 132l12 12M212 132l17 -1M229 131l20 -2M229 131l10 12M249 129l18 -6M249 129l-10 14M249 129l8 15M267 123l-10 21M267 123l4 23M35 143l21 -1M35 143l13 18M56 142l14 2M70 144l23 0M70 144l11 14M109 146l19 0M109 146l10 10M148 144l11 15M221 144l18 -1M239 143l-9 18M239 143l8 16M257 144l14 2M257 144l-10 15M257 144l6 15M271 146l22 -6M271 146l-8 13M48 161l18 -4M81 158l20 5M81 158l-9 18M81 158l10 15M101 163l6 15M119 156l-12 22M119 156l7 21M137 162l-11 15M137 162l12 17M159 159l15 -1M159 159l-10 20M159 159l3 17M230 161l17 -2M230 161l3 15M247 159l16 0M247 159l-14 17M72 176l19 -3M72 176l11 15M91 173l16 5M91 173l12 21M107 178l19 -1M126 177l23 2M126 177l-7 18M126 177l11 15M149 179l-12 13M149 179l7 10M203 176l-16 12M233 176l-4 17M103 194l16 1M119 195l18 -3M137 192l19 -3M137 192l10 15M156 189l18 5M156 189l-9 18M156 189l10 22M174 194l13 -6M229 193l-8 14M229 193l8 15M110 207l18 1M110 207l-9 19M128 208l9 17M147 207l-10 18M147 207l10 20M221 207l16 1M221 207l-13 19M221 207l11 15M115 222l22 3M115 222l12 16M137 225l20 2M137 225l-10 13M232 222l-15 19M232 222l3 18M248 221l-13 19M248 221l10 20M110 237l17 1M110 237l-10 18M110 237l9 21M151 240l-15 19M151 240l6 17M180 242l-3 18M180 242l10 15M201 241l-11 16M201 241l11 13M235 240l23 1M258 241l-12 15M258 241l6 17M119 258l9 12M136 259l21 -2M136 259l-8 11M136 259l12 13M157 257l20 3M157 257l-9 15M190 257l22 -3M190 257l16 18M212 254l14 2M212 254l7 16M226 256l20 0M226 256l11 14M246 256l18 2M246 256l10 23M264 258l19 -5M264 258l-8 21M283 253l12 21M87 273l-6 19M128 270l-7 17M219 270l18 0M219 270l10 17M256 279l-7 6M256 279l14 8M295 274l-13 15M295 274l10 12M43 286l-7 18M43 286l10 21M100 285l21 2M100 285l-9 20M100 285l9 19M121 287l-12 17M229 287l20 -2M229 287l11 16M249 285l-9 18M249 285l7 19M270 287l12 2M270 287l-14 17M91 305l18 -1M91 305l-9 16M91 305l11 15M109 304l-7 16M240 303l16 1M256 304l17 -1M256 304l-8 18M273 303l-11 20M82 321l20 -1M248 322l14 1" stroke="#2893b3" stroke-width="6.5"/><path d="M91 81h0M43 94h0M251 98h0M263 97h0M286 96h0M36 111h0M51 113h0M71 113h0M167 110h0M223 112h0M258 111h0M277 113h0M27 129h0M42 127h0M80 128h0M99 127h0M117 128h0M136 132h0M191 127h0M212 132h0M229 131h0M249 129h0M267 123h0M35 143h0M56 142h0M70 144h0M109 146h0M148 144h0M221 144h0M239 143h0M257 144h0M271 146h0M293 140h0M48 161h0M81 158h0M101 163h0M119 156h0M137 162h0M159 159h0M189 159h0M230 161h0M247 159h0M263 159h0M72 176h0M91 173h0M107 178h0M126 177h0M149 179h0M203 176h0M233 176h0M83 191h0M103 194h0M119 195h0M137 192h0M156 189h0M174 194h0M187 188h0M229 193h0M110 207h0M128 208h0M147 207h0M221 207h0M115 222h0M137 225h0M157 227h0M232 222h0M248 221h0M110 237h0M151 240h0M180 242h0M201 241h0M235 240h0M258 241h0M119 258h0M136 259h0M157 257h0M177 260h0M190 257h0M212 254h0M226 256h0M246 256h0M264 258h0M283 253h0M87 273h0M128 270h0M148 272h0M206 275h0M219 270h0M256 279h0M295 274h0M43 286h0M100 285h0M121 287h0M229 287h0M249 285h0M270 287h0M305 286h0M36 304h0M53 307h0M91 305h0M109 304h0M240 303h0M256 304h0M273 303h0M27 321h0M47 319h0M82 321h0M102 320h0M248 322h0M262 323h0" stroke="#2893b3" stroke-width="11" stroke-linecap="round"/><path d="M66 157l6 19M55 273l18 0" stroke="#e8606a" stroke-width="6.5"/><path d="M314 83h0M66 157h0M55 273h0" stroke="#e8606a" stroke-width="11" stroke-linecap="round"/><path d="M90 108l19 4M109 112l-10 15M109 112l8 16M202 111l21 1M202 111l-11 16M93 144l16 2M93 144l-12 14M93 144l8 19M128 146l20 -2M128 146l-9 10M128 146l9 16M161 145l24 2M161 145l-2 14M161 145l13 13M185 147l4 12M174 158l15 1M174 158l-12 18M162 176l12 18M68 189l15 2M166 211l10 18M201 207l20 0M237 208l-5 14M237 208l11 13M101 226l14 -4M101 226l9 11M176 229l16 -7M192 222l16 4M192 222l-12 20M208 226l9 15M88 243l-8 13M127 238l24 2M127 238l-8 20M127 238l9 21M217 241l-5 13M80 256l20 -1M80 256l-7 17M80 256l7 17M100 255l19 3M100 255l-13 18M73 273l14 0M73 273l8 19M237 270l-8 17M237 270l12 15M81 292l-8 12M81 292l10 13M282 289l-9 14" stroke="#217f9e" stroke-width="6.5"/><path d="M90 108h0M109 112h0M202 111h0M93 144h0M128 146h0M161 145h0M185 147h0M174 158h0M162 176h0M68 189h0M166 211h0M201 207h0M237 208h0M101 226h0M176 229h0M192 222h0M208 226h0M74 240h0M88 243h0M127 238h0M217 241h0M80 256h0M100 255h0M73 273h0M237 270h0M81 292h0M282 289h0M73 304h0" stroke="#217f9e" stroke-width="11" stroke-linecap="round"/><rect x="26" y="100" width="250" height="230" stroke="#aaa" stroke-width="4"/></g>
<g transform="translate(145.7,207.29999999999998) scale(0.1)" fill="none"><rect x="26" y="100" width="250" height="230" fill="#d4ecf2"/><path d="M62 64h250v230h-250zM26 100l36 -36M276 100l36 -36M276 330l36 -36M26 330l36 -36" stroke="#a8a8a8" stroke-width="4"/><path d="M182 77l-7 18M102 94l21 -3M102 94l-12 20M102 94l7 16M123 91l9 3M123 91l-14 19M123 91l8 19M132 94l-1 16M132 94l16 18M175 95l-12 19M175 95l10 19M244 94l-6 20M36 111l15 5M36 111l12 14M51 116l21 -6M72 110l18 4M72 110l-7 19M72 110l11 19M90 114l19 -4M90 114l12 16M109 110l22 0M109 110l-7 20M109 110l7 15M131 110l17 2M131 110l-15 15M131 110l8 19M163 114l22 0M163 114l-4 14M163 114l11 12M202 112l11 -1M202 112l12 16M238 114l25 -2M238 114l-7 16M238 114l6 15M310 112l-4 21M65 129l-14 16M83 129l19 1M83 129l-12 18M83 129l10 15M102 130l14 -5M102 130l5 14M116 125l23 4M116 125l-9 19M139 129l20 -1M139 129l10 15M174 126l6 21M188 129l-8 18M188 129l13 18M214 128l17 2M214 128l-13 19M214 128l6 13M231 130l-11 11M231 130l6 15M264 128l-8 16M306 133l6 9M51 145l20 2M51 145l-6 16M51 145l10 12M71 147l-10 10M71 147l7 15M93 144l14 0M93 144l7 14M107 144l21 -1M107 144l13 15M149 144l7 17M201 147l19 -6M201 147l9 7M237 145l19 -1M237 145l11 14M256 144l10 15M25 161l20 0M25 161l13 15M45 161l-7 15M45 161l9 14M61 157l17 5M61 157l-7 18M78 162l22 -4M78 162l11 14M100 158l20 1M100 158l-11 18M100 158l10 16M120 159l16 -1M120 159l-10 15M120 159l6 19M136 158l20 3M136 158l-10 20M136 158l10 19M156 161l18 -2M156 161l-10 16M174 159l8 20M192 160l18 -6M192 160l9 17M210 154l8 26M248 159l18 0M266 159l17 -3M266 159l-10 16M266 159l7 14M283 156l-10 17M283 156l11 22M54 175l18 -1M54 175l-10 19M54 175l5 21M72 174l17 2M72 174l-13 22M72 174l10 15M89 176l21 -2M89 176l-7 13M89 176l12 16M110 174l16 4M110 174l-9 18M110 174l11 20M126 178l20 -1M126 178l-5 16M126 178l11 15M167 176l15 3M167 176l8 16M182 179l19 -2M182 179l-7 13M182 179l9 14M237 180l19 -5M237 180l-12 11M237 180l10 12M256 175l17 -2M256 175l-9 17M256 175l10 17M59 196l23 -7M59 196l16 9M137 193l22 2M137 193l9 15M159 195l-13 13M175 192l16 1M175 192l8 19M191 193l21 0M191 193l-8 18M191 193l9 15M225 191l22 1M247 192l19 0M247 192l-9 14M56 209l8 15M75 205l16 2M75 205l-11 19M75 205l10 18M91 207l-6 16M91 207l8 21M146 208l18 3M146 208l8 12M164 211l19 0M164 211l-10 9M183 211l-13 14M183 211l9 12M200 208l18 2M218 210l20 -4M218 210l15 14M238 206l21 4M238 206l-5 18M238 206l8 17M259 210l7 16M276 207l-10 19M64 224l-8 17M64 224l11 13M85 223l-10 14M85 223l6 18M137 223l17 -3M137 223l-9 18M137 223l7 16M154 220l16 5M154 220l-10 19M154 220l10 21M170 225l22 -2M170 225l13 14M192 223l-9 16M192 223l12 18M210 226l23 -2M233 224l6 19M266 226l-9 12M128 241l16 -2M128 241l-12 14M128 241l5 19M144 239l20 2M164 241l19 -2M183 239l21 2M183 239l8 16M204 241l-13 14M239 243l18 -5M239 243l12 16M45 257l17 -5M45 257l-9 19M45 257l8 10M116 255l17 5M116 255l-5 14M116 255l12 16M191 255l18 1M191 255l-7 17M191 255l11 19M209 256l19 -3M209 256l-7 18M228 253l23 6M228 253l-8 18M228 253l10 17M251 259l-13 11M36 276l17 -9M36 276l12 10M75 273l-13 13M75 273l7 13M128 271l18 4M128 271l-8 16M128 271l10 15M146 275l19 -4M146 275l11 11M165 271l19 1M165 271l-8 15M165 271l11 20M184 272l18 2M184 272l-8 19M184 272l6 18M220 271l-6 21M220 271l13 19M238 270l22 4M238 270l-5 20M238 270l12 17M272 272l25 -3M24 292l9 16M48 286l14 0M48 286l-15 22M48 286l7 18M62 286l20 0M62 286l-7 18M62 286l9 21M82 286l18 6M82 286l-11 21M82 286l8 18M100 292l-10 12M100 292l5 12M120 287l18 -1M120 287l-15 17M120 287l7 20M138 286l19 0M138 286l11 21M176 291l14 -1M176 291l-14 14M176 291l11 13M190 290l-3 14M190 290l12 15M214 292l-12 13M214 292l3 12M233 290l17 -3M233 290l-16 14M250 287l-11 18M250 287l8 18M33 308l22 -4M33 308l8 9M55 304l-14 13M55 304l11 14M71 307l19 -3M71 307l12 13M90 304l15 0M90 304l-7 16M90 304l9 17M105 304l22 3M105 304l-6 17M105 304l17 18M127 307l22 0M127 307l13 11M149 307l13 -2M149 307l6 16M162 305l25 -1M162 305l-7 18M162 305l12 15M202 305l-12 15M275 309l-11 8M41 317l25 1M83 320l16 1M122 322l18 -4M155 323l19 -3M190 320l20 2M230 317l14 6M244 323l20 -6" stroke="#2893b3" stroke-width="6.5"/><path d="M56 80h0M182 77h0M202 84h0M102 94h0M123 91h0M132 94h0M175 95h0M244 94h0M36 111h0M51 116h0M72 110h0M90 114h0M109 110h0M131 110h0M163 114h0M202 112h0M238 114h0M310 112h0M65 129h0M83 129h0M102 130h0M116 125h0M139 129h0M159 128h0M174 126h0M188 129h0M214 128h0M231 130h0M264 128h0M306 133h0M51 145h0M71 147h0M93 144h0M107 144h0M149 144h0M201 147h0M237 145h0M256 144h0M312 142h0M25 161h0M45 161h0M61 157h0M78 162h0M100 158h0M120 159h0M136 158h0M156 161h0M174 159h0M192 160h0M210 154h0M248 159h0M266 159h0M283 156h0M303 160h0M54 175h0M72 174h0M89 176h0M110 174h0M126 178h0M167 176h0M182 179h0M237 180h0M256 175h0M273 173h0M294 178h0M59 196h0M101 192h0M137 193h0M159 195h0M175 192h0M191 193h0M225 191h0M247 192h0M56 209h0M75 205h0M91 207h0M146 208h0M164 211h0M183 211h0M200 208h0M218 210h0M238 206h0M259 210h0M276 207h0M64 224h0M85 223h0M137 223h0M154 220h0M170 225h0M192 223h0M210 226h0M233 224h0M266 226h0M304 228h0M91 241h0M128 241h0M144 239h0M164 241h0M183 239h0M204 241h0M239 243h0M277 241h0M45 257h0M116 255h0M191 255h0M209 256h0M228 253h0M251 259h0M36 276h0M75 273h0M128 271h0M146 275h0M165 271h0M184 272h0M220 271h0M238 270h0M272 272h0M297 269h0M24 292h0M48 286h0M62 286h0M82 286h0M100 292h0M120 287h0M138 286h0M157 286h0M176 291h0M190 290h0M214 292h0M233 290h0M250 287h0M33 308h0M55 304h0M71 307h0M90 304h0M105 304h0M127 307h0M149 307h0M162 305h0M202 305h0M275 309h0M41 317h0M83 320h0M122 322h0M155 323h0M190 320h0M230 317h0M244 323h0" stroke="#2893b3" stroke-width="11" stroke-linecap="round"/><path d="M213 111l25 3M213 111l1 17M48 125l17 4M48 125l3 20M133 260l13 15M53 267l22 6M202 274l18 -3M202 274l12 18M66 318l17 2" stroke="#e8606a" stroke-width="6.5"/><path d="M213 111h0M48 125h0M133 260h0M53 267h0M202 274h0M66 318h0" stroke="#e8606a" stroke-width="11" stroke-linecap="round"/><path d="M306 96l4 16M148 112l15 2M148 112l11 16M185 114l17 -2M185 114l3 15M263 112l-19 17M263 112l1 16M244 129l20 -1M244 129l-7 16M128 143l-8 16M128 143l8 15M180 147l21 0M180 147l-6 12M180 147l12 13M220 141l17 4M38 176l16 -1M38 176l6 18M146 177l21 -1M146 177l13 18M201 177l17 3M201 177l-10 16M201 177l11 16M218 180l19 0M218 180l-6 13M44 194l15 2M44 194l-8 15M44 194l12 15M82 189l19 3M82 189l-7 16M82 189l9 18M121 194l16 -1M266 192l-7 18M36 209l10 16M46 225l18 -1M46 225l10 16M99 228l21 -4M120 224l17 -1M246 223l20 3M56 241l-11 16M56 241l6 11M75 237l16 4M75 237l-13 15M257 238l-6 21M62 252l-9 15M62 252l13 21M265 258l-5 16M265 258l7 14M111 269l17 2M111 269l-11 23M111 269l9 18M260 274l12 -2M260 274l-10 13M187 304l15 1M187 304l-13 16M187 304l3 16M217 304l22 1M217 304l-7 18M217 304l13 13M239 305l19 0M239 305l-9 12M239 305l5 18M258 305l-14 18M258 305l6 12M99 321l23 1M140 318l15 5M174 320l16 0M210 322l20 -5" stroke="#217f9e" stroke-width="6.5"/><path d="M120 68h0M306 96h0M148 112h0M185 114h0M263 112h0M244 129h0M128 143h0M180 147h0M220 141h0M38 176h0M146 177h0M201 177h0M218 180h0M44 194h0M82 189h0M121 194h0M212 193h0M266 192h0M36 209h0M46 225h0M99 228h0M120 224h0M246 223h0M56 241h0M75 237h0M257 238h0M62 252h0M265 258h0M111 269h0M260 274h0M187 304h0M217 304h0M239 305h0M258 305h0M99 321h0M140 318h0M174 320h0M210 322h0M264 317h0" stroke="#217f9e" stroke-width="11" stroke-linecap="round"/><rect x="26" y="100" width="250" height="230" stroke="#aaa" stroke-width="4"/></g>
<g transform="translate(181.6,207.29999999999998) scale(0.1)" fill="none"><rect x="26" y="100" width="250" height="230" fill="#d4ecf2"/><path d="M62 64h250v230h-250zM26 100l36 -36M276 100l36 -36M276 330l36 -36M26 330l36 -36" stroke="#a8a8a8" stroke-width="4"/><path d="M79 64l20 2M148 76l9 22M183 76l-6 21M222 78l7 18M45 99l-9 16M45 99l10 13M157 98l-12 18M157 98l11 15M177 97l7 19M229 96l-8 18M229 96l9 17M268 100l-10 13M36 115l19 -3M36 115l-10 14M36 115l10 11M55 112l19 5M55 112l-9 14M55 112l11 13M74 117l18 -5M74 117l-8 8M110 112l-10 18M145 116l23 -3M145 116l12 13M168 113l16 3M168 113l-11 16M168 113l2 17M184 116l21 -4M205 112l16 2M205 112l-11 13M205 112l7 12M221 114l-9 10M238 113l20 0M238 113l10 15M258 113l-10 15M258 113l7 14M314 111l-10 20M26 129l20 -3M26 129l14 19M46 126l-6 22M46 126l7 20M66 125l5 20M100 130l19 1M100 130l-8 14M100 130l12 13M194 125l18 -1M194 125l-8 20M212 124l-8 20M212 124l6 21M231 128l17 0M231 128l-13 17M248 128l17 -1M248 128l7 14M265 127l-10 15M92 144l20 -1M92 144l-11 17M112 143l17 3M112 143l-11 15M112 143l5 16M146 143l19 0M146 143l12 17M165 143l21 2M165 143l-7 17M165 143l13 19M186 145l-8 17M204 144l-11 16M204 144l9 19M218 145l-5 18M218 145l10 16M46 160l17 -1M46 160l-11 16M46 160l7 18M63 159l18 2M63 159l-10 19M63 159l9 17M81 161l-9 15M81 161l8 14M101 158l16 1M101 158l10 18M117 159l24 0M141 159l-13 16M178 162l-19 14M213 163l15 -2M213 163l8 13M265 163l-8 12M53 178l19 -2M53 178l-8 16M53 178l9 14M72 176l17 -1M72 176l-10 16M72 176l9 17M89 175l22 1M111 176l17 -1M143 175l-7 19M143 175l9 15M159 176l26 -2M159 176l-7 14M159 176l16 13M185 174l-10 15M221 176l-9 17M221 176l4 16M238 172l-13 20M238 172l14 23M257 175l-5 20M257 175l11 14M28 190l17 4M45 194l17 -2M45 194l7 13M62 192l-10 15M81 193l17 3M81 193l-10 13M81 193l12 18M98 196l17 -4M98 196l-5 15M98 196l11 9M136 194l16 -4M136 194l-10 14M152 190l13 15M175 189l-10 16M175 189l5 21M191 191l21 2M191 191l11 19M212 193l13 -1M212 193l-10 17M212 193l7 14M225 192l-6 15M225 192l18 18M35 208l17 -1M93 211l16 -6M93 211l5 16M109 205l17 3M109 205l-11 22M109 205l7 21M126 208l-10 18M202 210l17 -3M202 210l-6 11M202 210l8 15M243 210l17 0M243 210l4 12M260 210l14 -1M260 210l-13 12M260 210l10 17M274 209l-4 18M44 225l-10 16M44 225l12 18M83 227l15 0M83 227l-12 13M98 227l11 12M135 228l-11 7M135 228l8 14M156 226l23 1M156 226l-13 16M156 226l6 13M179 227l17 -6M179 227l-17 12M179 227l3 11M210 225l19 -2M229 223l-10 19M229 223l10 14M247 222l23 5M247 222l-8 15M270 227l-14 15M56 243l15 -3M56 243l-13 13M71 240l-7 17M90 244l19 -5M90 244l8 9M109 239l15 -4M109 239l-11 14M109 239l10 15M124 235l12 21M143 242l16 15M162 239l20 -1M162 239l-3 18M162 239l15 19M182 238l18 3M182 238l-5 20M182 238l9 22M219 242l20 -5M219 242l-9 17M239 237l17 5M239 237l5 20M256 242l10 20M28 253l15 3M28 253l5 18M43 256l21 1M43 256l-10 15M43 256l10 14M98 253l21 1M98 253l-8 20M98 253l12 19M119 254l17 2M119 254l8 20M159 257l18 1M159 257l-11 14M177 258l14 2M177 258l6 17M210 259l-3 15M210 259l11 19M244 257l22 5M244 257l-2 16M33 271l20 -1M33 271l11 17M90 273l20 -1M90 273l8 16M127 274l21 -3M127 274l-12 15M127 274l5 10M148 271l9 19M183 275l-11 13M183 275l11 15M207 274l14 4M207 274l-13 16M207 274l2 14M221 278l4 8M278 271l13 0M278 271l-10 17M278 271l6 18M291 271l-7 18M30 289l7 12M87 289l11 0M87 289l-16 15M98 289l17 0M98 289l-8 17M115 289l13 17M132 284l25 6M132 284l17 18M157 290l15 -2M157 290l-8 12M209 288l16 -2M209 288l-9 16M209 288l12 18M225 286l21 2M225 286l-4 20M225 286l10 25M268 288l16 1M268 288l-11 15M284 289l10 18M37 301l15 2M37 301l-7 20M52 303l-5 17M52 303l14 17M128 306l7 16M149 302l-14 20M221 306l14 5M221 306l-8 14M221 306l6 16M235 311l22 -8M235 311l-8 11M47 320l19 0M66 320l11 -1M155 324l20 -2" stroke="#2893b3" stroke-width="6.5"/><path d="M79 64h0M99 66h0M286 63h0M148 76h0M183 76h0M222 78h0M313 83h0M45 99h0M157 98h0M177 97h0M229 96h0M268 100h0M36 115h0M55 112h0M74 117h0M110 112h0M145 116h0M168 113h0M184 116h0M205 112h0M221 114h0M238 113h0M258 113h0M314 111h0M26 129h0M46 126h0M66 125h0M100 130h0M119 131h0M157 129h0M194 125h0M212 124h0M231 128h0M248 128h0M265 127h0M304 131h0M53 146h0M92 144h0M112 143h0M146 143h0M165 143h0M186 145h0M204 144h0M218 145h0M46 160h0M63 159h0M81 161h0M101 158h0M117 159h0M141 159h0M178 162h0M213 163h0M265 163h0M53 178h0M72 176h0M89 175h0M111 176h0M143 175h0M159 176h0M185 174h0M221 176h0M238 172h0M257 175h0M28 190h0M45 194h0M62 192h0M81 193h0M98 196h0M136 194h0M152 190h0M175 189h0M191 191h0M212 193h0M225 192h0M268 189h0M35 208h0M93 211h0M109 205h0M126 208h0M202 210h0M243 210h0M260 210h0M274 209h0M44 225h0M83 227h0M98 227h0M135 228h0M156 226h0M179 227h0M210 225h0M229 223h0M247 222h0M270 227h0M56 243h0M71 240h0M90 244h0M109 239h0M124 235h0M143 242h0M162 239h0M182 238h0M219 242h0M239 237h0M256 242h0M28 253h0M43 256h0M64 257h0M98 253h0M119 254h0M159 257h0M177 258h0M210 259h0M244 257h0M33 271h0M53 270h0M90 273h0M127 274h0M148 271h0M183 275h0M207 274h0M221 278h0M278 271h0M291 271h0M30 289h0M87 289h0M98 289h0M115 289h0M132 284h0M157 290h0M172 288h0M209 288h0M225 286h0M268 288h0M284 289h0M37 301h0M52 303h0M128 306h0M149 302h0M221 306h0M235 311h0M30 321h0M47 320h0M66 320h0M100 320h0M155 324h0M175 322h0M192 319h0" stroke="#2893b3" stroke-width="11" stroke-linecap="round"/><path d="M127 109l18 7M127 109l-8 22M127 109l7 20M134 129l23 0M134 129l12 14M185 307l15 -3M185 307l-10 15M185 307l7 12" stroke="#e8606a" stroke-width="6.5"/><path d="M127 109h0M134 129h0M185 307h0" stroke="#e8606a" stroke-width="11" stroke-linecap="round"/><path d="M174 66l9 10M55 79l-10 20M204 83l18 -5M92 112l18 0M92 112l8 18M170 130l24 -5M170 130l-5 13M170 130l16 15M40 148l13 -2M40 148l6 12M71 145l21 -1M71 145l-8 14M71 145l10 16M129 146l17 -3M129 146l12 13M255 142l-10 16M255 142l10 21M158 160l-15 15M158 160l1 16M193 160l-8 14M228 161l-7 15M245 158l20 5M245 158l-7 14M245 158l12 17M35 176l18 2M35 176l-7 14M35 176l10 18M128 175l15 0M128 175l-13 17M128 175l8 19M115 192l21 2M115 192l-6 13M115 192l11 16M252 195l16 -6M252 195l-9 15M252 195l8 15M52 207l19 -1M52 207l-8 18M52 207l12 18M71 206l22 5M71 206l12 21M165 205l15 5M165 205l-9 21M165 205l14 22M180 210l-1 17M219 207l24 3M219 207l10 16M27 224l17 1M64 225l-8 18M64 225l7 15M116 226l19 2M116 226l-7 13M116 226l8 9M196 221l14 4M34 241l22 2M34 241l-6 12M34 241l9 15M200 241l19 1M200 241l10 18M136 256l23 1M136 256l12 15M191 260l19 -1M191 260l-8 15M191 260l16 14M266 262l12 9M74 272l13 17M110 272l17 2M110 272l-12 17M110 272l5 17M242 273l-17 13M242 273l4 15M44 288l-7 13M44 288l8 15M194 290l-9 17M194 290l6 14M246 288l22 0M246 288l-11 23M246 288l11 15M71 304l-5 16M71 304l6 15M90 306l10 14M165 304l20 3M165 304l-10 20M257 303l-9 17M120 320l15 2M135 322l20 2M227 322l21 -2" stroke="#217f9e" stroke-width="6.5"/><path d="M174 66h0M55 79h0M204 83h0M291 80h0M92 112h0M170 130h0M40 148h0M71 145h0M129 146h0M255 142h0M158 160h0M193 160h0M228 161h0M245 158h0M35 176h0M128 175h0M115 192h0M252 195h0M52 207h0M71 206h0M165 205h0M180 210h0M219 207h0M27 224h0M64 225h0M116 226h0M196 221h0M34 241h0M200 241h0M136 256h0M191 260h0M266 262h0M74 272h0M110 272h0M242 273h0M44 288h0M194 290h0M246 288h0M71 304h0M90 306h0M165 304h0M200 304h0M257 303h0M294 307h0M77 319h0M120 320h0M135 322h0M213 320h0M227 322h0M248 320h0" stroke="#217f9e" stroke-width="11" stroke-linecap="round"/><rect x="26" y="100" width="250" height="230" stroke="#aaa" stroke-width="4"/></g>
<g transform="translate(38.0,243.2) scale(0.1)" fill="none"><path d="M62 64h250v230h-250zM26 100l36 -36M276 100l36 -36M276 330l36 -36M26 330l36 -36" stroke="#a8a8a8" stroke-width="4"/><path d="M227 64l-1 16M226 80l-18 19M190 91l18 8M190 91l11 19M208 99l15 13M74 113l16 -4M74 113l-11 17M109 113l12 14M128 114l-7 13M223 112l-11 13M223 112l7 15M42 130l21 0M121 127l-10 15M121 127l12 20M192 124l20 1M192 124l-8 16M192 124l11 22M230 127l-12 20M230 127l9 18M265 125l11 17M93 141l18 1M93 141l4 22M111 142l22 5M111 142l5 15M133 147l-17 10M203 146l15 1M203 146l-13 15M203 146l7 16M239 145l-11 16M81 161l16 2M81 161l-6 14M116 157l-7 18M116 157l14 26M210 162l18 -1M210 162l-7 11M281 162l-10 13M37 175l5 14M109 175l21 8M109 175l-14 18M109 175l7 16M130 183l-14 8M225 172l-18 21M225 172l5 17M271 175l-6 18M78 193l12 13M95 193l21 -2M95 193l15 16M191 191l16 2M191 191l-6 16M207 193l23 -4M207 193l-10 16M230 189l8 19M90 206l20 3M90 206l-10 22M110 209l19 -3M161 207l24 0M197 209l25 -2M197 209l-9 14M197 209l13 15M238 208l-8 16M64 223l16 5M80 228l10 15M210 224l20 0M210 224l-9 16M210 224l14 18M230 224l-6 18M90 243l15 -8M90 243l-9 12M90 243l8 12M105 235l17 8M105 235l-7 20M105 235l12 23M122 243l-5 15M163 238l21 -1M184 237l17 3M184 237l11 18M224 242l-16 16M63 256l18 -1M63 256l-9 16M81 255l17 0M81 255l9 20M117 258l16 -4M117 258l-10 18M117 258l13 17M195 255l13 3M195 255l-16 19M195 255l9 18M107 276l23 -1M107 276l-10 9M107 276l9 12M130 275l6 13M179 274l25 -1M179 274l-4 16M179 274l16 16M204 273l-9 17M116 288l20 0M116 288l-9 16M116 288l11 18M136 288l18 -2M195 290l3 15M91 306l16 -2M91 306l11 12M107 304l20 2M107 304l-5 14M107 304l13 20M127 306l-7 18M127 306l6 16M183 305l15 0M183 305l-7 17M183 305l8 12M198 305l-7 12" stroke="#2893b3" stroke-width="6.5"/><path d="M175 64h0M227 64h0M226 80h0M190 91h0M208 99h0M248 101h0M74 113h0M109 113h0M128 114h0M166 112h0M223 112h0M42 130h0M63 130h0M121 127h0M192 124h0M230 127h0M265 125h0M93 141h0M111 142h0M133 147h0M203 146h0M239 145h0M81 161h0M116 157h0M190 161h0M210 162h0M281 162h0M37 175h0M109 175h0M130 183h0M225 172h0M271 175h0M42 189h0M78 193h0M95 193h0M191 191h0M207 193h0M230 189h0M90 206h0M110 209h0M161 207h0M197 209h0M238 208h0M64 223h0M80 228h0M210 224h0M230 224h0M90 243h0M105 235h0M122 243h0M163 238h0M184 237h0M224 242h0M63 256h0M81 255h0M117 258h0M133 254h0M195 255h0M253 257h0M54 272h0M107 276h0M130 275h0M179 274h0M204 273h0M220 274h0M116 288h0M136 288h0M195 290h0M244 284h0M56 300h0M91 306h0M107 304h0M127 306h0M183 305h0M198 305h0M102 318h0M120 324h0M133 322h0M209 320h0M265 320h0" stroke="#2893b3" stroke-width="11" stroke-linecap="round"/><path d="M276 142l5 20M90 275l-10 13M90 275l7 10" stroke="#e8606a" stroke-width="6.5"/><path d="M276 142h0M90 275h0" stroke="#e8606a" stroke-width="11" stroke-linecap="round"/><path d="M54 110l20 3M54 110l-12 20M201 110l22 2M201 110l-9 14M212 125l-9 21M212 125l6 22M184 140l6 21M218 147l21 -2M97 163l-6 12M97 163l12 12M228 161l-3 11M75 175l16 0M75 175l3 18M91 175l18 0M91 175l-13 18M203 173l22 -1M203 173l4 20M116 191l13 15M129 206l-12 15M185 207l12 2M185 207l3 16M222 207l16 1M222 207l-12 17M222 207l8 17M117 221l5 22M188 223l13 17M201 240l7 18M98 255l19 3M98 255l9 21M175 257l20 -2M175 257l4 17M208 258l-4 15M208 258l12 16M70 273l20 2M70 273l10 15M97 285l10 19M154 286l21 4M175 290l20 0M175 290l8 15M211 282l-13 23M176 322l15 -5M191 317l18 3" stroke="#217f9e" stroke-width="6.5"/><path d="M54 110h0M90 109h0M201 110h0M212 125h0M184 140h0M218 147h0M97 163h0M228 161h0M75 175h0M91 175h0M203 173h0M116 191h0M265 193h0M129 206h0M185 207h0M222 207h0M117 221h0M188 223h0M201 240h0M98 255h0M175 257h0M208 258h0M70 273h0M80 288h0M97 285h0M154 286h0M175 290h0M211 282h0M176 322h0M191 317h0" stroke="#217f9e" stroke-width="11" stroke-linecap="round"/><rect x="26" y="100" width="250" height="230" stroke="#aaa" stroke-width="4"/></g>
<g transform="translate(73.9,243.2) scale(0.1)" fill="none"><path d="M62 64h250v230h-250zM26 100l36 -36M276 100l36 -36M276 330l36 -36M26 330l36 -36" stroke="#a8a8a8" stroke-width="4"/><path d="M64 63l7 15M229 64l-7 14M229 64l8 17M71 78l14 20M222 78l15 3M222 78l5 21M237 81l-10 18M85 98l14 2M85 98l7 10M99 100l-7 8M99 100l12 13M227 99l-7 13M34 113l12 14M52 111l20 -1M52 111l-6 16M72 110l20 -2M92 108l19 5M92 108l8 23M111 113l7 17M134 111l-16 19M134 111l5 16M165 112l17 2M165 112l-10 19M165 112l5 17M182 114l22 0M204 114l9 16M220 112l22 5M220 112l-7 18M220 112l11 18M100 131l18 -1M100 131l-8 12M100 131l5 13M118 130l21 -3M139 127l16 4M155 131l15 -2M231 130l14 -1M231 130l9 12M71 143l21 0M71 143l8 14M105 144l24 2M105 144l13 15M129 146l-11 13M258 142l-8 17M42 161l21 -4M42 161l-7 19M63 157l-9 22M63 157l8 20M79 157l-8 20M79 157l10 19M272 163l3 8M71 177l18 -1M71 177l13 16M89 176l-5 17M89 176l10 15M27 195l14 -5M65 188l-12 20M84 193l15 -2M99 191l-8 14M53 208l-14 16M53 208l10 17M91 205l-12 18M91 205l10 20M297 205l-14 23M297 205l6 21M39 224l24 1M39 224l16 16M79 223l22 2M79 223l-8 20M79 223l11 17M101 225l-11 15M101 225l7 17M269 222l14 6M269 222l-12 16M269 222l6 14M55 240l16 3M55 240l-9 20M71 243l-8 12M71 243l9 10M108 242l-8 13M257 238l18 -2M257 238l-8 18M257 238l12 22M310 242l-7 11M46 260l17 -5M46 260l9 16M63 255l-8 21M80 253l20 2M80 253l-9 20M80 253l11 19M100 255l-9 17M116 257l-4 14M116 257l13 18M303 253l9 23M55 276l16 -3M55 276l-11 15M71 273l20 -1M71 273l-8 15M71 273l11 14M112 271l17 4M129 275l18 -6M129 275l8 11M147 269l-10 17M164 274l12 15M201 270l-9 16M201 270l9 19M222 271l18 2M44 291l-9 10M44 291l8 13M82 287l-11 16M82 287l10 16M137 286l17 6M137 286l-8 20M176 289l16 -3M192 286l18 3M192 286l-7 16M210 289l15 10M231 284l-6 15M231 284l2 24M247 287l-14 21M247 287l9 16M35 301l17 3M35 301l-11 20M52 304l19 -1M52 304l-10 17M52 304l10 16M71 303l21 0M71 303l-9 17M92 303l-14 14M109 305l20 1M129 306l14 0M129 306l-8 16M143 306l13 14M202 308l-5 16M202 308l8 10M225 299l8 9M225 299l-15 19M225 299l4 23M256 303l-7 18M42 321l20 -1M62 320l16 -3" stroke="#2893b3" stroke-width="6.5"/><path d="M64 63h0M229 64h0M71 78h0M149 84h0M222 78h0M237 81h0M85 98h0M99 100h0M227 99h0M34 113h0M52 111h0M72 110h0M92 108h0M111 113h0M134 111h0M165 112h0M182 114h0M204 114h0M220 112h0M242 117h0M46 127h0M100 131h0M118 130h0M139 127h0M155 131h0M231 130h0M71 143h0M105 144h0M129 146h0M258 142h0M42 161h0M63 157h0M79 157h0M102 154h0M118 159h0M272 163h0M71 177h0M89 176h0M275 171h0M310 175h0M27 195h0M65 188h0M84 193h0M99 191h0M53 208h0M91 205h0M123 206h0M297 205h0M39 224h0M79 223h0M101 225h0M247 225h0M269 222h0M55 240h0M71 243h0M108 242h0M183 238h0M257 238h0M310 242h0M46 260h0M63 255h0M80 253h0M100 255h0M116 257h0M303 253h0M55 276h0M71 273h0M112 271h0M129 275h0M147 269h0M164 274h0M201 270h0M222 271h0M260 276h0M44 291h0M82 287h0M137 286h0M176 289h0M192 286h0M210 289h0M231 284h0M247 287h0M285 284h0M35 301h0M52 304h0M71 303h0M92 303h0M109 305h0M129 306h0M143 306h0M202 308h0M225 299h0M256 303h0M24 321h0M42 321h0M62 320h0M78 317h0M121 322h0M174 324h0M197 324h0M270 318h0" stroke="#2893b3" stroke-width="11" stroke-linecap="round"/><path d="M35 180l19 -1M35 180l-8 15M35 180l6 10M63 288l19 -1M63 288l-11 16M154 292l22 -3" stroke="#e8606a" stroke-width="6.5"/><path d="M35 180h0M63 288h0M154 292h0" stroke="#e8606a" stroke-width="11" stroke-linecap="round"/><path d="M260 112l-15 17M213 130l18 0M245 129l-5 13M245 129l13 13M27 145l15 16M92 143l13 1M92 143l-13 14M92 143l10 11M240 142l18 0M24 161l18 0M250 159l22 4M305 159l5 16M54 179l-13 11M54 179l11 9M41 190l24 -2M41 190l12 18M72 205l19 0M72 205l7 18M63 225l16 -2M63 225l-8 15M63 225l8 18M283 228l20 -2M283 228l-8 8M90 240l10 15M275 236l-6 24M249 256l20 4M249 256l-9 17M249 256l11 20M269 260l-9 16M32 272l23 4M32 272l12 19M240 273l20 3M240 273l-9 11M240 273l7 14M185 302l12 22M233 308l23 -5M233 308l-4 14M156 320l18 4M210 318l19 4M229 322l20 -1" stroke="#217f9e" stroke-width="6.5"/><path d="M260 112h0M170 129h0M213 130h0M245 129h0M27 145h0M92 143h0M240 142h0M24 161h0M250 159h0M305 159h0M54 179h0M41 190h0M72 205h0M63 225h0M283 228h0M303 226h0M90 240h0M204 239h0M275 236h0M249 256h0M269 260h0M32 272h0M91 272h0M240 273h0M312 276h0M185 302h0M233 308h0M296 305h0M156 320h0M210 318h0M229 322h0M249 321h0" stroke="#217f9e" stroke-width="11" stroke-linecap="round"/><rect x="26" y="100" width="250" height="230" stroke="#aaa" stroke-width="4"/></g>
<g transform="translate(109.8,243.2) scale(0.1)" fill="none"><path d="M62 64h250v230h-250zM26 100l36 -36M276 100l36 -36M276 330l36 -36M26 330l36 -36" stroke="#a8a8a8" stroke-width="4"/><path d="M276 78l11 17M203 109l19 2M203 109l-10 20M222 111l17 1M239 112l18 3M239 112l-10 17M239 112l8 19M257 115l-10 16M193 129l-9 14M193 129l4 11M229 129l18 2M229 129l-8 12M229 129l6 17M247 131l20 -3M247 131l-12 15M247 131l10 12M267 128l9 19M281 127l-5 20M197 140l-3 19M221 141l14 5M221 141l-10 21M221 141l9 22M235 146l22 -3M235 146l-5 17M235 146l13 10M257 143l19 4M257 143l-9 13M276 147l-12 11M194 159l17 3M194 159l-8 16M194 159l8 20M230 163l18 -7M230 163l7 12M248 156l16 2M248 156l-11 19M248 156l11 22M164 177l22 -2M164 177l11 10M202 179l14 -1M202 179l-14 12M202 179l7 14M216 178l21 -3M216 178l-7 15M216 178l9 15M237 175l-12 18M237 175l10 17M259 178l-12 14M259 178l5 12M175 187l13 4M175 187l-13 23M175 187l6 20M188 191l21 2M188 191l-7 16M188 191l15 22M209 193l16 0M209 193l-6 20M225 193l22 -1M225 193l-9 18M225 193l15 15M162 210l19 -3M162 210l15 14M181 207l-4 17M181 207l9 18M216 211l24 -3M216 211l0 14M240 208l13 -3M240 208l9 14M177 224l13 1M177 224l-11 12M233 226l16 -4M233 226l-12 10M166 236l-11 20M166 236l10 19M203 239l18 -3M203 239l-14 16M203 239l12 14M221 236l18 5M221 236l-6 17M121 257l14 -3M121 257l6 19M135 254l-8 22M135 254l11 17M155 256l21 -1M155 256l-9 15M176 255l13 0M176 255l-12 16M176 255l8 17M189 255l26 -2M189 255l-5 17M215 253l4 19M90 271l10 12M110 275l17 1M110 275l-10 8M127 276l19 -5M127 276l11 15M164 271l20 1M164 271l6 18M184 272l-14 17M184 272l9 13M219 272l-7 16M219 272l10 17M81 287l19 -4M81 287l12 17M138 291l-15 14M138 291l10 15M170 289l23 -4M170 289l-6 12M170 289l10 17M193 285l19 3M193 285l-13 21M193 285l8 20M54 303l-9 20M54 303l8 14M123 305l25 1M123 305l-7 17M123 305l16 15M148 306l16 -5M148 306l-9 14M148 306l9 11M164 301l16 5M164 301l-7 16M164 301l12 19M180 306l21 -1M180 306l11 15M201 305l-10 16M219 302l-9 19M45 323l17 -6M116 322l23 -2M157 317l19 3M176 320l15 1" stroke="#2893b3" stroke-width="6.5"/><path d="M242 79h0M276 78h0M249 95h0M287 95h0M203 109h0M222 111h0M239 112h0M257 115h0M193 129h0M229 129h0M247 131h0M267 128h0M281 127h0M197 140h0M221 141h0M235 146h0M257 143h0M276 147h0M194 159h0M230 163h0M248 156h0M107 179h0M164 177h0M202 179h0M216 178h0M237 175h0M259 178h0M175 187h0M188 191h0M209 193h0M225 193h0M162 210h0M181 207h0M216 211h0M240 208h0M177 224h0M233 226h0M249 222h0M166 236h0M203 239h0M221 236h0M239 241h0M121 257h0M135 254h0M155 256h0M176 255h0M189 255h0M215 253h0M90 271h0M110 275h0M127 276h0M146 271h0M164 271h0M184 272h0M219 272h0M81 287h0M138 291h0M170 289h0M193 285h0M54 303h0M93 304h0M123 305h0M148 306h0M164 301h0M180 306h0M201 305h0M219 302h0M45 323h0M62 317h0M116 322h0M139 320h0M157 317h0M176 320h0M191 321h0M210 321h0" stroke="#2893b3" stroke-width="11" stroke-linecap="round"/><path d="M253 205l-4 17" stroke="#e8606a" stroke-width="6.5"/><path d="M253 205h0" stroke="#e8606a" stroke-width="11" stroke-linecap="round"/><path d="M183 113l20 -4M183 113l-7 16M183 113l10 16M176 129l17 0M176 129l8 14M184 143l13 -3M184 143l-8 17M184 143l10 16M176 160l18 -1M176 160l-12 17M176 160l10 15M211 162l19 1M211 162l-9 17M264 158l-5 20M186 175l16 4M186 175l-11 12M247 192l17 -2M247 192l-7 16M264 190l-11 15M203 213l13 -2M203 213l13 12M190 225l26 0M190 225l13 14M216 225l17 1M216 225l-13 14M216 225l5 11M141 240l25 -4M141 240l14 16M65 288l16 -1M65 288l-11 15M100 283l-7 21M212 288l17 1M212 288l-11 17M229 289l-10 13" stroke="#217f9e" stroke-width="6.5"/><path d="M183 113h0M176 129h0M212 128h0M184 143h0M176 160h0M211 162h0M264 158h0M186 175h0M247 192h0M264 190h0M203 213h0M190 225h0M216 225h0M141 240h0M65 288h0M100 283h0M212 288h0M229 289h0" stroke="#217f9e" stroke-width="11" stroke-linecap="round"/><rect x="26" y="100" width="250" height="230" stroke="#aaa" stroke-width="4"/></g>
<g transform="translate(145.7,243.2) scale(0.1)" fill="none"><rect x="26" y="100" width="250" height="230" fill="#d4ecf2"/><path d="M62 64h250v230h-250zM26 100l36 -36M276 100l36 -36M276 330l36 -36M26 330l36 -36" stroke="#a8a8a8" stroke-width="4"/><path d="M276 77l14 5M276 77l11 23M290 82l-3 18M173 98l-6 14M173 98l12 14M228 97l-12 20M35 112l-8 17M91 111l19 1M91 111l-10 17M91 111l6 17M110 112l-13 16M110 112l10 20M143 110l-4 18M143 110l12 20M185 112l14 0M199 112l17 5M199 112l12 16M216 117l13 14M236 113l-7 18M236 113l7 16M257 109l-14 20M257 109l9 15M81 128l16 0M139 128l16 2M155 130l19 -2M155 130l12 19M174 128l14 -1M211 128l18 3M211 128l-15 17M229 131l14 -2M243 129l23 -5M243 129l-2 17M266 124l-7 20M113 145l15 2M113 145l-12 15M113 145l2 14M128 147l-13 12M128 147l15 15M196 145l-2 18M241 146l18 -2M241 146l4 16M259 144l-14 18M46 162l-10 14M46 162l8 14M101 160l14 -1M101 160l7 17M115 159l28 3M115 159l13 14M143 162l9 -1M143 162l-15 11M143 162l3 13M152 161l24 0M152 161l-6 14M152 161l16 17M176 161l11 14M245 162l-8 13M245 162l12 16M36 176l18 0M108 177l20 -4M108 177l-8 15M128 173l18 2M128 173l10 18M146 175l22 3M146 175l-8 16M168 178l19 -3M187 175l-11 18M187 175l3 16M222 176l15 -1M222 176l-10 13M222 176l7 15M237 175l20 3M237 175l-8 16M237 175l13 20M257 178l-7 17M257 178l8 18M273 182l-8 14M64 188l-6 18M64 188l10 19M176 193l14 -2M176 193l-12 18M176 193l5 18M190 191l22 -2M190 191l-9 20M190 191l12 20M212 189l-10 22M212 189l9 19M229 191l21 4M229 191l-8 17M229 191l10 14M250 195l-11 10M250 195l9 14M30 209l28 -3M30 209l13 13M74 207l17 1M74 207l-11 22M74 207l12 18M111 210l18 0M111 210l-13 13M111 210l5 12M129 210l20 -4M129 210l-13 12M129 210l9 15M149 206l15 5M149 206l6 19M164 211l17 0M164 211l-9 14M181 211l21 0M239 205l20 4M239 205l-8 19M239 205l12 21M259 209l-8 17M259 209l7 18M43 222l14 18M63 229l-6 11M63 229l11 13M98 223l18 -1M98 223l-4 21M116 222l22 3M191 228l23 -5M191 228l-7 14M214 223l17 1M231 224l20 2M231 224l10 14M251 226l-10 12M251 226l7 14M266 227l-8 13M35 242l22 -2M57 240l17 2M57 240l-15 16M74 242l20 2M74 242l3 13M184 242l-13 13M184 242l10 15M221 241l20 -3M221 241l7 16M258 240l-11 16M258 240l11 14M97 254l-4 17M97 254l13 20M155 255l-6 15M155 255l14 20M171 255l-2 20M171 255l9 14M194 257l-14 12M210 254l18 3M210 254l9 21M247 256l-6 19M247 256l7 16M54 272l14 1M54 272l-8 18M54 272l8 15M68 273l-6 14M68 273l13 16M110 274l-6 15M169 275l11 -6M169 275l-13 11M169 275l0 14M219 275l-8 16M219 275l11 13M254 272l-9 15M254 272l13 19M81 289l23 0M81 289l-9 13M104 289l14 2M104 289l7 15M118 291l18 -5M156 286l13 3M156 286l-13 19M156 286l9 18M169 289l21 -3M169 289l-4 15M169 289l12 19M190 286l-9 22M190 286l9 20M211 291l-12 15M211 291l8 14M245 287l22 4M245 287l14 18M267 291l20 -1M72 302l20 3M72 302l-12 20M72 302l12 19M92 305l19 -1M92 305l-8 16M92 305l6 17M143 305l22 -1M143 305l11 12M181 308l-6 11M181 308l8 13M199 306l-10 15M199 306l12 15M219 305l-8 16M219 305l12 15M239 303l20 2M259 305l-10 16M31 321l15 0M46 321l14 1M84 321l14 1M98 322l24 -1M135 321l19 -4M154 317l21 2M175 319l14 2M189 321l22 0" stroke="#2893b3" stroke-width="6.5"/><path d="M139 63h0M276 77h0M290 82h0M173 98h0M228 97h0M35 112h0M91 111h0M110 112h0M143 110h0M185 112h0M199 112h0M216 117h0M236 113h0M257 109h0M27 129h0M81 128h0M139 128h0M155 130h0M174 128h0M211 128h0M229 131h0M243 129h0M266 124h0M113 145h0M128 147h0M196 145h0M241 146h0M259 144h0M46 162h0M101 160h0M115 159h0M143 162h0M152 161h0M176 161h0M194 163h0M245 162h0M36 176h0M108 177h0M128 173h0M146 175h0M168 178h0M187 175h0M222 176h0M237 175h0M257 178h0M273 182h0M64 188h0M100 192h0M176 193h0M190 191h0M212 189h0M229 191h0M250 195h0M30 209h0M74 207h0M111 210h0M129 210h0M149 206h0M164 211h0M181 211h0M239 205h0M259 209h0M43 222h0M63 229h0M98 223h0M116 222h0M191 228h0M214 223h0M231 224h0M251 226h0M266 227h0M35 242h0M57 240h0M74 242h0M184 242h0M221 241h0M258 240h0M291 242h0M97 254h0M155 255h0M171 255h0M194 257h0M210 254h0M247 256h0M54 272h0M68 273h0M93 271h0M110 274h0M169 275h0M219 275h0M254 272h0M62 287h0M81 289h0M104 289h0M118 291h0M136 286h0M156 286h0M169 289h0M190 286h0M211 291h0M245 287h0M267 291h0M302 286h0M72 302h0M92 305h0M111 304h0M143 305h0M181 308h0M199 306h0M219 305h0M239 303h0M259 305h0M31 321h0M46 321h0M60 322h0M84 321h0M98 322h0M135 321h0M154 317h0M175 319h0M189 321h0M211 321h0M231 320h0" stroke="#2893b3" stroke-width="11" stroke-linecap="round"/><path d="M192 97l-7 15M192 97l7 15M120 132l19 -4M120 132l8 15M155 225l-6 17M155 225l8 13" stroke="#e8606a" stroke-width="6.5"/><path d="M192 97h0M287 100h0M120 132h0M155 225h0" stroke="#e8606a" stroke-width="11" stroke-linecap="round"/><path d="M167 112l18 0M167 112l-12 18M97 128l23 4M97 128l16 17M188 127l23 1M167 149l-15 12M83 160l18 0M83 160l-14 18M54 176l15 2M54 176l10 12M138 191l-9 19M265 196l-6 13M58 206l16 1M58 206l-15 16M58 206l5 23M91 208l20 2M91 208l-5 17M91 208l7 15M202 211l19 -3M202 211l-11 17M202 211l12 12M221 208l18 -3M221 208l-7 15M221 208l10 16M86 225l12 -2M86 225l-12 17M86 225l8 19M138 225l17 0M138 225l11 17M94 244l3 10M149 242l14 -4M149 242l-13 15M149 242l6 13M163 238l21 4M163 238l-8 17M163 238l8 17M241 238l17 2M241 238l-13 19M241 238l6 18M42 256l-5 17M42 256l12 16M77 255l16 16M136 257l19 -2M136 257l13 13M228 257l-9 18M269 254l-15 18M37 273l17 -1M37 273l-9 14M126 273l-8 18M149 270l-13 16M149 270l7 16M180 269l-11 20M180 269l10 17M241 275l13 -3M241 275l4 12M28 287l18 3M230 288l-11 17M230 288l9 15M287 290l15 -4M55 305l-9 16M55 305l5 17M165 304l16 4M165 304l-11 13M249 321l19 -2" stroke="#217f9e" stroke-width="6.5"/><path d="M194 63h0M230 67h0M167 112h0M97 128h0M188 127h0M167 149h0M83 160h0M54 176h0M69 178h0M312 176h0M138 191h0M265 196h0M58 206h0M91 208h0M202 211h0M221 208h0M86 225h0M138 225h0M94 244h0M149 242h0M163 238h0M241 238h0M42 256h0M77 255h0M136 257h0M228 257h0M269 254h0M37 273h0M126 273h0M149 270h0M180 269h0M241 275h0M28 287h0M46 290h0M230 288h0M287 290h0M55 305h0M165 304h0M122 321h0M249 321h0M268 319h0" stroke="#217f9e" stroke-width="11" stroke-linecap="round"/><rect x="26" y="100" width="250" height="230" stroke="#aaa" stroke-width="4"/></g>
<g transform="translate(181.6,243.2) scale(0.1)" fill="none"><rect x="26" y="100" width="250" height="230" fill="#d4ecf2"/><path d="M62 64h250v230h-250zM26 100l36 -36M276 100l36 -36M276 330l36 -36M26 330l36 -36" stroke="#a8a8a8" stroke-width="4"/><path d="M148 81l-7 14M61 94l-7 21M61 94l11 19M100 96l-10 17M100 96l10 19M141 95l-13 17M141 95l2 13M218 94l-19 19M218 94l5 22M283 94l-9 16M37 112l17 3M54 115l18 -2M54 115l-11 8M54 115l10 14M72 113l-8 16M90 113l20 2M90 113l9 17M110 115l-11 15M110 115l7 12M128 112l15 -4M128 112l-11 15M128 112l8 17M169 114l6 13M180 116l19 -3M180 116l-5 11M180 116l10 8M199 113l24 3M199 113l-9 11M223 116l-9 16M223 116l8 13M257 111l17 -1M257 111l-11 18M257 111l9 19M274 110l-8 20M274 110l10 24M27 128l16 -5M64 129l11 18M79 130l20 0M79 130l13 19M99 130l18 -3M99 130l-7 19M117 127l19 2M117 127l-5 19M136 129l-5 17M136 129l13 12M190 124l-7 19M214 132l17 -3M214 132l-13 12M214 132l8 13M246 129l20 1M246 129l15 19M266 130l-5 18M266 130l12 17M284 134l10 10M75 147l-13 9M92 149l20 -3M92 149l-8 13M112 146l4 13M131 146l-15 13M131 146l8 16M149 141l15 9M149 141l9 18M164 150l19 -7M164 150l-6 9M201 144l21 1M201 144l-13 15M201 144l10 18M236 146l25 2M294 144l-8 19M294 144l7 17M26 163l20 -5M62 156l5 18M84 162l18 -2M84 162l-17 12M84 162l5 13M116 159l-9 17M158 159l-12 17M158 159l11 14M176 165l12 -6M176 165l-7 8M176 165l9 12M188 159l23 3M188 159l-3 18M188 159l15 18M211 162l17 0M211 162l-8 15M211 162l9 17M228 162l-8 17M228 162l10 15M286 163l15 -2M34 179l12 14M67 174l22 1M67 174l-7 18M89 175l18 1M89 175l11 17M107 176l-7 16M169 173l-15 20M185 177l-9 15M185 177l6 12M220 179l18 -2M220 179l-6 12M238 177l15 2M238 177l10 16M253 179l-5 14M46 193l-9 15M46 193l10 15M60 192l-4 16M81 192l19 0M81 192l-12 13M81 192l9 16M100 192l18 -3M100 192l-10 16M118 189l17 3M135 192l-7 16M135 192l12 13M176 192l15 -3M176 192l-10 17M191 189l23 2M191 189l-7 20M214 191l-17 13M214 191l2 20M263 193l-2 11M37 208l19 0M37 208l9 13M56 208l-10 13M56 208l8 18M69 205l-5 21M69 205l11 19M90 208l19 2M90 208l-10 16M90 208l12 15M109 210l19 -2M109 210l13 12M128 208l19 -3M128 208l-6 14M128 208l8 15M147 205l19 4M147 205l-11 18M147 205l9 19M166 209l18 0M166 209l5 15M184 209l13 -5M184 209l-13 15M184 209l9 14M216 211l21 -3M216 211l14 9M237 208l-7 12M237 208l12 20M261 204l6 21M46 221l18 5M46 221l-9 21M46 221l6 22M64 226l16 -2M64 226l-12 17M80 224l22 -1M80 224l-6 21M80 224l8 16M102 223l20 -1M102 223l7 19M122 222l14 1M122 222l7 17M136 223l-7 16M136 223l10 13M156 224l15 0M156 224l11 16M230 220l-11 20M230 220l6 21M249 228l18 -3M249 228l-13 13M249 228l10 12M37 242l8 10M52 243l15 16M74 245l14 -5M74 245l9 13M88 240l-5 18M109 242l12 18M129 239l-8 21M129 239l7 16M146 236l21 4M146 236l-10 19M146 236l14 21M167 240l-7 17M167 240l3 15M183 240l-13 15M236 241l23 -1M236 241l10 17M259 240l15 0M259 240l6 16M67 259l16 -1M67 259l5 13M83 258l-11 14M83 258l8 14M121 260l15 -5M121 260l4 13M136 255l12 17M160 257l10 -2M160 257l-12 15M170 255l23 4M170 255l13 19M228 256l18 2M228 256l-10 16M228 256l10 17M265 256l-7 14M303 260l8 11M36 271l17 -2M91 272l16 -1M125 273l23 -1M148 272l8 14M200 272l-9 14M200 272l11 15M218 272l20 1M218 272l-7 15M258 270l-8 20M311 271l-9 17M28 292l19 1M28 292l9 13M156 286l18 3M156 286l-12 19M156 286l9 19M174 289l17 -3M174 289l-9 16M191 286l20 1M191 286l9 16M211 287l-11 15M250 290l9 14M268 284l-9 20M268 284l3 22M37 305l11 16M91 300l-9 21M91 300l6 20M112 305l-15 15M112 305l9 16M165 305l-7 14M165 305l6 18M82 321l15 -1M121 321l13 0M134 321l24 -2M158 319l13 4" stroke="#2893b3" stroke-width="6.5"/><path d="M83 62h0M208 63h0M148 81h0M168 80h0M61 94h0M100 96h0M141 95h0M218 94h0M283 94h0M37 112h0M54 115h0M72 113h0M90 113h0M110 115h0M128 112h0M143 108h0M169 114h0M180 116h0M199 113h0M223 116h0M257 111h0M274 110h0M27 128h0M64 129h0M79 130h0M99 130h0M117 127h0M136 129h0M190 124h0M214 132h0M246 129h0M266 130h0M284 134h0M75 147h0M92 149h0M112 146h0M131 146h0M149 141h0M164 150h0M183 143h0M201 144h0M236 146h0M294 144h0M26 163h0M46 158h0M62 156h0M84 162h0M116 159h0M158 159h0M176 165h0M188 159h0M211 162h0M228 162h0M286 163h0M301 161h0M34 179h0M67 174h0M89 175h0M107 176h0M169 173h0M185 177h0M220 179h0M238 177h0M253 179h0M46 193h0M60 192h0M81 192h0M100 192h0M118 189h0M135 192h0M176 192h0M191 189h0M214 191h0M263 193h0M37 208h0M56 208h0M69 205h0M90 208h0M109 210h0M128 208h0M147 205h0M166 209h0M184 209h0M216 211h0M237 208h0M261 204h0M295 211h0M46 221h0M64 226h0M80 224h0M102 223h0M122 222h0M136 223h0M156 224h0M230 220h0M249 228h0M37 242h0M52 243h0M74 245h0M88 240h0M109 242h0M129 239h0M146 236h0M167 240h0M183 240h0M236 241h0M259 240h0M67 259h0M83 258h0M121 260h0M136 255h0M160 257h0M170 255h0M228 256h0M265 256h0M303 260h0M36 271h0M72 272h0M91 272h0M125 273h0M148 272h0M200 272h0M218 272h0M258 270h0M311 271h0M28 292h0M156 286h0M174 289h0M191 286h0M211 287h0M250 290h0M268 284h0M302 288h0M37 305h0M91 300h0M112 305h0M144 305h0M165 305h0M219 300h0M48 321h0M82 321h0M121 321h0M134 321h0M158 319h0M194 320h0M266 322h0M285 319h0" stroke="#2893b3" stroke-width="11" stroke-linecap="round"/><path d="M97 320l24 1" stroke="#e8606a" stroke-width="6.5"/><path d="M97 320h0" stroke="#e8606a" stroke-width="11" stroke-linecap="round"/><path d="M43 123l21 6M43 123l-10 21M175 127l-11 23M231 129l15 0M222 145l14 1M222 145l-11 17M278 147l16 -3M278 147l-11 11M278 147l8 16M102 160l-13 15M102 160l5 16M139 162l19 -3M139 162l7 14M267 158l19 5M267 158l-14 21M146 176l23 -3M146 176l8 17M203 177l17 2M203 177l11 14M154 193l22 -1M154 193l-7 12M248 193l13 11M197 204l19 7M171 224l22 -1M171 224l12 16M193 223l-10 17M267 225l7 15M219 240l-10 16M219 240l9 16M274 240l23 -1M297 239l6 21M45 252l22 7M45 252l-9 19M45 252l8 17M193 259l16 -3M193 259l-10 15M193 259l7 13M209 256l19 0M209 256l-9 16M209 256l9 16M246 258l19 -2M246 258l-8 15M246 258l12 12M53 269l19 3M53 269l-6 24M107 271l18 2M183 274l17 -2M183 274l-9 15M183 274l8 12M238 273l-8 16M47 293l-10 12M230 289l20 1M77 301l14 -1M77 301l5 20M129 302l15 3M129 302l-8 19M200 302l-6 18M259 304l12 2M259 304l-11 14M259 304l7 18M271 306l-5 16M271 306l14 13M171 323l23 -3M248 318l18 4" stroke="#217f9e" stroke-width="6.5"/><path d="M43 123h0M175 127h0M231 129h0M33 144h0M222 145h0M261 148h0M278 147h0M102 160h0M139 162h0M267 158h0M146 176h0M203 177h0M154 193h0M248 193h0M197 204h0M171 224h0M193 223h0M267 225h0M219 240h0M274 240h0M297 239h0M45 252h0M193 259h0M209 256h0M246 258h0M53 269h0M107 271h0M183 274h0M238 273h0M47 293h0M62 288h0M230 289h0M77 301h0M129 302h0M200 302h0M259 304h0M271 306h0M171 323h0M248 318h0" stroke="#217f9e" stroke-width="11" stroke-linecap="round"/><rect x="26" y="100" width="250" height="230" stroke="#aaa" stroke-width="4"/></g>
<path d="M38.0,99.6V279.1M38.0,99.6H217.5M73.9,99.6V279.1M38.0,135.5H217.5M109.8,99.6V279.1M38.0,171.39999999999998H217.5M145.7,99.6V279.1M38.0,207.29999999999998H217.5M181.6,99.6V279.1M38.0,243.2H217.5M217.5,99.6V279.1M38.0,279.1H217.5" stroke="#444" stroke-width="0.8" fill="none"/>
<rect x="109.8" y="171.39999999999998" width="35.9" height="35.9" fill="none" stroke="#e0201c" stroke-width="1.4"/>
<text x="35.8" y="121.8" text-anchor="end" class="tk3">3.5</text>
<text x="35.8" y="157.3" text-anchor="end" class="tk3">3.0</text>
<text x="35.8" y="192.8" text-anchor="end" class="tk3">2.5</text>
<text x="35.8" y="227.8" text-anchor="end" class="tk3">2.0</text>
<text x="35.8" y="262.4" text-anchor="end" class="tk3">1.5</text>
<text x="56.6" y="286.5" text-anchor="middle" class="tk3">2000</text>
<text x="91.9" y="286.5" text-anchor="middle" class="tk3">2500</text>
<text x="127.5" y="286.5" text-anchor="middle" class="tk3">3000</text>
<text x="162.8" y="286.5" text-anchor="middle" class="tk3">3500</text>
<text x="198.5" y="286.5" text-anchor="middle" class="tk3">4000</text>
<text x="126.8" y="293.5" text-anchor="middle" class="lb2">Temperature (K)</text>
<text transform="translate(22.2,191.5) rotate(-90)" text-anchor="middle" class="lb2" font-size="5.7">Density (g cm<tspan font-size="3.5" dy="-2">−3</tspan><tspan dy="2">)</tspan></text>
<text x="0.3" y="87.2" class="pl">b</text>
<rect x="220" y="160" width="8.6" height="8.8" fill="#9c3a9c"/>
<text transform="translate(232.3,164.4) rotate(90)" text-anchor="middle" class="tk2">5</text>
<rect x="220" y="172" width="8.6" height="8.8" fill="#f2a81e"/>
<text transform="translate(232.3,176.4) rotate(90)" text-anchor="middle" class="tk2">4</text>
<rect x="220" y="184" width="8.6" height="8.8" fill="#35a3c1"/>
<text transform="translate(232.3,188.4) rotate(90)" text-anchor="middle" class="tk2">3</text>
<rect x="220" y="196" width="8.6" height="8.8" fill="#f0505c"/>
<text transform="translate(232.3,200.4) rotate(90)" text-anchor="middle" class="tk2">2</text>
<rect x="220" y="208" width="8.6" height="8.8" fill="#18203e"/>
<text transform="translate(232.3,212.4) rotate(90)" text-anchor="middle" class="tk2">1</text>
<text transform="translate(237.6,188.0) rotate(90)" text-anchor="middle" class="lb2">Coordination Number</text>
<rect x="279.20" y="93.30" width="17.20" height="17.15" fill="#f9c053"/><rect x="296.40" y="93.30" width="17.20" height="17.15" fill="#fad657"/><rect x="313.60" y="93.30" width="17.20" height="17.15" fill="#f9c053"/><rect x="330.80" y="93.30" width="17.20" height="17.15" fill="#fad657"/><rect x="348.00" y="93.30" width="17.20" height="17.15" fill="#f9ad55"/><rect x="279.20" y="110.45" width="17.20" height="17.15" fill="#fad657"/><rect x="296.40" y="110.45" width="17.20" height="17.15" fill="#fad657"/><rect x="313.60" y="110.45" width="17.20" height="17.15" fill="#f9c053"/><rect x="330.80" y="110.45" width="17.20" height="17.15" fill="#fad657"/><rect x="348.00" y="110.45" width="17.20" height="17.15" fill="#f9ad55"/><rect x="279.20" y="127.60" width="17.20" height="17.15" fill="#f88e59"/><rect x="296.40" y="127.60" width="17.20" height="17.15" fill="#f88e59"/><rect x="313.60" y="127.60" width="17.20" height="17.15" fill="#fad657"/><rect x="330.80" y="127.60" width="17.20" height="17.15" fill="#fad657"/><rect x="348.00" y="127.60" width="17.20" height="17.15" fill="#f89758"/><rect x="279.20" y="144.75" width="17.20" height="17.15" fill="#f88e59"/><rect x="296.40" y="144.75" width="17.20" height="17.15" fill="#f8895a"/><rect x="313.60" y="144.75" width="17.20" height="17.15" fill="#f8855a"/><rect x="330.80" y="144.75" width="17.20" height="17.15" fill="#f8895a"/><rect x="348.00" y="144.75" width="17.20" height="17.15" fill="#f8855a"/><rect x="279.20" y="161.90" width="17.20" height="17.15" fill="#f89758"/><rect x="296.40" y="161.90" width="17.20" height="17.15" fill="#f8895a"/><rect x="313.60" y="161.90" width="17.20" height="17.15" fill="#f8895a"/><rect x="330.80" y="161.90" width="17.20" height="17.15" fill="#f8855a"/><rect x="348.00" y="161.90" width="17.20" height="17.15" fill="#f67c5c"/><path d="M296.40,93.3v85.75M279.2,110.45h86.00M313.60,93.3v85.75M279.2,127.60h86.00M330.80,93.3v85.75M279.2,144.75h86.00M348.00,93.3v85.75M279.2,161.90h86.00" stroke="#fff" stroke-width="0.6" opacity="0.7" fill="none"/><text x="287.80" y="103.38" text-anchor="middle" class="hv">0.03</text><text x="305.00" y="103.38" text-anchor="middle" class="hv">0.02</text><text x="322.20" y="103.38" text-anchor="middle" class="hv">0.03</text><text x="339.40" y="103.38" text-anchor="middle" class="hv">0.02</text><text x="356.60" y="103.38" text-anchor="middle" class="hv">0.04</text><text x="287.80" y="120.52" text-anchor="middle" class="hv">0.02</text><text x="305.00" y="120.52" text-anchor="middle" class="hv">0.02</text><text x="322.20" y="120.52" text-anchor="middle" class="hv">0.03</text><text x="339.40" y="120.52" text-anchor="middle" class="hv">0.02</text><text x="356.60" y="120.52" text-anchor="middle" class="hv">0.04</text><text x="287.80" y="137.67" text-anchor="middle" class="hv">0.07</text><text x="305.00" y="137.67" text-anchor="middle" class="hv">0.07</text><text x="322.20" y="137.67" text-anchor="middle" class="hv">0.02</text><text x="339.40" y="137.67" text-anchor="middle" class="hv">0.02</text><text x="356.60" y="137.67" text-anchor="middle" class="hv">0.06</text><text x="287.80" y="154.82" text-anchor="middle" class="hv">0.07</text><text x="305.00" y="154.82" text-anchor="middle" class="hv">0.08</text><text x="322.20" y="154.82" text-anchor="middle" class="hv">0.09</text><text x="339.40" y="154.82" text-anchor="middle" class="hv">0.08</text><text x="356.60" y="154.82" text-anchor="middle" class="hv">0.09</text><text x="287.80" y="171.97" text-anchor="middle" class="hv">0.06</text><text x="305.00" y="171.97" text-anchor="middle" class="hv">0.08</text><text x="322.20" y="171.97" text-anchor="middle" class="hv">0.08</text><text x="339.40" y="171.97" text-anchor="middle" class="hv">0.09</text><text x="356.60" y="171.97" text-anchor="middle" class="hv">0.11</text><rect x="279.2" y="93.3" width="86.00" height="85.75" fill="none" stroke="#555" stroke-width="0.6"/><text x="322.20" y="87.30" text-anchor="middle" class="ti">C-GAP-17 energy error</text><text x="276.40" y="103.78" text-anchor="end" class="tk2">3.5</text><text x="276.40" y="120.92" text-anchor="end" class="tk2">3.0</text><text x="276.40" y="138.07" text-anchor="end" class="tk2">2.5</text><text x="276.40" y="155.22" text-anchor="end" class="tk2">2.0</text><text x="276.40" y="172.37" text-anchor="end" class="tk2">1.5</text>
<rect x="279.00" y="200.50" width="17.20" height="16.95" fill="#f88e59"/><rect x="296.20" y="200.50" width="17.20" height="16.95" fill="#f89758"/><rect x="313.40" y="200.50" width="17.20" height="16.95" fill="#f9ad55"/><rect x="330.60" y="200.50" width="17.20" height="16.95" fill="#f88e59"/><rect x="347.80" y="200.50" width="17.20" height="16.95" fill="#f3735f"/><rect x="279.00" y="217.45" width="17.20" height="16.95" fill="#f26f61"/><rect x="296.20" y="217.45" width="17.20" height="16.95" fill="#f5775e"/><rect x="313.40" y="217.45" width="17.20" height="16.95" fill="#f89758"/><rect x="330.60" y="217.45" width="17.20" height="16.95" fill="#f8855a"/><rect x="347.80" y="217.45" width="17.20" height="16.95" fill="#f88e59"/><rect x="279.00" y="234.40" width="17.20" height="16.95" fill="#f9c053"/><rect x="296.20" y="234.40" width="17.20" height="16.95" fill="#f9ad55"/><rect x="313.40" y="234.40" width="17.20" height="16.95" fill="#f9c053"/><rect x="330.60" y="234.40" width="17.20" height="16.95" fill="#fad657"/><rect x="347.80" y="234.40" width="17.20" height="16.95" fill="#f9c053"/><rect x="279.00" y="251.35" width="17.20" height="16.95" fill="#f89758"/><rect x="296.20" y="251.35" width="17.20" height="16.95" fill="#f7805b"/><rect x="313.40" y="251.35" width="17.20" height="16.95" fill="#f88e59"/><rect x="330.60" y="251.35" width="17.20" height="16.95" fill="#f89758"/><rect x="347.80" y="251.35" width="17.20" height="16.95" fill="#f89758"/><rect x="279.00" y="268.30" width="17.20" height="16.95" fill="#f8895a"/><rect x="296.20" y="268.30" width="17.20" height="16.95" fill="#f89758"/><rect x="313.40" y="268.30" width="17.20" height="16.95" fill="#f3735f"/><rect x="330.60" y="268.30" width="17.20" height="16.95" fill="#ef6863"/><rect x="347.80" y="268.30" width="17.20" height="16.95" fill="#f3735f"/><path d="M296.20,200.5v84.75M279.0,217.45h86.00M313.40,200.5v84.75M279.0,234.40h86.00M330.60,200.5v84.75M279.0,251.35h86.00M347.80,200.5v84.75M279.0,268.30h86.00" stroke="#fff" stroke-width="0.6" opacity="0.7" fill="none"/><text x="287.60" y="210.47" text-anchor="middle" class="hv">0.07</text><text x="304.80" y="210.47" text-anchor="middle" class="hv">0.06</text><text x="322.00" y="210.47" text-anchor="middle" class="hv">0.04</text><text x="339.20" y="210.47" text-anchor="middle" class="hv">0.07</text><text x="356.40" y="210.47" text-anchor="middle" class="hv">0.13</text><text x="287.60" y="227.42" text-anchor="middle" class="hv">0.14</text><text x="304.80" y="227.42" text-anchor="middle" class="hv">0.12</text><text x="322.00" y="227.42" text-anchor="middle" class="hv">0.06</text><text x="339.20" y="227.42" text-anchor="middle" class="hv">0.09</text><text x="356.40" y="227.42" text-anchor="middle" class="hv">0.07</text><text x="287.60" y="244.38" text-anchor="middle" class="hv">0.03</text><text x="304.80" y="244.38" text-anchor="middle" class="hv">0.04</text><text x="322.00" y="244.38" text-anchor="middle" class="hv">0.03</text><text x="339.20" y="244.38" text-anchor="middle" class="hv">0.02</text><text x="356.40" y="244.38" text-anchor="middle" class="hv">0.03</text><text x="287.60" y="261.32" text-anchor="middle" class="hv">0.06</text><text x="304.80" y="261.32" text-anchor="middle" class="hv">0.10</text><text x="322.00" y="261.32" text-anchor="middle" class="hv">0.07</text><text x="339.20" y="261.32" text-anchor="middle" class="hv">0.06</text><text x="356.40" y="261.32" text-anchor="middle" class="hv">0.06</text><text x="287.60" y="278.28" text-anchor="middle" class="hv">0.08</text><text x="304.80" y="278.28" text-anchor="middle" class="hv">0.06</text><text x="322.00" y="278.28" text-anchor="middle" class="hv">0.13</text><text x="339.20" y="278.28" text-anchor="middle" class="hv">0.16</text><text x="356.40" y="278.28" text-anchor="middle" class="hv">0.13</text><rect x="279.0" y="200.5" width="86.00" height="84.75" fill="none" stroke="#555" stroke-width="0.6"/><rect x="313.90" y="234.90" width="16.20" height="15.95" fill="none" stroke="#d4180c" stroke-width="1.6"/><text x="322.00" y="193.70" text-anchor="middle" class="ti">CASTEP-GAP model</text><text x="276.20" y="210.88" text-anchor="end" class="tk2">3.5</text><text x="276.20" y="227.82" text-anchor="end" class="tk2">3.0</text><text x="276.20" y="244.78" text-anchor="end" class="tk2">2.5</text><text x="276.20" y="261.72" text-anchor="end" class="tk2">2.0</text><text x="276.20" y="278.68" text-anchor="end" class="tk2">1.5</text><text x="287.90" y="292.25" text-anchor="middle" class="tk2">2000</text><text x="305.10" y="292.25" text-anchor="middle" class="tk2">2500</text><text x="322.30" y="292.25" text-anchor="middle" class="tk2">3000</text><text x="339.50" y="292.25" text-anchor="middle" class="tk2">3500</text><text x="356.70" y="292.25" text-anchor="middle" class="tk2">4000</text><text x="323.60" y="299.55" text-anchor="middle" class="lb2">Temperature (K)</text>
<rect x="414.90" y="93.30" width="17.20" height="17.15" fill="#fada58"/><rect x="432.10" y="93.30" width="17.20" height="17.15" fill="#fad557"/><rect x="449.30" y="93.30" width="17.20" height="17.15" fill="#f9d155"/><rect x="466.50" y="93.30" width="17.20" height="17.15" fill="#fae059"/><rect x="483.70" y="93.30" width="17.20" height="17.15" fill="#fae95c"/><rect x="414.90" y="110.45" width="17.20" height="17.15" fill="#fada58"/><rect x="432.10" y="110.45" width="17.20" height="17.15" fill="#fade59"/><rect x="449.30" y="110.45" width="17.20" height="17.15" fill="#fadc58"/><rect x="466.50" y="110.45" width="17.20" height="17.15" fill="#f9cf55"/><rect x="483.70" y="110.45" width="17.20" height="17.15" fill="#f9ad54"/><rect x="414.90" y="127.60" width="17.20" height="17.15" fill="#fad356"/><rect x="432.10" y="127.60" width="17.20" height="17.15" fill="#f9ca54"/><rect x="449.30" y="127.60" width="17.20" height="17.15" fill="#f9d155"/><rect x="466.50" y="127.60" width="17.20" height="17.15" fill="#f9cd54"/><rect x="483.70" y="127.60" width="17.20" height="17.15" fill="#f9ca54"/><rect x="414.90" y="144.75" width="17.20" height="17.15" fill="#fadc58"/><rect x="432.10" y="144.75" width="17.20" height="17.15" fill="#fadc58"/><rect x="449.30" y="144.75" width="17.20" height="17.15" fill="#fae75c"/><rect x="466.50" y="144.75" width="17.20" height="17.15" fill="#fae059"/><rect x="483.70" y="144.75" width="17.20" height="17.15" fill="#fae35b"/><rect x="414.90" y="161.90" width="17.20" height="17.15" fill="#fadc58"/><rect x="432.10" y="161.90" width="17.20" height="17.15" fill="#fade59"/><rect x="449.30" y="161.90" width="17.20" height="17.15" fill="#fae059"/><rect x="466.50" y="161.90" width="17.20" height="17.15" fill="#fade59"/><rect x="483.70" y="161.90" width="17.20" height="17.15" fill="#fae75c"/><path d="M432.10,93.3v85.75M414.9,110.45h86.00M449.30,93.3v85.75M414.9,127.60h86.00M466.50,93.3v85.75M414.9,144.75h86.00M483.70,93.3v85.75M414.9,161.90h86.00" stroke="#fff" stroke-width="0.6" opacity="0.7" fill="none"/><text x="423.50" y="103.38" text-anchor="middle" class="hv">0.84</text><text x="440.70" y="103.38" text-anchor="middle" class="hv">0.86</text><text x="457.90" y="103.38" text-anchor="middle" class="hv">0.88</text><text x="475.10" y="103.38" text-anchor="middle" class="hv">0.81</text><text x="492.30" y="103.38" text-anchor="middle" class="hv">0.76</text><text x="423.50" y="120.52" text-anchor="middle" class="hv">0.84</text><text x="440.70" y="120.52" text-anchor="middle" class="hv">0.82</text><text x="457.90" y="120.52" text-anchor="middle" class="hv">0.83</text><text x="475.10" y="120.52" text-anchor="middle" class="hv">0.89</text><text x="492.30" y="120.52" text-anchor="middle" class="hv">1.03</text><text x="423.50" y="137.67" text-anchor="middle" class="hv">0.87</text><text x="440.70" y="137.67" text-anchor="middle" class="hv">0.91</text><text x="457.90" y="137.67" text-anchor="middle" class="hv">0.88</text><text x="475.10" y="137.67" text-anchor="middle" class="hv">0.90</text><text x="492.30" y="137.67" text-anchor="middle" class="hv">0.91</text><text x="423.50" y="154.82" text-anchor="middle" class="hv">0.83</text><text x="440.70" y="154.82" text-anchor="middle" class="hv">0.83</text><text x="457.90" y="154.82" text-anchor="middle" class="hv">0.77</text><text x="475.10" y="154.82" text-anchor="middle" class="hv">0.81</text><text x="492.30" y="154.82" text-anchor="middle" class="hv">0.79</text><text x="423.50" y="171.97" text-anchor="middle" class="hv">0.83</text><text x="440.70" y="171.97" text-anchor="middle" class="hv">0.82</text><text x="457.90" y="171.97" text-anchor="middle" class="hv">0.81</text><text x="475.10" y="171.97" text-anchor="middle" class="hv">0.82</text><text x="492.30" y="171.97" text-anchor="middle" class="hv">0.77</text><rect x="414.9" y="93.3" width="86.00" height="85.75" fill="none" stroke="#555" stroke-width="0.6"/><text x="457.90" y="87.30" text-anchor="middle" class="ti">C-GAP-17 force error</text><text x="411.10" y="103.78" text-anchor="end" class="tk2">3.5</text><text x="411.10" y="120.92" text-anchor="end" class="tk2">3.0</text><text x="411.10" y="138.07" text-anchor="end" class="tk2">2.5</text><text x="411.10" y="155.22" text-anchor="end" class="tk2">2.0</text><text x="411.10" y="172.37" text-anchor="end" class="tk2">1.5</text>
<rect x="414.70" y="200.50" width="17.20" height="16.95" fill="#f57a5d"/><rect x="431.90" y="200.50" width="17.20" height="16.95" fill="#f67b5c"/><rect x="449.10" y="200.50" width="17.20" height="16.95" fill="#f26f61"/><rect x="466.30" y="200.50" width="17.20" height="16.95" fill="#f7805b"/><rect x="483.50" y="200.50" width="17.20" height="16.95" fill="#f8875a"/><rect x="414.70" y="217.45" width="17.20" height="16.95" fill="#f9a256"/><rect x="431.90" y="217.45" width="17.20" height="16.95" fill="#f99e57"/><rect x="449.10" y="217.45" width="17.20" height="16.95" fill="#f9a057"/><rect x="466.30" y="217.45" width="17.20" height="16.95" fill="#f89159"/><rect x="483.50" y="217.45" width="17.20" height="16.95" fill="#f88a59"/><rect x="414.70" y="234.40" width="17.20" height="16.95" fill="#f9bb52"/><rect x="431.90" y="234.40" width="17.20" height="16.95" fill="#f9b553"/><rect x="449.10" y="234.40" width="17.20" height="16.95" fill="#f9c453"/><rect x="466.30" y="234.40" width="17.20" height="16.95" fill="#f9c453"/><rect x="483.50" y="234.40" width="17.20" height="16.95" fill="#f9b852"/><rect x="414.70" y="251.35" width="17.20" height="16.95" fill="#f89d57"/><rect x="431.90" y="251.35" width="17.20" height="16.95" fill="#f9a656"/><rect x="449.10" y="251.35" width="17.20" height="16.95" fill="#f9bf53"/><rect x="466.30" y="251.35" width="17.20" height="16.95" fill="#f9ab55"/><rect x="483.50" y="251.35" width="17.20" height="16.95" fill="#f9c653"/><rect x="414.70" y="268.30" width="17.20" height="16.95" fill="#f4745f"/><rect x="431.90" y="268.30" width="17.20" height="16.95" fill="#f89958"/><rect x="449.10" y="268.30" width="17.20" height="16.95" fill="#f89d57"/><rect x="466.30" y="268.30" width="17.20" height="16.95" fill="#f88f59"/><rect x="483.50" y="268.30" width="17.20" height="16.95" fill="#f9b553"/><path d="M431.90,200.5v84.75M414.7,217.45h86.00M449.10,200.5v84.75M414.7,234.40h86.00M466.30,200.5v84.75M414.7,251.35h86.00M483.50,200.5v84.75M414.7,268.30h86.00" stroke="#fff" stroke-width="0.6" opacity="0.7" fill="none"/><text x="423.30" y="210.47" text-anchor="middle" class="hv">1.33</text><text x="440.50" y="210.47" text-anchor="middle" class="hv">1.32</text><text x="457.70" y="210.47" text-anchor="middle" class="hv">1.39</text><text x="474.90" y="210.47" text-anchor="middle" class="hv">1.29</text><text x="492.10" y="210.47" text-anchor="middle" class="hv">1.24</text><text x="423.30" y="227.42" text-anchor="middle" class="hv">1.08</text><text x="440.50" y="227.42" text-anchor="middle" class="hv">1.10</text><text x="457.70" y="227.42" text-anchor="middle" class="hv">1.09</text><text x="474.90" y="227.42" text-anchor="middle" class="hv">1.17</text><text x="492.10" y="227.42" text-anchor="middle" class="hv">1.22</text><text x="423.30" y="244.38" text-anchor="middle" class="hv">0.98</text><text x="440.50" y="244.38" text-anchor="middle" class="hv">1.00</text><text x="457.70" y="244.38" text-anchor="middle" class="hv">0.94</text><text x="474.90" y="244.38" text-anchor="middle" class="hv">0.94</text><text x="492.10" y="244.38" text-anchor="middle" class="hv">0.99</text><text x="423.30" y="261.32" text-anchor="middle" class="hv">1.11</text><text x="440.50" y="261.32" text-anchor="middle" class="hv">1.06</text><text x="457.70" y="261.32" text-anchor="middle" class="hv">0.96</text><text x="474.90" y="261.32" text-anchor="middle" class="hv">1.04</text><text x="492.10" y="261.32" text-anchor="middle" class="hv">0.93</text><text x="423.30" y="278.28" text-anchor="middle" class="hv">1.36</text><text x="440.50" y="278.28" text-anchor="middle" class="hv">1.13</text><text x="457.70" y="278.28" text-anchor="middle" class="hv">1.11</text><text x="474.90" y="278.28" text-anchor="middle" class="hv">1.18</text><text x="492.10" y="278.28" text-anchor="middle" class="hv">1.00</text><rect x="414.7" y="200.5" width="86.00" height="84.75" fill="none" stroke="#555" stroke-width="0.6"/><rect x="449.60" y="234.90" width="16.20" height="15.95" fill="none" stroke="#d4180c" stroke-width="1.6"/><text x="457.70" y="193.70" text-anchor="middle" class="ti">CASTEP-GAP model</text><text x="410.90" y="210.88" text-anchor="end" class="tk2">3.5</text><text x="410.90" y="227.82" text-anchor="end" class="tk2">3.0</text><text x="410.90" y="244.78" text-anchor="end" class="tk2">2.5</text><text x="410.90" y="261.72" text-anchor="end" class="tk2">2.0</text><text x="410.90" y="278.68" text-anchor="end" class="tk2">1.5</text><text x="423.60" y="292.25" text-anchor="middle" class="tk2">2000</text><text x="440.80" y="292.25" text-anchor="middle" class="tk2">2500</text><text x="458.00" y="292.25" text-anchor="middle" class="tk2">3000</text><text x="475.20" y="292.25" text-anchor="middle" class="tk2">3500</text><text x="492.40" y="292.25" text-anchor="middle" class="tk2">4000</text><text x="459.30" y="299.55" text-anchor="middle" class="lb2">Temperature (K)</text>
<text transform="translate(264.7,137) rotate(-90)" text-anchor="middle" class="lb2">Density (g cm<tspan font-size="3.5" dy="-2">−3</tspan><tspan dy="2">)</tspan></text>
<text transform="translate(264.7,243) rotate(-90)" text-anchor="middle" class="lb2">Density (g cm<tspan font-size="3.5" dy="-2">−3</tspan><tspan dy="2">)</tspan></text>
<text transform="translate(400.4,137) rotate(-90)" text-anchor="middle" class="lb2">Density (g cm<tspan font-size="3.5" dy="-2">−3</tspan><tspan dy="2">)</tspan></text>
<text transform="translate(400.4,243) rotate(-90)" text-anchor="middle" class="lb2">Density (g cm<tspan font-size="3.5" dy="-2">−3</tspan><tspan dy="2">)</tspan></text>
<rect x="370.0" y="151" width="4.0" height="76.5" fill="url(#cb)" stroke="#8a7048" stroke-width="0.6"/>
<text x="376.2" y="155" class="tk2">0.20</text>
<text x="376.2" y="229" class="tk2">0.01</text>
<text transform="translate(379.6,188.6) rotate(90)" text-anchor="middle" class="cbl">Energy error (eV at<tspan font-size="3.5" dy="-1.8">−1</tspan><tspan dy="1.8">)</tspan></text>
<rect x="505.0" y="151" width="4.0" height="76.5" fill="url(#cb)" stroke="#8a7048" stroke-width="0.6"/>
<text x="511.2" y="155" class="tk2">1.5</text>
<text x="511.2" y="229" class="tk2">0.7</text>
<text transform="translate(514.2,187.8) rotate(90)" text-anchor="middle" class="cbl">Force error (eV Å<tspan font-size="3.5" dy="-1.8">−1</tspan><tspan dy="1.8">)</tspan></text>
<text x="253.0" y="87.2" class="pl">c</text>
<text x="388.6" y="88.0" class="pl">d</text>
</svg></body></html>
